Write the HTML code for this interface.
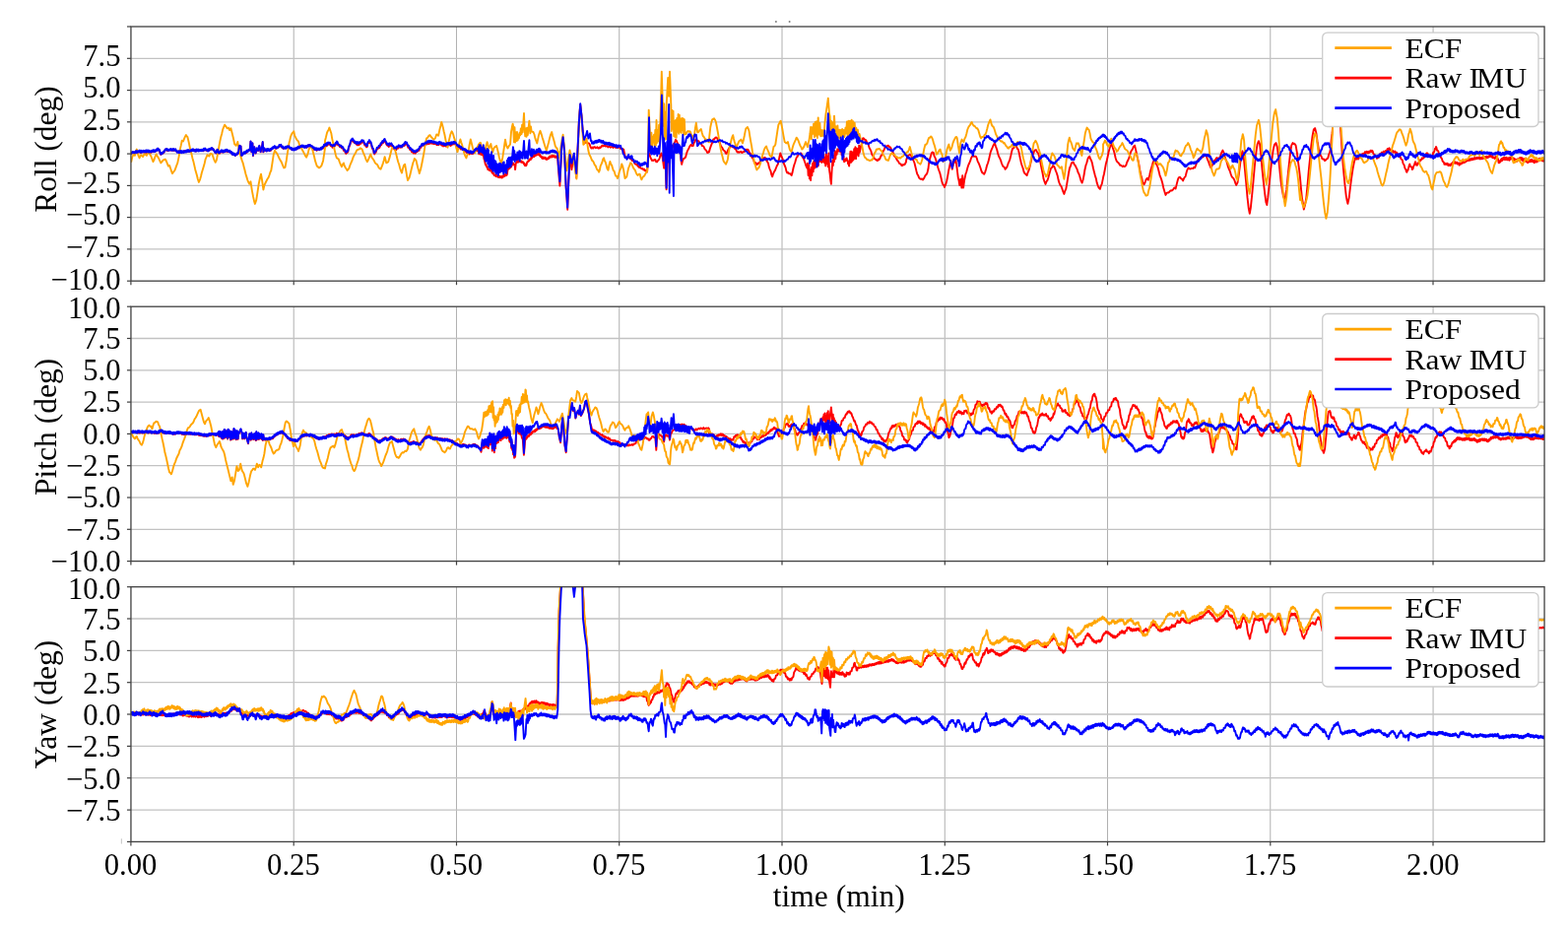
<!DOCTYPE html>
<html><head><meta charset="utf-8"><title>Roll Pitch Yaw</title>
<style>
html,body{margin:0;padding:0;background:#fff;}
body{width:1592px;height:946px;overflow:hidden;}
svg{display:block;font-family:"Liberation Serif",serif;}
.t{font-size:31.5px;fill:#000;}
.g{stroke:#c2c2c2;stroke-width:1.3;fill:none;}
.gv{stroke:#b0b0b0;stroke-width:1.0;}
.sp{stroke:#404040;stroke-width:1.3;fill:none;}
.tk{stroke:#404040;stroke-width:1.2;fill:none;}
.c{fill:none;stroke-width:1.9;stroke-linejoin:round;stroke-linecap:butt;}
</style></head><body>
<svg width="1592" height="946" viewBox="0 0 1592 946">
<rect width="1592" height="946" fill="#fff"/>

<g id="ax0">
<line class="g gv" x1="298.21" y1="27.0" x2="298.21" y2="285.2"/>
<line class="g gv" x1="463.47" y1="27.0" x2="463.47" y2="285.2"/>
<line class="g gv" x1="628.74" y1="27.0" x2="628.74" y2="285.2"/>
<line class="g gv" x1="794.00" y1="27.0" x2="794.00" y2="285.2"/>
<line class="g gv" x1="959.26" y1="27.0" x2="959.26" y2="285.2"/>
<line class="g gv" x1="1124.52" y1="27.0" x2="1124.52" y2="285.2"/>
<line class="g gv" x1="1289.79" y1="27.0" x2="1289.79" y2="285.2"/>
<line class="g gv" x1="1455.05" y1="27.0" x2="1455.05" y2="285.2"/>
<line class="g" x1="132.95" y1="59.3" x2="1568.05" y2="59.3"/>
<line class="g" x1="132.95" y1="91.6" x2="1568.05" y2="91.6"/>
<line class="g" x1="132.95" y1="123.8" x2="1568.05" y2="123.8"/>
<line class="g" x1="132.95" y1="156.1" x2="1568.05" y2="156.1"/>
<line class="g" x1="132.95" y1="188.4" x2="1568.05" y2="188.4"/>
<line class="g" x1="132.95" y1="220.6" x2="1568.05" y2="220.6"/>
<line class="g" x1="132.95" y1="252.9" x2="1568.05" y2="252.9"/>
<clipPath id="cp0"><rect x="132.95" y="27.0" width="1435.1" height="258.2"/></clipPath>
<g clip-path="url(#cp0)">
<path class="c" stroke="#ff0000" d="M133.1,156.9l1.3-2.5 .9,.3 1,.9 1.2-1.8 1,1.3 .9-.1 1-.9 .9-.3 1,1.2 .9,0 1-1.1 .9-.1 .8,.9 .9-1.2 .8,.9 .8,.5 .9-2 .8,.2 .9,1.1 .8-.8 .8,1 .9,.4 .8-1.6 .9-.1 .8,1.2 .8-1.2 .9,.7 .9-.6 1-2 .9,0 .9,.7 1,3.1 .9,1.9 1-1.1 .9-.2 1-.5 .9-2 1-1.5 .9-.4 .9,1.9 1,0 .9-1.2 1,0 .8,.8 .8-1 .9,.8 .8,.5 .9-1.2 .8,.1 .8,1.5 .9-.4 .8,1.4 .9,.2 .8-1.4 .8,.6 .9,.7 .8-.7 .8,.6 .9,.2 .8-1.5 .9,.7 .8,.5 .8-1.2 .9,0 .8,.9 .9-1.2 .8,1 .8-.1 .9-1.8 .8,.6 .8,.5 .9-1.1 .8,1.2 .9,.5 .8-1 .8-.1 .9,.6 .8-1 .9,1 .8,0 .8-.9 .9,.3 1,.7 1.1-1.7 1,.4 1,1 .9,.2 .8-.9 .9,.5 .8-.8 .9-.9 .8,.7 .8-1.1 1,.6 .9,1.9 1,1.8 .9,.7 1.3-3.7 .9,1.5 1,2.2 .9-.1 .9-2.4 .9,0 .8,1.6 .9-.3 .8-.8 .8,.6 .9-1.1 .8-.4 .8,1.5 .9-.4 .8-.4 .9,1.2 .8-.2 .8,.4 .9,2 .8,.1 .9-.7 .8,1.5 .8-.2 .9-1.2 .8,.2 .8-.9 1.3-7.5 1.3,.6 .6,9.5 .9-1.8 1-.8 .8,.2 .9-1.1 .8,.3 .8,0 .9-1.8 .8-.1 1-.8 .9-1.7 .6-6.9 .9,10.7 1-8.8 .6,12.6 1.3-8.8 1.3,6.2 1.2-5 1.3,2.5 1.2-5 1.3,6.3 1.2-4.4 .9-5.7 .7,10.1 1-3.8 1.2,2.5 .9-.4 .8,.5 .8-1.3 1,.4 .9,.8 1-.2 .9-1.7 .9-1.2 .8,.4 .8-1 .9-.4 .8,1.8 .8-.2 1-1.2 .9,0 1-.4 .9-1.5 1,.6 .9,1.9 .9,.8 1-.2 .8-.7 .9,.7 .8-.6 .9-.9 1-.4 .9,1.7 1,.2 .8,.2 .9,1.3 .8-.2 .8-1.1 .9,1.1 .8-.7 .8-.9 .9,1 .8-1.3 .9-.8 .8,1.2 .8-1 .9-.9 .8,.9 .9-.7 .8-.5 .8,1.2 .9,0 .8-.9 .9,1.3 .8-1.1 .9-1.4 1,.2 .9,1.1 1,.1 .9,.2 1,1.7 .9,1.3 .9,0 .9-.4 .8,1.3 .9-.9 .8-.7 .8,1 .9-1 .8-1 .8,.7 .9-.9 .5-1.1 .5,1.5 .5-2.3 .5,1.1 .5-1.5 0,.7 .5-1.1 .5,1.2 .5-1.5 .5,1 .5-.9 .6-1.2 .7,.8 .6-.8 .6-.2 .7,2.2 .6,.5 .6-.4 .6,1.8 .7-.8 .6-.9 .6,.9 .7-1.3 .6-1.5 .6,.5 .6-2.1 .7,.4 .6,2.4 .6,.3 .7-.4 .6,2 .6-.3 .7-.2 .6,1.6 .6-.1 .6,0 .7,2.6 .6-.1 .6,.4 .7,2.3 .6,.4 .6-1.8 .6,.9 .7-1 .6-3.4 .6-1.6 .7-1.6 .6-2.2 .5-1.9 .6,.1 .5-1.3 .6-.5 .5,2.3 .5-.8 .6,1.5 .6,.6 .6-.7 .6,1.4 .5,.7 .6-1 .5,1.8 .5-1.4 .5,.5 .6,.7 .6-1.9 .6,.6 .7,0 .6-2.7 .6,.1 .7,1.3 .6-.7 .6,1.3 .7,2.3 .6,.2 .6-.2 .6,1.9 .7-.4 .6-3.1 .6-1.3 .5,.3 .5-1.4 .5,.5 .6,1.5 .5,.1 .6,2.1 .6,2.4 .6,1.4 .7,.6 .6,3.2 .6,1.2 .6-2 .7,.1 .6-1.8 .6-1.6 .7,.1 .6-1 .6-1.3 .6,.9 .7-1.5 .6-1.5 .6,.2 .7-1.9 .5-.7 .5,.7 .5-1.2 .6-1.7 .6-.2 .6,2.4 .5-.2 .6,2.2 .6,.9 .6-.8 .7,1.8 .6,.7 .6-2.1 .6,.1 .7,.9 .6-1.5 .6,1.2 .7,1.8 .6-.4 .6,1.2 .6,1.3 .7-.9 .6,.8 .6,.6 .7-1.9 .6,.1 .6,.3 .6-2.3 .7,.7 .6,.7 .6-.9 .7,.8 .6-.1 .6-1.7 .6,.6 .5,0 .6-1.7 .5,1 .5-2.2 .5-.3 .6,1.3 .6-.3 .6,1.5 .7,2 .6-.6 .6,1.2 .7,1.7 .6-.8 .6,1.6 .7,1.5 .6-.7 .6,1.1 .6,.9 .7-1.1 .6,.8 .6,.4 .7-2.2 .6,.5 .6,0 .6-1.7 .7,.5 .6-.1 .6-2.6 .7-.5 .6,.2 .6-2.7 .6,0 .7,.5 .6-.9 .6,1 .7-.3 .6-1.7 .6,.2 .6,.7 .7-1.5 .6,.1 .5,1 .5-1.5 .5,1.2 .5-1.8 .5,.5 .5,.8 .5-1.2 .5,1.5 .5-1.3 .5,.8 .5,.8 .5-1.8 .5,2 .5-1.5 .5,1.2 .6,.4 .5-1 .5,1.9 .5-1.6 .5,.9 .5,.7 .5-1.8 .5,1.3 .5-1.3 .5,.5 .5,.8 .5-.6 .5,1.6 .5-1.2 .5,.6 .5,1.3 .5-1.3 .5,1.1 .5-1.1 .5,.6 .5,.7 .5-1.3 .5,1.3 .5-2 .5,.1 .5,.8 .5-1.5 .5,1.5 .5-.8 .5,.6 .5,.8 .6-1.7 .5,1.1 .5-1.5 .5,.1 .6,.5 .6-1.8 .6,.6 .7,1.4 .6-.6 .6,1.1 .7,1.7 .6-.7 .6,.9 .6,1.3 .7-1 .6,1 .6,1.1 .7-.9 .6,1 .6,.6 .7-.5 .6,1.2 .5,.7 .5-1.5 .5,1.8 .5-1.3 .5,1.5 .5,1 .5-1.3 .5,2.1 .5-1.2 .5,.7 .5,1.2 .5-1.5 .5,1 .5-1.4 .5,.7 .7,1 .6-1.6 .6,1.2 .6-.6 .7-2.5 .6,0 .6,0 .7-1 .6,.3 .5,1.2 .5-1.9 .5,1.5 .5-1.3 .5,.5 -.7-1.8 .4,6.1 .5-7.9 .5,5.7 .5-5.7 .1,7.7 .6,.9 .6-1.5 .5,1.8 .6-1.4 .6,1.5 .6,3.6 .6,1.6 .7,3.7 .5,1.4 .5-.2 .6,2.2 .5-.6 .5,2.8 .6-.2 .5-.2 .5,1.5 .5-1.3 .6,1.5 .5-.8 .5,1.2 .6,1.8 .5-1 .5,1.9 .5-.6 .6,2.3 .5,0 .5-.6 .6,1.4 .5-1.2 .5,1.6 .5-1.1 .6,1.2 .5,.5 .5-1.3 .5,1.5 .6-1.4 .5,1.6 .5-.9 .6-.5 .5,1.6 .5-1.9 .5,1.3 .6-2 .5,.8 .5,.2 .6-1.8 .5,1.2 .5-1.7 .5,1.4 .6-1.2 .6-4.7 .5-1.4 .5,.7 .5-1.8 .5,1.2 .5-1.3 .6-1.1 .5,1 .5-2.6 .6,.8 .5-2.1 .5,.2 .7,1.5 .6-.2 .6,5.1 .7-6.4 .6-1.2 .5-.9 .5,1.2 .6-1.7 .5,1.4 .5-1.8 .6,1.1 .5,.3 .5-.9 .5,1.6 .6-1.2 .5,1.3 .5-.4 .6-.1 .5,2.2 .5-1 .5,2.4 .6-1.2 .5,1.5 .6-.6 .7-3.1 .6-.8 .5,.3 .5-1.4 .5,.6 .5-1.9 .5,.5 .5,.2 .6-2.4 .5,1 .5-2.2 .5,.3 .5,.5 .5-1.8 .5,1.6 .5-2.2 .5,.6 .5,.4 .6-1.5 .5,1.1 .5-1.4 .6,.9 .5-.8 .5-.5 .5,2.2 .6-1.1 .5,2.3 .5-.8 .6,1.1 .5,1.4 .5-1.5 .5,1.8 .6-1.6 .5,1.3 .5-.1 .6-.9 .5,1.8 .5-1.2 .5,1.6 .6-1.3 .5,.6 .5,.1 .6-1.9 .5,1 .5-2 .5,1.2 .6-.9 .5-.6 .5,1.3 .5-1.8 .6,1.4 .5-1.2 .5,.9 .5,.6 .5-1.1 .6,1.5 .5-1.2 .5,.2 .4,1.1 .5-.5 .5,3.8 .4,6.2 .8,9.9 .8,9.3 1-20.3 .9-20.2 1.3-8.2 1.2,10.7 1,20.1 .9,19.7 .8,11.1 .7,11.3 .7-17.9 .7-18.3 .9-19.1 .9,7.2 1,7.5 .8-5.1 .9-5.9 .8-5 .7,8.2 .8,7.7 .8,8.3 .7-15.9 .8-16.4 1.2-25.2 1.3-17 1.2,10.7 1.3,16.4 1.3,12.5 .8-.6 .8-.1 .9-.5 .8,.3 .8,.8 .9,.1 .8,1.2 .9,2.8 .8,1.1 .8-1 .9,.9 .8-1.2 .9-.2 .8,1.2 .8-.4 .9-.7 .8,1.4 .9,0 .8-1.2 .8,.5 .9-1.2 .8-1.1 .8,.9 .9-.4 .8-1 .9,1.5 .8-.5 .8,0 .9,1.4 .8-.8 .9,0 .8,1.1 .8-.5 1-.7 .9,1.4 1-1.4 .9,.7 .9,.7 1-1.3 .9,1.4 1-.8 .8-.4 .9,1.9 .8-.3 .8,1.4 .9-.8 .8,.7 1,4.9 .9,3.3 1-.5 1.1,1 1-1.1 .9,.3 .9,1.7 .9-.3 .9,2 .8,0 1.1,.9 1,2.4 1.1,.5 .8,0 .9,1.8 .8-.2 .8,1.7 .9-.4 .8,.9 .9,.7 .8-.4 .8,1.4 .9-.7 .8,1.7 .8-.2 1.3,1.3 1.3-20.2 .9,2 1,3.1 .9,2.2 .9,1.5 .9-.7 .8,.6 .9-1.1 .8,.3 .8,2.2 .9,0 .8-1.5 .8-.6 .9-1.7 .9-3.6 1-1.4 1.2,5 1.3,10.1 1.2-13 1.3,34.6 .9-21.3 1-22.9 .9-.2 1,1.9 .9-.7 1,1.5 .9-1.8 1-3 .9-1.3 .9-2.7 1,1.3 .9,2.4 1,1.6 .9,1 .8,5.3 .7,7.5 .8,6 1-3.8 1.1-2.5 1,0 .9-1.2 .9-3.5 1-2.8 .9-1.5 1-2.3 .9-1.6 1-.9 .9,1.3 .9,0 .9-2.9 .8-1.1 .9-2.3 .8-.3 .8,1.3 .9,.2 .8,.3 .9,2.1 .8,.1 .8,.5 .9,2 .8,.1 .8,.7 .9,2.2 .8,.8 1,1.1 .9,2.1 1-.2 .9-1.7 0,1.1 .9-3.6 1-2.7 .9-2.2 1-3.5 .8-1.1 .9-.1 .8-1.3 .9-.2 1,.8 .9,2.4 1,1.4 .8,.9 .8,2.8 .9,1.3 .8,1 .9,2.1 .8,.7 .8,.4 .9,2.3 .8,.4 1-2.5 .9-1.9 .9-1.2 1-2.5 .9,0 1,1.3 .9-.9 1,.8 .9,1.9 .9,.4 1,2.2 .9,1.2 .9-.7 .8,.7 .8-.6 .9-.4 .8,1.3 .9-.3 .8-1.1 .8,.4 .9-1.2 .8-1.1 .9,.6 .8-.8 .8,.7 .9,2.1 .8,1 .8,.9 .9,2.9 .8,1.2 .9,1.2 .8,2.5 .8,1.4 .9-.3 .8,1.8 .9-.3 .8-1.3 .8,.4 .9-1.6 .8-1.6 .8-.2 .9-2 .8-.3 .9,.6 .8-.9 .8,1.3 .9,1.9 .8,1.2 .9,1.6 .8,3.8 .8,2.2 .9,1.9 .8,3.7 .9,1.9 .9-3 .9-2 1-1.4 .9-2.4 1-2.4 .9-1.4 .8-3.3 .9-4.7 .8-3.3 1,3.1 .9,1.9 .9,2.2 .8,3.6 .8,1.8 .9,2.1 .8,3.5 .8,1.9 .9-.5 .8,1.2 .9,0 .9,.5 .9,1.4 1-3.2 .9-4.4 .9-3.3 .8-2.2 .9-3.3 .8-2.2 .8-.6 .9-2.2 .8-.5 .8,.1 .9-.9 .8,1.1 .9,3 .8,.9 .9,2.3 1,2.8 .9,2.9 1,2.1 .6-4.9 .6,12.4 .7-10.4 .6,13.8 .6-8.7 .6,10.3 .7-13 .6,8.1 .6-12.4 .7,8.6 .6-11.1 .6,7.6 .6-6.4 .7,5.3 .6-8 .6,5 .7-5.1 .6,6.9 .6-10.3 .6,5.5 .7-6.3 .6,6.7 .6-6.7 .7,7.6 .6-7.6 .6,6.7 .7-7.3 .6,8.5 .6-5.3 .6,8.4 .7-12.1 .6,9.9 .6-7.5 .7,10.7 .6-13.9 .6,16.8 .6,4.1 .7,6.6 .6,3.9 .6-12.3 .7-11.3 .6,4.8 .6-9.9 .6,6 .7-11.2 .6,8.4 .6-7 .7,2.5 .6-5.7 .6,2.5 .6-1.9 .7,1.8 .6-1.5 .6,1.6 .7-2.9 .6,6.6 .6-5.4 .6,4.8 .7,2.5 .6,4.9 .5-.3 .5-1.7 .5,.7 .5-1.9 .5-.6 .5,2.6 .5,0 .5,3.3 .5,.3 .5,2 .7-6.4 .6-8.4 .6,11.1 .7-11.1 .6,9.8 .6-8.7 .6,7.4 .7-11.2 .6,9.7 .6-11.6 .7,11.9 .6-10.6 .6,6.4 .6-5.7 .7,7.2 .6-10.8 .6,7.2 1.1-5.5 1-3.6 1.1-5.4 .8-.2 .9,1.6 .8-.1 .8,.8 .9,2.2 .8,.7 .8,1.9 .9,3.1 .8,1.3 .9,1.8 .8,3.2 .8,1.3 .9,.8 .8,2.1 .9,.9 .8,.1 .8,1.1 .9,.1 .8-1.5 .8,.4 .9-1.5 .8-2.3 .9-.5 .8-2.2 .8-2.3 .9-1.3 .8-2.7 .9-.6 .8,.2 .8-.8 .9-.2 .8,1.7 .8-.3 .9,1.3 .8,2.6 .9,1.2 .8,1.1 .8,2.7 .9,1.2 .8,.5 .9,2.1 .8,1.2 .8,.7 .9,1.9 .8,.5 .8,.2 .9,1.7 .8,0 .9-1 .8,.4 .8-.7 1.3-2.5 0-1.2 .9-2.9 1-2.2 .9-.2 1-1 .9,.6 1,1.9 .9,2.6 .9,1.2 1,2.5 .9,3.7 1,4.2 .9,3.4 1,1.5 .9,2.3 1,.9 .9,.3 .9-.3 1,1 .9-1.1 1-2.1 .9-1.6 1-.9 .8-2 .8-3 .7-5.9 .8-4.2 .9-2.8 1-3.5 .9-.9 1,.3 .9,3.6 1,2 .9,2.7 .9,3.6 1,3.6 .9,2.7 1,2.6 .9,3.7 1,4.4 .9,3.2 1,.9 .9,2.2 1.3-3.1 .9-3.2 .9-4.4 1-5.9 .9-4.2 1.3-6.2 .7,4.6 .8,4.2 .8-3.8 .8-2.5 1-1.2 .9-2.6 1.3,8.8 1.2,10.1 .8,3 .7,4.5 1-6.3 1.1,8.8 .8-12.5 .9,12.5 1-7.5 1.3-6.3 .9-2.6 1-3.7 .9-2.9 1-2.1 .9-2.1 .9-3 1-1.7 .9-.8 1,.8 .9-.1 1,.1 .9,1.7 .9,3.2 1,1.9 .9,2.2 1,2.8 .9,3 1,2 .9,.2 .9,1.1 1-2.2 .9-2.8 1-4 .9-2.3 1-3.4 .9-4.2 .9-3.8 1-2.5 .9-1.9 1-2.5 1.2-1.9 1.3,3.8 .9,2.4 1,3.9 .9,3.1 1,1.9 .9,1.9 1,3.2 .9,2.2 .9,1.5 1,.5 .9,2.1 1-1.1 .9-1.5 1-3 .9-2 .9-2.4 1-3.9 .9-4.2 1-3.3 .9,.1 1-1.4 .9-.5 .9-.1 1,2.4 .9,.7 1,4.1 .9,4.7 1,4.5 .9,3.1 1,2.8 .9,3.5 .9,1.7 1,.8 1.2,1.3 1-3.1 .9-2 1-3.5 .9-4 1-4.2 .9-3.4 .9-2 1-3 .9-.7 1,.1 .9,2.1 1,1 .9,2.7 .9,3.6 1,5.7 .9,4.4 1,4.7 .9,5.3 1,2.9 .9,2.2 1-2.6 .9-1.2 .9-2.5 1-3.8 .9-3.3 1-3 .9-.4 1-2.1 .9,.7 .9,1.8 1,2.9 .9,2.1 1,3.3 .9,4.3 1,3 .9,2 .9,1.1 1,2.7 .9,2.8 1,2.2 .9-3.1 1-1.9 .9-5 1-6.3 .9-5.4 .9-4.7 1-2 .9-3 1-.8 .9,.1 1,2.3 .9,.9 .9,1.8 1,2 .9,3.1 1,1.9 .9,2.7 1,3.6 1.2,2.5 1-3.1 .9-4.4 .9-5.6 1-4.5 .9-2.5 1-3.8 .9-2.1 1-1 .9,2.7 1,1.7 .9,3.1 .9,4.4 1,4.1 .9,3.5 1,3.2 .9,4.3 1,2.9 .9,2.1 1.3,1.3 .9-3.3 .9-1.7 1.3-6.3 0-.3 .9-3.6 1-5.2 .9-4.9 1-3.9 .9-4 1-4.8 .9-3.4 .9-2.9 1.3-1.2 .9,3.4 1,2.8 .9,3.2 1,4.4 .9,2.7 1,1.7 .9,.4 1,1.5 .8,1.4 .8-.3 .9,.8 .8,.8 .8-.9 .9,.7 .9-.2 1-1.1 .9-3 1-2 .9-1.8 .9-3.2 1-3.2 .9-1.9 1-1.1 .9-2.6 1.3-1.3 1.2,5 1.3,6.3 .9,3.9 1,4.9 .9,5.2 1,4.9 .9,3.1 1,4.4 1.2,1.9 1-1.7 .9-2.7 1.3-1.9 1.2,1.9 1.3-5 .9-4.2 1-3.3 .9-3 .9-3.3 1-.5 .9,.5 1,2.5 .9,1.2 1,2.8 .9,3.5 .9,3.8 1,2.5 .9,2.6 1,3.7 .9,4.2 1,3.4 1.2,3.7 1-1.8 .9-.7 1,.2 .9-.8 .9-1.3 1,0 .9-.2 1-1 1.2-1.9 1.3,1.2 1.2-5 1-3.9 .9-2.4 1.3-.6 .9,1.4 1,.5 1.2,1.9 1.3-3.2 1.2-1.2 1.3-5.1 .9-2.4 1-1.3 .9,1 1,.2 .9-.6 1,0 .8,.2 .8-1.3 .9,.5 .9-2.2 1-2.9 .9-2 1-1.8 .9-.4 .9-.8 1-.7 .9,.1 1-.3 .9-1.6 1-.9 .9,.2 .9,3 1,2.7 .9,1.9 1,3.1 1.2,2.6 1-1.6 .9-2.2 1-2.6 .9-1.2 1-.8 .9-1.7 .9,.1 1,1.1 .9-.9 1-1.6 1.2-3.7 1.3-2.6 1.2,2.6 1.3,5 .9,2.3 1,2.7 .9,3.6 1,2.7 .9,1.8 1,3.2 .9,2.5 .9,1.3 1,.8 .9,1.7 1,3.1 .9,2 1.3-2.6 1.2-7.5 1.3-10.1 1.3-10 1.2-4.4 1.3,6.9 1.2,12.6 1.3,13.8 1.2,13.8 1.3,11.4 1,5 1.1-6.3 1.3-12.6 1.3-13.8 1.2-13.8 1.3-12.6 .8-6 .8-5.3 1.3-3.2 1.2,3.2 1.3,12.5 1.2,13.9 1.3,12.5 1.3,11.4 1.2,8.8 .9,2.5 1-7.6 1.3-12.5 1.2-12.6 1.3-11.3 .7-5.1 .8-6.3 .8-3.7 .8-2.5 1.3-1.3 1.2,3.8 1.3,10 1.2,12.6 1.3,12.6 1.3,8.8 1.2,6.3 .8,1.8 .9,.7 .7-4.8 .8-4 1.2-12.6 1.3-12.6 1.2-11.3 1.3-8.8 1.3-2.5 .9,.9 .9-.3 1.3,1.9 1.3,7.6 1.2,10 1,7.1 .9,8 0,.1 .9,10.4 1,9.8 .9,5.1 1,6.8 1.2-4.4 1.3-7.5 1.2-12.6 1.3-15.1 1.3-12.6 1.2-12.6 1.3-10 1.2-6.3 1.3-1.3 1.3,5.1 1.2,8.8 1.3,7.5 .9,3.6 1,2.7 .8,.9 .8,2.4 .9,.5 .8-.2 .8,1.6 .9-.2 .8-1.3 .9-.1 .8-1.1 .8-3.3 .9-2.1 .8-3.4 .8-8.8 .9-7.5 .7-7.2 .8-7.9 .9-6.6 .9-6 1-1.8 .9-3.2 .8,3 .7,4.5 1.3,12.6 1.3,18.8 1.2,18.9 1.3,15.1 1.2,12.6 1.3,11.3 .8,4.3 .8,3.3 1.3-6.3 1.2-10.1 1.3-10.1 1.3-8.8 1.2-6.3 1.3-5 .6-.1 .6,1.4 .7,0 .6-1 .6,.9 .6-1.2 .7-1.9 .6,.7 .6-1.3 .7-1.3 .6,1.1 .6-1.1 .7-.8 .6,1.1 .6-1.5 .6-1.2 .7,1.4 .6-1.5 .6-.3 .7,1.7 .6-.1 .6-1.6 .6,1.1 .7-1.4 .6-.7 .6,1.4 .7-1.3 .6,.4 .6,2.4 .6,.9 .7,.3 .6,2.2 .6,.1 .7-.1 .6,1.9 .6-.6 .6-1.3 .7,.8 .6-2 .6-1.5 .7,.3 .6-1.3 .6-.8 .6,1.3 .7-1.1 .6-1.1 .6,1.3 .7-.9 .6-1 .6,.7 .7-.9 .6-1.8 .6,1.2 .6-1.3 .7-.6 .6,2.2 .6-.4 .7,.2 .6,1.6 .6-.5 .6-.3 .7,1.7 .6-.8 .6-.6 .7,1.7 .6-.4 .6,.1 .6,2 .7-.3 .6,.6 .6,2.2 .7-.2 .6,.2 .6,2.2 .6,.1 .7,.7 .6,3 .6,1.3 .7,1.1 .6,2.7 .6,1.2 .5,.4 .5,2.3 .5,.5 .6-2.4 .5,.3 .6-2.3 .6-2.2 .6-1.6 .6,2.3 .7,.2 .6,.4 .6,2.5 .7-.4 .6-2.6 .6-1.1 .7-1.7 .6-2.1 .6,1.1 .6,2.7 .7-.2 .6-1.1 .6-1.5 .7,.3 .6-1.3 .6-1.8 .6,.4 .7-1.1 .6-1.3 .6,1 .7-1 .6-1.2 .6,.5 .6-1.2 .7-2.2 .6,.6 .6-1.5 .7,.6 .6,2.1 .6-.2 .6-.1 .7,1.8 .6-.4 .6-.8 .7,.8 .6-1.3 .6-3 .6-.1 .7-1.9 .5-2 .5,.3 .5-2.1 .5,1 .6,2.9 .5-.1 .7,.6 .6,2.4 .6,.7 .6,.4 .7,2.7 .6,.7 .6,.9 .7,2.5 .6,.4 .6,.6 .6,2.2 .7-.3 .6-.9 .6,1.3 .7-1 .6-.2 .6,2.3 .6-.9 .7-.5 .6,1.5 .6-.3 .7-1.8 .6,1.1 .6-1.9 .6-1 .7,1.4 .6-1 .6-.5 .7,1.7 .6-.6 .6-.7 .6,1.9 .7-.5 .6-.7 .6,2.4 .7-1.1 .6-1.1 .6,1 .7-1.2 .6-1.1 .6,1.3 .6-.8 .5-1 .5,1.3 .5-1.8 .6,.9 .5-.6 .5-1.1 .5,1.1 .5-1.7 .5,1.2 .5-.8 .5-.6 .5,1.3 .5-1.6 .5,1.2 .5-.9 .5-.8 .5,1.5 .5-1.5 .5,1.3 .5-1.2 .5-.7 .5,1.4 .5-1.5 .5,1.3 .5-1.1 .5-.3 .5,1.1 .5-1.3 .5,.9 .5-.4 .5-.7 .5,1.7 .5-1.3 .5,1.4 .5-.5 .6-1.1 .5,1.5 .5-1.7 .5,1.5 .5-.8 .5-.7 .5,.9 .5-1.3 .5,1.2 .5-.7 .5-1 .5,1.6 .5-1.5 .5,1.3 .5-1 .5-.9 .5,1 .5-1.5 .5,1.2 .5-.5 .5-.4 .5,1.6 .5-.9 .5,1.6 .5-.6 .7-.3 .6,1.6 .6-.7 .6-1.3 .7,1.6 .6-1.5 .3,1.2 .6,.9 .7,4.1 .6,0 .6-2.1 .6,1.2 .7-2.8 .5-.5 .5,1.9 .5-2.6 .5,1.7 .5-1.2 .5-1.3 .5,2.4 .5-2 .5,2.1 .5-.5 .5-1.8 .5,2.6 .5-1.9 .5,1.8 .5-1.4 .5-.8 .5,2.6 .5-3 .5,2 .5-1.4 .5-1.3 .5,2.4 .5-1.7 .6,2.4 .5-.5 .5-.8 .5,2.8 .5-2.2 .5,2.4 .5-1.6 .5-.3 .5,2 .5-2.5 .5,1.5 .5-1.3 .5-.7 .5,1.4 .5-2.3 .5,2.1 .5-1.2 .5-.9 .5,2.5 .5-2 .5,3 .5-1.3 .5-.6 .5,2 .5-2.6 .5,2.9 .5-1.1 .5-.3 .5,2.1 .5-1.6 .5,2.2 .5-1.1 .6-1.4 .5,1.7 .5-2.1 .5,1.9 .5-.7 .5-1.6 .5,2.1 .5-1.7 .5,2 .5-.2 .5-1.4 .5,2.6 .5-2.4 .5,1.6 .5-1.7 .5-.4 .5,2.1 .5-2.5 .5,1.7 .5-1.5 .5-1 .5,2.2 .5-2.7 .5,1.8 .5-.9 .6-.9 .6,2.3 .6-2.1 .5,2.7 .6-1.8 .6,1.6 .6-1.2"/>
<path class="c" stroke="#ffa500" d="M133.1,164.8l1.3-5.7 1.3-2.5 1.2,1.3 1-3.7 .9-2.6 1.3,5 .7,2 .8,1.8 .8-1.9 .8-1.3 1,1.1 .9,.8 .9-1.8 1-1.3 .9,1 1,.9 .9-2.2 1-1.6 .9,1.7 .9,1.4 1,1.9 .9,2.5 1,2.6 .8-1.6 .7-2.2 .9-2.3 .8-1.5 .7,1.6 .8,.9 .9,1.6 1,2.2 1.2,2.5 1-1 .9-1.5 .9-.8 .8,.2 .8-.7 1,1.5 .9,2.3 1.3,3.2 1.2-.7 1.3,3.8 .8,2.4 .8,2 .8-1.2 .7-.7 1-1.4 .9-2.4 1-2.7 .9-2.3 1.3-6.3 1.2-7.5 1-4.2 .9-4.6 1.3,.6 1.2-3.1 .9-1.9 .8-1.3 .7,1.2 .8,.7 1.2,5 1.3,6.3 1.3,5 1.2,5.1 1,3.5 .9,4 .9,4 1,3.6 .8,2.7 .8,3.6 1.1,3.1 1.3-3.1 .8-2.8 .8-3.5 1-3.3 .9-3 1-3.4 .9-4.2 1-2.2 .9-2.2 .9,1 1,.3 1.2-2.5 1,.1 .9,.5 1.3,3.8 .9,2.4 1,2 1.2-2.5 1.3-7 1.3-7.5 .9-4.7 .9-4.1 1-3.6 .9-4 1-2.5 .9-2.2 1.3,1.6 1.2,1.9 .8,0 .7-.6 1,2.5 1.3-1.9 1.3,5 1.2,5.1 1.3,6.2 .7,.4 .8,.9 .8-1.6 .8-2.2 .9,5.1 1,5 1.3,5 1.2,3.8 1,2.7 .9,3.6 1,3.9 .9,3.6 .9,2.9 1,3.4 .9,2.1 1,1.7 1.2-2.5 1.3,8.8 1.2,6.3 1.1,5 .8,2.5 1.3-3.8 1.2-7.5 1.3-8.8 1.3-6.3 1-3.8 1.1,6.3 1.3,9.5 1-4.4 1.2-2.6 1-2 .9-1.7 1-1.5 .9-2.3 .9-2.8 1-2.2 1.2-7.6 1.3-8.8 1.3-3.8 .9,1.6 .9,.9 1,1.8 .9,2 1,2.2 .9,1.6 1,1.5 .9,2.3 .8,2 .8,1.7 1.3-.6 1.3-6.9 .7-5.3 .8-4.8 1.2-7.5 .8-3 .7-3.3 .8-2.2 .9-1.6 .8-.8 .8-1.1 .9,4.4 .9,1.7 1,2.1 .9,1.1 1,.8 1.2,4.4 1,.9 .9,1.6 .9,2.2 1,1.6 .9,1.8 1,2 1.2,1.8 1.3-3.1 1.2-5 1-1.6 .9-2.2 1.3,2.5 1.3,5 .9,3.4 .9,4.2 1,3.1 .9,2.6 .9,.5 .8,1.2 .8,.1 1-1.1 .9-.7 1-2.7 .9-3 1-6.5 .9-6.1 0-7.5 .9-3.4 1-4.2 .8-2 .9-1.4 .8-2.2 .9,2.7 1,2.9 .9,5.4 1,4.7 .9,4.2 1,4.6 .9,3.6 .9,2.7 1,.5 .9,.7 1,2.9 .9,2.2 1.3,2.5 .9-2.2 1-1.6 .9,3 1,2 .9,1.1 .9,1.5 1-1.1 .9-1.5 1-2.9 .9-2.1 1-2.2 .9-2.8 .9-2.2 1-1.6 .9-1.6 1-2.2 .9-.8 1-.4 .9-.3 .9-1 1,.5 .9,.8 1,3 .9,2 1,2.4 .9,2.6 1.3,2.6 .9-1.5 1-2.3 .8-2.2 .8-1.6 .7,2.1 .8,1.7 .9,.9 1,1.6 1.2,2.5 1,1 .9,.3 1,1.8 .9,1.9 1,.9 .9,.4 .8-2.1 .7-1.7 .8-2.3 .8-2.7 .9-3.8 .8,2.9 .9,3.4 .9-.4 1-.8 1.2-3.8 1-4 .9-3.6 1.3-3.7 .9,.9 .9,.3 1,3 .9,3.3 1,4.2 .9,3.4 1,2.8 .9,3.4 .9,3 1,2.1 .9-4 1-3.6 1.2-1.2 1.3,7.5 .8,4.9 .8,3.9 .8-1.4 .7-1.1 1-3.4 .9-4.1 1-4.1 .9-3.5 .8-1.9 .7-2.5 .8,.9 .9,1 .9,3.9 .9,3.6 .8,2.7 .7,3 1.3-4.4 .8-3.5 .8-4 1-5.2 .9-4.9 1.3-8.8 1.2-5 1-.5 .9-1.4 .8-1 .9-.3 .7,1.5 .8,1 .9,.7 1,1.2 .9-.3 .9-.9 1.3-3.8 1,.4 .9,.8 1.3-6.3 .9-3.4 .9-4.1 .8,2.4 .7,2.6 .9,4.3 .8,3.3 1.2,6.3 1,3.3 .9,3.6 1.3-6.9 .7-2.9 .8-3.4 1.3-3.2 .8,1.2 .8,2 .9,3.4 1,2.9 1.2,7.5 1.3,3.8 1.2-6.3 .8-3.5 .8-2.8 .8,2.7 .8,2.3 .8,3 .8,3.3 .8,2.9 .7,2.2 1.3,2.5 .9-2.9 1-2.2 1.2-7.5 1.3-6.3 1.3,5 1.2,5.1 1,2.1 .9,1.6 .9-2.7 1-2.3 .9-1.5 1-2.3 .9-1.1 1-.7 .9,3.1 .9,2.5 .4-1.1 .9,.7 .8,2.2 .9,.9 .9-5.2 1-3.6 .9,3.5 1,2.8 .9-2.4 1-2 .9,4.5 1,3.7 .9-3.4 1-1.7 .9-.2 1-1 .9,3.3 1,4.3 .9,4.4 1,3.2 1.3,2.5 1.2-6.3 1.3-8.9 1.3-8.9 1.2,6.4 1.3,2.5 1.3-2.5 1.2-1.3 1-12.7 .8-4.7 .8-3.5 .6,2.5 .7,15.9 .6-15 .6,15.3 .7-10.1 .6,8.6 .6-9.1 .7,8.6 .6-5.9 .6,3.9 .7-5.7 .6,2.6 .6-7 .7,5.7 .6-9.4 .6,7.6 1.3-19.3 .5,13.1 .7,10.1 .6-7.7 .7,8.2 .6-9 .7,7.5 .6-5.4 1-9.2 .4,6.2 .6,6.5 .6-6.8 .6,4.6 1,.8 .9,.1 1,2.5 .9,3.9 1,2.8 .9,2.2 1.3-6.3 .9-3.6 1-2.7 1.3,3.8 .9,3.2 1,3.1 .9,3 1,3.3 1.2,3.8 1.3-5 .9-3.2 1-4.4 1.1-3.8 1.1-2.6 .8,3.7 .8,2.7 1,3.5 .9,4.1 1,1.9 .9,.6 1.3,5.1 .3,5 .8-4.7 .8-3 .9-4.8 .9-6.4 1-5 1.2,11.4 .9,8.7 .8,7.2 .8,9.2 1-5.4 .9-7.2 1.3-8.1 .8,3.5 .8,4.6 1.1,1.4 1.1,1.1 .9,4.1 1,6 1.2,8.4 1.3-23.9 1.2-34.8 1.3-15.1 1.2,10.1 1.3,20.1 .6,8.8 1-1.2 .9-2.6 1.3-2.5 .9,6.1 1,6.5 .8,3.2 .8,1.8 .7,1.2 .8,2.2 .8,1.7 .9,.5 .8,1.6 .9,2.3 .8,.6 .8,2.1 .9,2.2 .8,.2 .9,2 .8-2 .8-4.3 .9-1.9 .8-1.8 .8-3.2 .9-1.2 .8,3 .9,1.5 .8,3 .9,3.4 1,1.6 .9-5 1-3.8 .8,2.6 .8,.8 .9,2.9 .8,2.7 .9,.7 .8,2.9 .8,2 .9,.1 .8,2.3 .9-1.9 .8-4.1 .8-2.2 1-2.5 .9-3.8 1,2.7 .9,3.6 1.3,8.2 .9-.6 1-1.3 .9-4.9 .9-3.9 1-2.1 .9-2.9 1,.5 .9,2 1,2.5 .9,1.3 .9,1 1,2.7 .9,1.9 1,.7 .9-1.2 1-.1 .9,3.5 .9,2.2 1-2.2 .9-1 1-.7 .9-1.8 1-1.8 .9-.7 .9-16.4 .7-46.1 1.2,23.2 .7,13 .8-13 .7,15.6 .7-11.8 .6,6 .6-8 .7,11.3 .6-16 .6,15.8 .6-25.7 .7,22.9 .6-12.8 .6,11 .7-16.3 .6,18.1 1.1-35.8 1-36.5 1,32.2 .7,22.9 .6-22.6 .6,36.2 .6-27.7 .7,28 .6-33.2 .8-15.2 .8-14.3 .9,18.8 .9-25.1 1.3,33.6 .5,26.9 .5-21.3 .6,18.9 .6-18.1 .7,25.5 .6-15 .6,16.2 .6-17.4 .7,17.8 .6-19.7 .6,13.8 .7-17.8 .6,19.8 .6-19 .6,16.9 .7-12.9 .6,14.1 .6-14.9 .7,12.4 .6-12.2 .6,16.4 .6-15.5 .7,15.3 1-.4 1.1-2.2 1-.8 .9,.8 .8-.6 .8,1 .9,2.7 .8,.7 .8,2.9 .8-1.8 .8-3.2 .8-6 .8-4.7 1.3,9.4 .9,.1 .9-1.3 1-1.3 .9-.6 1,3.9 .9,3 1,1 .9,1.5 .9,1.5 1-.2 .8,.3 .9,1.9 .8,.3 0-4 1.3-11.3 .9-4.2 .9-3.4 1-.4 .9-.8 1,1.5 .9,2.3 1,5.3 .9,4.7 .9,5.3 1,6 .9,5.4 1,4.7 .9,3.3 1,4.3 .8,1.6 .8,.8 .9,1.3 .9-2 1-3 .9-6.6 1-6 .9-3.6 .9-3.9 .8-2.7 .8-1.7 .8,3.7 .8,3.2 .8,2.3 .8,2.7 .8-.8 .7-1.7 1-2.3 .9-1.5 .8-.3 .9-.9 .7,1.6 .8,2.1 .9-3.3 .9-4.2 .8-4.2 .8-3.3 .8-.4 .8-.9 .7,1.7 .8,2.1 .8,5.3 .8,4.7 1,5.4 .9,6 1,5.7 .9,5.6 .9,1.8 .8,3 .8,2.1 1-1.4 .9-.5 1-2.3 .9-2.7 .9-4.1 1-3.5 .9-2.8 1-3.5 1-2 1.1-1.1 .8,2.5 .8,1.9 1,2.3 .9,2.7 1,.9 .9,.4 1-5.1 .9-5 1-.8 .9-1.7 1.3-8.8 .9-5.9 .9-5.4 .8-1.1 .7-1.8 .8-.9 .8,4 .7,3.6 1.3,7.5 1.2,6.3 .8,.4 .7,.8 .9-.1 .8-1.1 .9,3.4 1,4.1 .9,1.6 .9,1 1.3-5.1 .9-2.8 1-2.2 .9-2 1-2.4 .9,1.1 1,2 .9,2.6 1,2.5 .9,1.4 .9,2.3 1-1 .9-1.5 1-2.9 .9-2.1 1,2.9 .9,2.1 .8-4.2 .8-3.3 .8-5.6 .7-7.1 .7,12.3 .6-11.9 .8,6.6 .9-10.2 .8,13.5 .8-15.5 .7,14.1 .8-14.7 .7,16.9 .8-20.6 .8,17.2 .9-11.7 .8,13.4 .8-6.4 .9,6.1 .8-5.8 .9,5.8 .8-12.8 1-8.8 1.1-7.5 1.3-9.1 1.2,15.4 .6,2.8 .7,15.6 .6-10.8 .6,13.6 .9-12.2 .8,10.8 .8-17.4 .9,15.2 .8-4.4 .9,13.1 .8-14.1 .8,12.4 .9-8.1 .7,8.8 .8-8.6 .7,6.2 .8-7.1 .7,6.8 .9-5.9 .8,7.1 .9-9.2 .7,5.8 .8-12.1 .7,15.3 .8-16.1 .7,15 .9-15 .8,14 .9-15 .7,15.4 .8-13.8 .7,12 .8-10.7 .7,10.3 .9-5.1 .8,8.2 .8-6.2 .9,8.8 .8-4.6 1.1,4.8 1,4.5 1,4.8 .9,5.3 .9,2.9 1,2.1 .8,.1 .9,1.4 .8,.4 .8,0 .9,.8 .8-.1 .9-.7 .8,.2 .8-.8 1-3.7 .9-2.6 1-1.2 .9-2.6 .8-.3 .9,.3 .8-.6 .9,.1 .8,1.6 .8,.2 .9,1.3 .8,2.5 .9,1.2 .8,.9 .8,2.4 .9,1.1 .9,.2 1,.5 .9-2 .9-3.1 1-1.7 .9-.8 1,1.1 .9,.2 .9,.3 .8,1.6 .8,.6 .9,.1 .8,1.4 .9-.3 .8-.4 .8,.7 .9-.9 .8-1.1 .8,.1 .9-.9 .8-1.3 .9,0 .8-1.2 .9-1.2 1,0 .9-2.2 1-2.9 .9,3.3 1,4.3 .9,2.3 .9,1.4 .9-.1 .8,1.3 .9,.1 .8,.8 .8,2.3 .9,.7 .9,.4 1,.8 .9-1.9 1-3.1 .9-5.2 .9-4.9 1.3-5 .9,.1 1-1.4 .9-3.3 1-2.3 .9,.1 1-1.4 .9,.9 .9,2.3 1,3.8 .9,2.5 1,3.9 .9,4.9 1-.6 .9-1.9 .9-1.7 1-.9 .9,3.3 1,1.8 1.2,7.5 1-2.8 .9-1 1-3.9 .9-4.9 1-2.9 .9-2.1 1.3,6.3 .9-1.6 .9-2.2 1-3.9 .9-2.4 1-1.7 .9-2 .8-.1 .7,1.3 1,7.6 1.3,7.5 1.2-10.1 1.3-3.7 .9,1.7 1,.8 .9-3.3 1-1.7 .9-3.4 1-4.2 .9-2.2 1-1.6 .8-.8 .8-2 .9-.9 .9,2.3 1,1.4 .9,.1 .9,1.2 1,1.2 .9,.1 1,1.8 .9,3.2 1,3.4 .9,1.6 .9-1.3 1,.1 .8-.4 .9-2 .8-.2 .9-2.5 1-3.7 .9-3.8 1-2.5 1.2-2.6 1.3,5.1 .8,1.7 .9,.2 .8,1.9 1,3.2 .9,3 .9,1.5 1,2.3 .8,1.6 .9-.2 .8,1.1 .8,.9 .9-.4 .8,.8 .9,1.4 .8-.4 .8,1.5 .9,1.7 .8,.4 .8,1.7 .9,.3 .8-1.4 .9-.2 .8-.4 .8-1.6 .9-.5 .8,1.6 .9-.3 .8,1.2 .8-1.1 .9-2.7 .8-1.2 1,1.3 .9-.1 .9,2.3 1,2.8 .9,5.3 1,4.7 .9,3.3 1,4.3 .9,2.7 .9,1.1 1-1.3 .9,0 1-2.4 .9-3.9 1-6 .9-5.3 1.3-7.6 .9-.9 .9-1.6 1,1.7 .9,2.1 1,4 .9,2.3 1,3.7 .9,5.1 1.3,6.3 .9,4.2 1,3.3 .9,1.5 .9,2.3 1-1.4 .9-2.4 1-4.7 .9-4.1 1.3-7.5 1.2-3.8 1,1.7 .9,.8 1,2.6 .9,3.7 .9,2.7 1,1.1 .9,.8 1,1.7 .9,.1 1-1.4 1.2,6.3 1.3,6.3 1.2-8.8 1.3-12.6 1.3-13.8 .8-4.2 .8-2.7 .7,3 .8,1.4 .9,2.4 1,3.9 .9,1.3 1,1.2 .9-4.2 1-3.4 .9,.6 .9-.6 1,2.6 .9,3.7 .8,3.6 .9,2.7 .7-5.6 .8-4.4 .9-5.6 1-7 .9-3.1 .9-2.6 1,1.5 .9,.4 1,3.7 .9,5.1 1,2.3 .9,1.5 1,.5 .9,2 .9,2.9 1,2.1 .9,2.6 1,3.7 .9,2.5 1,1.3 .9-2.2 .9-1.6 1.3-5 0-6.5 .9-1.5 1-2.3 .9,1.3 1,2.5 .9,1.5 1,1 .8-3.1 .8-1.6 .9-3.5 .9,2.3 1,3.4 .9,2.4 .9,1.3 1,1.2 .9,2.6 1-.9 .9-1.6 1-2 .9-1.2 1-1.2 .9-1.9 .9,1.9 1,2.5 .9,1.8 1,.7 .9,.5 1,1.4 .9,2.3 .9,1.5 1,1.4 .9,2.3 1,1.4 .9-.1 .8-4.4 .9-3.1 .7,1.1 .8,.1 .9,4.2 .9,4.6 1,6.8 .9,5.8 1,4.7 .9,5.4 1,4.6 .9,2.9 1,1.3 .9,1.9 .9-.1 1-.6 .9-4.5 1-3 .9-6 1-6.6 .9-5.7 .9-4.4 1-1.7 .9-2.7 1-.3 .9,1 1,2.2 .9,.9 .9-1 1,.4 .9,1.5 1,1 .9,1.9 1,3.1 1.2,4.4 1.3-5.6 1.2-7.6 1-1 .9-2.8 1-1.3 .9,.1 1-.3 .9-1 .9-3.7 1-2.6 .9,.9 1-.2 .9,1.2 1,1.9 .9,1.5 .9,.4 1-2.2 .9-.9 1-1.7 .9-3.4 1.1-2.3 1-.6 1.1-2.1 .9,1.5 1,2.3 .9,3.2 .9,1.8 1,2.7 .9,3.6 1-2.1 .9-2.9 1-2.7 .9-1.7 .9,1.2 1,.6 .9,.5 1,2.1 .9-2.1 1-3 .8-5.5 .8-4.5 .9-3.3 .9-4.5 .8,2.2 .8,3 1.2,11.4 1.3,13.8 .9,6.3 1,5 .9,1.8 1,2.6 .9-2 1-3.6 .9-1.3 1,0 .9-.2 .9-1 1-4.2 .9-3.4 1-.6 .9-1.9 1-.1 .9,1.3 .9,1.8 1,.8 .9,1.3 1,2.4 .9,2 1,1.8 .9-2.5 .9-1.3 1,2.7 .9,1.1 1,3.9 .9,4.9 1.3,2.5 1.2-10 1.3-15.1 1.3-15.1 .7-2.7 .8-3.6 .7,2.7 .6,3.6 .9,12.6 1.3,16.3 1.2,12.6 1.3,8.8 .9,3.8 1-6.3 1.2-12.6 1.3-13.8 1.3-13.9 1.2-12.6 1.3-10 .9-2.7 1-3 1.2,5.7 1.3,12.6 1.2,15.1 1.3,12.5 1.3,11.4 .8,3.4 .8,4.7 .7-4 .8-5.4 1.3-12.6 1.2-13.8 1.3-13.9 1.2-12.5 1.3-8.8 .8-3.2 .8-1.9 .8,5 .7,3.8 1.3,15.1 1.2,17.6 1.3,17.7 1.3,15 1.2,12.6 .8,5.3 .9,6 .7-3.8 .8-5 1.2-12.5 1.3-12.6 .9-5.4 1-4.7 .9-1.4 1-1.7 .9,.5 .9,1.4 1,3.6 .9,2.7 1,5.7 .9,6.8 1,10.6 .9,9.6 0-7.5 .9,4.4 1,5.7 .9,2.8 1,2.2 .9-3 1-2 .9-3.4 .9-4.1 1.3-10.1 1.3-12.6 1.2-12.6 1.3-12.5 1.2-10.1 1.3-5 1.3,2.5 1.2,8.8 1.3,11.3 1.2,11.3 1.3,11.3 1.2,12.6 1.3,12.6 1.3,10.1 1.2,6.2 1.3-6.2 1.2-12.6 1.3-17.6 1.2-22.7 1.1-21.4 .8-15 1.3-16.4 .9-6.5 1-6.1 1.2-3.8 .8,5 .7,3.9 1.3,13.8 1,12.6 1.3,16.3 1.2,15.1 1.3,10.1 1.2,7.5 1.3,6.3 1.3,1.9 1.2-4.4 1.3-8.8 1.2-7.6 1-4.2 .9-3.3 1-1.3 .9-2.5 1.3-1.2 .9,1.5 .9,2.2 1,2.4 .9,1.4 1,.5 .9,2 1,2.1 .9,.4 1-1.1 .9-.1 .9-.9 1-1.6 .9-1.5 1,.2 .9,.4 1-1 .9,.9 .9,2.2 1,2.9 .9,2.2 1,2.4 .9,3.9 1,3.4 .9,2.8 .9,2.5 1,3.8 1.2,1.9 1-1.6 .9-2.8 1-4.6 .9-4.2 1-3.8 .9-5 1-4.4 .9-3.1 .9-3.4 1-4.2 .9-3.8 1-2.5 .9-2.9 1-3.4 .9-3.2 .9-1.8 1-.8 .9-1.7 1,0 .9,1.2 1,3.1 .9,2 .9,2.7 1,3.6 1.2,3.7 1.3-3.7 1.3-7.6 .8-2 .8-3.6 .8,2 .7,2.4 1.3,7.5 .9,2.1 1,1.7 1.2,5 1.3,6.3 .9,2.3 1,4 .9,3.2 .9,1.8 1,1.4 .9,2.4 1,1.3 .9,.6 1-.9 .9,.3 .9,2.6 1,1.1 .9,3.4 1,4.2 1.2,5 1,1.9 1.3-6.9 .8-3.5 .7-4.1 1.3-2.5 .9-.5 1-.1 .9-.2 .9-.4 1,.9 .9,2.8 1,3.7 .9,2.6 1,1.5 .9,2.9 1.3,1.3 .9-1.8 .9-2.6 1-4.3 .9-3.3 1-3.8 .9-5 1-4.3 .9-3.2 .9-1 1-1.5 .9,.1 1,1.1 .9,2.1 1,.4 1.2,1.3 1-1.5 .9-1 1,1.4 .9-.2 .9-1.1 1-.1 .9-.3 1-1 .9-1.8 1-.7 .9-.3 .9-1 1,.2 .9,1.1 1-.1 .9-1.2 1-1.8 .9-.7 .9,2.4 1,1.4 .9-3.1 1-1.9 .9,3.3 1,3 .9,.8 1,1.7 .9,1.4 .9,1.1 1,1.9 .9,3.1 1,2.9 .9,2.2 1.3,1.8 1.2-4.4 1-4 .9-2.3 1-1.9 .9-3.1 .5-4.3 .6-1.7 .5-4.9 .6-2.9 .6-.3 .6-2.3 .7-.6 .6,2.3 .6-.5 .7,2.6 .6,2.2 .6-.2 .6,1.8 .7,1.6 .6-.9 .6,.6 .7,1.3 .6-.7 .6,.6 .7,1 .6-.9 .6,1.2 .6,2.3 .7,0 .6,2.7 .6,3.1 .7,1.9 .6-1.2 .6,.8 .6-.8 .7-1.2 .6,.8 .6-.9 .7-1 .6,1.3 .6-1.5 .6,.3 .7,2.8 .6,.6 .6,.3 .7,2.3 .6-.4 .6-2.3 .6-1.1 .7-.3 .6-2.8 .6-.7 .7,1.8 .6-.8 .6,1.5 .6-.2 .7-2.9 .6-.6 .5,0 .5-1.6 .5,1.2 .5-1.8 .5,.9 .5,1.1 .5-.8 .5,2.1 .5-.9 .5,1 .5,1.1 .5-1.3 .5,1.6 .6-1.5 .5,1.4 .5,.7 .5-.8 .5,1.5 .5-1.1 .5,.9 .5,.2 .5-2 .5,1.4 .5-2 .5-.1 .5,1.1 .6-1.3 .5,1.5 .6-1.2 .6,1.2"/>
<path class="c" stroke="#0000ff" d="M133.1,156.6l.7-2.1 .6-.4 .6,.8 .7-.8 .6,1.2 .6,.1 .6-1.9 .7-.4 .6,2 .6-.4 .7-1.6 .6,1.4 .6-1 .6-.9 .7,2.2 .6-.1 .6-1.9 .7,1.7 .6-1 .5-.8 .5,1.5 .5-1.1 .5,1.5 .5-.5 .5-1.7 .5,1.8 .5-1.7 .5,1.9 .5-1.6 .5-.3 .5,2 .5-1.7 .5,1.7 .5-.4 .5-.8 .5,1 .6-1.6 .5,1.2 .5-1.1 .5-.6 .5,1.8 .5-1.7 .5,1.8 .5-.6 .6-1.4 .6,1 .7-2.2 .6-.4 .6,2.2 .6-1.1 .7,.8 .6,2.9 .6,1.3 .7-1.6 .6,1.2 .6-.9 .6-1.5 .7,.8 .6-1.8 .6-1.2 .7,.9 .6-1.6 .6,0 .7,2 .6-.1 .6-1.1 .6,1 .7-1.1 .5-.7 .5,1.6 .5-1.2 .5,1.6 .5-.7 .5-1.2 .5,1.5 .5-1.2 .5,1.5 .5-1.2 .5-.3 .5,2 .5-.6 .5,2.1 .5-.7 .5-.5 .5,1.4 .5-1.8 .5,1.8 .5-1.5 .5-.5 .5,2 .5-1.8 .5,2 .5-1.1 .5-.8 .6,1.6 .5-1.8 .5,1.6 .5-1.2 .5-.6 .5,1.6 .5-2.1 .5,1.8 .5-1.4 .5-.7 .5,1.8 .5-1.5 .5,1.5 .5-.4 .5-1.1 .5,1.1 .5-1.8 .5,1.6 .5-1.1 .5-1 .5,2 .5-1 .5,1.3 .5-.7 .5-.9 .5,1.8 .5-2.2 .5,1.8 .5-1.1 .5-.6 .5,2 .5-1.8 .6,1.5 .5-.5 .5-.7 .5,1.1 .5-1.4 .5,1.5 .5-1.1 .5-.6 .5,1.3 .5-2.1 .6,1.6 .5-1.9 .5,1.1 .6,1 .7-1.1 .6,1.3 .5,.8 .5-2.2 .5,1.6 .5-2.1 .5,.7 .5,.5 .5-1.7 .5,.9 .5-1.3 .5,.3 .7,1.9 .6-.8 .6,1.4 .7,1.6 .6-1 .6,1.9 .6-1.1 .7-2.6 .6,.2 .6,3.5 .7,0 .6-1.5 .6,.8 .6-1.8 .5-.5 .5,1.8 .5-1.7 .6,2.2 .5-.5 .5-1.4 .5,1.5 .5-2.1 .5,1.6 .5-.9 .5-1.1 .5,1.8 .5-1.4 .5,1.7 .5-.3 .5-.7 .5,1.6 .5-1.6 .5,2.1 .5-.8 .5-.2 .5,2.6 .5-1.7 .5,2.2 .5-.4 .5-1.1 .5,1.9 .5-1.3 .5,1.9 .5-.8 .5-.8 .5,.5 .5-1.8 .5,.8 .5-.6 .7-4.5 .6-3 .6,1.6 .7-1 .6,9.5 .6-1.4 .7,.9 .6-2.1 .5-1 .5,1.5 .5-1.6 .5,1.6 .5-1.1 .5-1.4 .5,1.1 .5-1.9 .5,1.7 .5-1.4 .6-.9 .7,.8 .6-2.4 .6-6.9 .5,4.6 .4,6.1 .5-3.1 .5-5.7 .6,12.6 .7-4.8 .6-4 .6,4.5 .7,1.7 .6-2.8 .6-2.2 .6,2.2 .7,.3 .6-3.6 .6-1.4 .7,3.5 .6,2.8 .6-3.5 .6-.9 .5-2.1 .4-3.6 .7,10.1 .5-2.4 .5-1.4 .6,2.1 .6,.4 .5-1.1 .5,1.8 .5-2.5 .5,1.8 .5-1.2 .7-.5 .6,2.1 .6-.4 .7-1.8 .6,.9 .6-1 .5-1.2 .5,1.2 .5-1.9 .5,1 .5-.9 .5-1 .5,2.1 .5-1.3 .5,1.7 .5-.3 .7-1.1 .6,.7 .6-.8 .7-2 .6,1.1 .6-1 .6-.4 .7,2.6 .6,.3 .6-1.2 .7,2.3 .6-.5 .5-.8 .5,1 .5-1.7 .5,1.7 .5-.8 .6-1.5 .7,1.3 .6-1.1 .6-.1 .7,2.3 .6-.3 .5-.3 .5,1.6 .5-1.4 .5,2.2 .5-.8 .5-.6 .5,1.4 .5-1.9 .5,1.9 .5-1.5 .5-.6 .5,1.5 .5-2.1 .5,1.4 .5-1.4 .5-1 .5,1.6 .5-1.7 .5,1.2 .5-.7 .5-1 .5,.9 .6-1.6 .5,1.7 .5-.7 .5-.8 .5,2 .5-1.5 .5,1.8 .5-.8 .5-1.1 .5,1.8 .5-2 .5,1.1 .5-.5 .6-1.3 .6,1.5 .7-1.4 .6-.3 .6,1.7 .7-.2 .6-.4 .6,1.9 .7,.4 .6-1 .6,2.6 .6-.3 .5-1.3 .5,1.9 .5-1.9 .5,1.7 .6-.4 .5-1 .5,1.2 .5-1.1 .5,1.3 .5-1.1 .5-.6 .5,1.5 .5-2.3 .5,1.5 .5-1.3 .5-1.1 .5,.6 .5-2.5 .5,1.4 .5-1.6 0,.7 .5-1.3 .5,1.7 .5-2.4 .5,1.9 .5-1.2 .6-1.5 .7,1.2 .6-.9 .6,.1 .7,2.2 .6,.2 .6-.2 .6,1.4 .7-.6 .6-1 .6,1.3 .7-1.6 .6-1.4 .6,.5 .6-2.2 .7,.5 .6,2.6 .6,0 .7,.1 .6,1.8 .6-.6 .7-.2 .6,2.1 .6-.6 .6,0 .7,2.6 .6-.1 .6,.4 .7,2.3 .6,.4 .6-1.4 .6,.6 .7-1.1 .6-3.1 .6-1.9 .7-1 .6-2.8 .5-1.9 .6,.3 .5-1.5 .6-.4 .5,2.4 .5-.9 .6,1.4 .6,1.5 .6-1.3 .6,1.1 .5,1.2 .6-1.8 .5,1.8 .5-1.8 .5,1.2 .6,.4 .6-1.7 .6,.7 .7-.3 .6-2.1 .6-.2 .7,1.3 .6-.9 .6,1.5 .7,2.1 .6,.4 .6-.3 .6,1.9 .7-.3 .6-3.4 .6-1 .5,.1 .5-1.4 .5,.7 .6,1.7 .5-.3 .6,2.3 .6,2.4 .6,1.4 .7,.6 .6,4.1 .6,.3 .6-1.9 .7,.2 .6-2 .6-2 .7,.6 .6-1.1 .6-1.3 .6,.6 .7-1.2 .6-2 .6,.5 .7-1.7 .5-1 .5,1.4 .5-1.6 .6-1.3 .6-.6 .6,2.5 .5-.2 .6,2.1 .6,1.3 .6-1.1 .7,1.7 .6,.3 .6-2.2 .6,.6 .7,.6 .6-1.2 .6,1.2 .7,1.5 .6-.1 .6,1.2 .6,1.5 .7-1.2 .6,.9 .6,.5 .7-2.4 .6,.7 .6-.2 .6-1.6 .7,.5 .6,1.3 .6-1.3 .7,.6 .6,.8 .6-2.3 .6,.3 .5,.5 .6-2.2 .5,.8 .5-2.1 .5-.2 .6,1.5 .6-.9 .6,1.9 .7,1.5 .6-.3 .6,1.4 .7,2.1 .6-1.2 .6,1.6 .7,1.1 .6-1.2 .6,2 .6,.7 .7-1.2 .6,1.1 .6,.4 .7-2 .6,.3 .6,.6 .6-2 .7,.2 .6-.8 .6-2.2 .7-.2 .6,.1 .6-2.2 .6-.4 .7,1.7 .6-2.1 .6,1 .7-.2 .6-1.8 .6,.2 .6,.8 .7-2.2 .6,.7 .5,.4 .5-1.8 .5,1.9 .5-1.4 .5,.3 .5,1 .5-1.6 .5,1.6 .5-1.2 .5,.8 .5,.9 .5-1.5 .5,1.4 .5-1 .5,.9 .6,.8 .5-1.2 .5,1.7 .5-1.3 .5,.6 .5,1.2 .5-2.3 .5,1.3 .5-1.7 .5,.9 .5,1 .5-1.2 .5,1.9 .5-1.3 .5,.8 .5,.7 .5-1.4 .5,2.2 .5-1.7 .5,.8 .5,.7 .5-1.5 .5,1.2 .5-1.9 .5,.3 .5,1.3 .5-1.5 .5,1.5 .5-1.7 .5,1 .5,.5 .6-2.1 .5,1.9 .5-2 .5,.5 .6,.8 .6-1.7 .6,.2 .7,1.6 .6-1.1 .6,1.4 .7,1.8 .6-1 .6,1.1 .6,1.3 .7-1.4 .6,1.4 .6,1 .7-1 .6,1.2 .6,1.7 .7-1.5 .6,1.1 .5,.6 .5-1.1 .5,1.6 .5-1.1 .5,1.2 .5,1 .5-1 .5,2.1 .5-1.7 .5,.9 .5,.9 .5-1.5 .5,1.4 .5-1.7 .5,.9 .7,1.6 .6-1.9 .6,.9 .6,.1 .7-2.4 .6-.8 .6,1.1 .7-2.3 .6,.5 .5,.6 .5-1.1 .5,1.2 .5-.9 .5,.2 .6,1 .7-1.7 .6,.1 -.9,.2 -.9-1.2 -.8-.2 .4,6.1 .5-7.9 .5,5.7 .5-5.7 .5,6.8 .5-4.5 .5,4.9 .5-4.9 .5,5.5 .5-7.8 .5,9.2 .4-6.3 .5,11.4 .5-9.5 .5,11.6 .5-10 .6,9.2 .5-11.9 .5,15.1 .6-13.8 .5,17 .5-12.5 .5,13.3 .6-12 .5,13 .5-17 .6,17.9 .5-13.4 .5,15.3 .5-16 .6,13.3 .5-8.3 .5,11.7 .6-10.8 .5,12.7 .5-10.2 .5,9.1 .6-7.6 .5,10.2 .5-11.8 .5,8.9 .6-9.4 .5,8.9 .5-8.2 .6,7.3 .5-4.4 .5,4.5 .5-8.6 .6,11.3 .5-12 .5,8.6 .6-4.4 .5,6.6 .5-8.1 .5,8.5 .6-13.1 .5,7.5 .5-9.3 .6,9 .5-10.1 .5,8.2 .5-6 .5,7.4 .5-9.8 .5,7.4 .7-8.6 .7-9.1 .3,1.7 .5,11.3 .6-8.9 .5,10.7 .5-7.2 .6,5 .5-4.6 .5,5.2 .4-7.9 .5,6.7 .5-4.2 .5,4.4 .4-8.1 .5,10.1 .5-9.7 .5,6 .5-3.4 .5,4 .5-5.8 .5,6.3 .4-6.1 .9-11.8 .5,9.7 .5,8.1 .5-6.3 .5,5.7 .5-6.6 .5,6.7 .5-6.2 .4,7 .5-9.2 1-9.5 .4,9.3 .5,5.9 .5-3.4 .6,4.6 .5-7.4 .5,7 .5-5.7 .5,3.4 .5-4.3 .5,4.1 .5-2.2 .5,2.2 .5-2.5 .5,2.1 .4-3.8 .5,3.3 .5-2.4 .5,1.4 .4-2.9 .5,3.1 .5-3.4 .5,3.9 .5-2.3 .5,2.5 .6-.7 .5,1.4 .5-1.2 .5,1.3 .6-1.4 .5,.8 .5-.4 .6-.7 .5,1.4 .5-1.1 .5,1.5 .6-1.5 .5,.7 .5,.6 .6-1.2 .5,1 .6-1.8 .5,1.2 .6-1.6 .5,.3 .6,.7 .5-1.6 .6,1.8 .6-1.5 .5,1.5 .6-1.2 .5,1.8 .6-1.2 .6,.6 .4,1 .5,.3 .5,4.7 .4,6.6 .8,8.8 .8,8.5 1-18.3 .9-17.8 1.3-8.9 1.2,11.4 1,20.1 .9,19.7 .8,10 .7,10.2 .7-16.8 .7-17.2 .9-19.7 .9,4.2 1,4.6 .8-3.1 .9-3.8 .8-3.2 .7,7 .8,6.4 .8,7 .7-13.8 .8-14.1 1.2-25.2 1.3-17.6 1.2,11.3 1.3,16.4 1.3,8.8 .9-2.2 .9-1.6 1.3-5 1.3,7.5 .8-2.3 .8-2.7 .9,7.5 .6-.5 .6,3.2 .7-.2 .5-1 .5,1.3 .5-2.4 .5,1.6 .5-1.4 .5-.7 .5,1.9 .5-2.2 .5,2 .5-1.6 .5-.8 .5,1.8 .5-2 .5,1.6 .5-1.2 .5,.2 .5,2.1 .5-1.9 .5,2.1 .5-.6 .5-1.3 .5,2.6 .5-1.5 .5,2.1 .5-1.3 .5-.4 .5,1.7 .5-1.5 .6,1.9 .5-.4 .5-1.1 .5,1.8 .5-2.1 .5,2.4 .5-.4 .5-1.5 .5,2 .5-1.3 .5,1.7 .5-.3 .5-1.2 .5,2.2 .5-1.5 .5,1.4 .5-.2 .5-.9 .5,1.7 .5-1.7 .5,2.5 .5-1 .5-1 .5,1.5 .5-1.7 .5,1.1 .5-.5 .7-.3 .6,2.7 .6,.1 .6,.9 .7,4.2 .6,1.2 .6,.2 .7,3 .6-.7 .6,0 .7,2.4 .6-1.2 .6-2.6 .6-1.1 .7,2.8 .6,.9 .5-1.4 .5,1.4 .5-2.5 .6,.2 .5,3.3 .5,.3 .7,.1 .6,2.7 .6-.3 .7-1.1 .6,1.3 .6-.8 .6,0 .7,2.3 .6-.4 .5-.6 .5,2.6 .5-1.5 .5,2 .5-1.3 .5-.6 .5,1.6 .5-1.9 .5,1.4 .5-1.1 .5-1.1 .5,1.7 .5-2.3 .5,1.7 .5-.6 .7,0 .6,3.4 .6,.3 .7-21.3 .6-29 .6,34 .3-3.9 .5,6 .5-6.8 .5,8.2 .5-8 .5,6.7 .5-4.8 .5,5.8 .5-4.2 .4,4.5 .5-7.9 .5,7.4 .5-5.7 .5,4.9 .5-4.6 .5,7.5 .5-6 .5,3.3 .5-7.1 .5,7.6 .5-5.3 1.1-15.2 1-39 .8,39 .3,3.6 .5,24.2 .5-23.2 .5,17.5 .5-12.6 .5,11.3 1.1,34.5 .6-46.9 .5,20.9 .5-32.1 1-26.8 .5,89.9 .7-56.3 .5,21 .4-24 .5,22.8 .5-12.2 .5,16.3 1.1,35.6 .6-53.6 .5,8.6 .5-6.7 .5,7.6 .5-8.7 .5,8.9 .5-9 .6,8.7 .5-8.1 .5,5.1 .5-4.5 .5,8.2 .5-6.5 1.1,14.1 .9-15 .7-11.4 .9,11.4 .6,0 .7-2.9 .6-.7 .6-4 .7-1.7 .6,1.1 .6-1.9 .5-1.5 .5,2 .5-2.4 .5,1.5 .5-.9 .7,2.1 .6,4.8 .6,1.9 .6-2.8 .7-1 .6-3.7 .6-1.6 .7,1.4 .6-1.1 .6,4.4 .7,7 .9-1 .9-1.6 .9-.7 .8,.9 .9-.8 .8-.9 .8,.7 .9-1.1 .8-1 .8,1 .9-.6 .8-1 .9,1.2 .8-.8 0-.8 .9,.2 1,1.9 .9-1 1,.8 .9,.9 1-1.1 .9,1.1 .9-.3 1-1.2 .9,.6 1-1.4 .9,.1 1,1.1 .9-.9 1,1.8 .9-.1 .9,0 1,1.6 .9-.9 1,1.2 .9,.8 1-.7 .9,1.9 .9-.1 1-.1 .9,1.6 1-1 .9,1.3 1,.8 .9-.9 .9,1.3 1-.5 .8-1.5 .9,1 .8-1.4 .8,.1 .9,1.9 .8,.5 .9,.6 .8,1.9 .8,0 .9,.5 .8,1.7 .9,.3 .8,.2 .8,1.9 .9-.2 .8-.3 .8,1.5 .9-.5 .8-1.1 .9,1.4 .8-1 .8,0 .9,1.4 .8-.1 .9,.3 .8,2.6 .8,.9 .9-1.1 .8,1.1 .8-.7 .9-1.1 .8,.9 .9-.4 .8-.7 .8,1 .9-.9 .8-.1 .9,1.4 .8-.7 .8-1.2 .9,.5 .8-1.2 .8,.6 .9,2.3 .8,.9 .9-.6 .8,1.8 .8-.6 .9-.7 .8,.6 .9-1.1 .8,0 .8,1.5 .9-.3 .8-1.2 .8,.9 .9-.9 .8-1.1 .9,0 .8-1.5 .8-1.3 .9,.4 .8-.9 1-2.6 .9-1.2 .9,1.8 1,.1 .8-.8 .9,.7 .8-1.2 .8-.3 .9,1.4 .8-.5 .9-.2 .8,1.8 .8,.3 .9,.3 .8,1.9 .9,.3 .8-2.4 .8,0 .9-2.7 .5,5.4 .5-5.7 .6,6.1 .5-6.3 .6,11.2 .5-18.5 .5,16.3 .5-12.3 .6,7.2 .5-8.2 .5,10.8 .5-19.4 .5,16.4 .5-13.7 .6,18.9 .5-21.5 .6,16.5 .5-12.4 .5,23.4 .6-22.5 .5,20.4 .6-19.6 .5,14.4 .5-16.4 .6,14.3 .5-10.1 .5,12.2 .6-16 .5,12.5 .5-15.4 .5,17 .6-18.5 .5,11.7 .5-21 .5,19.5 .5-14.1 .6,17.4 .9-21.1 .9-19 1.2,22.6 .5,13.6 .5-18 .5,30.8 .5-29.9 .5,22.6 .6-25.1 .5,28.5 .5-29.2 .6,21.8 .5-20.7 .6,17.8 .5-13.9 .5,11.5 .6-9.3 .5,8.4 .6-7.3 .5,9.3 .5-6.2 .6,8.2 .5-6.9 .6,9.8 .5-14.1 .5,12.2 .6-9.4 .5,19.4 .5-23.6 .6,21.2 .5-14.2 .5,9.4 .5-11.9 .5,7.2 .5-9.1 .5,7.9 .6-9.1 .5,8.4 .6-9.4 .5,7.8 .5-8 .5,5.7 .5-7.4 .5,4.4 .6-5.9 .5,6.5 .5-7.7 .5,5 .5-7.8 .5,9.5 .5-10.6 .5,8.3 .5-4.4 .6,5.8 .5-5.4 .6,9.6 .5-7.2 .5,8.5 .5-6.3 .5,6.4 .6-5.2 .5,3.4 .5-.7 .9,.8 .9-.5 1,1.6 .9,0 1-.6 .9,1.8 1-1 .9,1.1 .8,.5 .9-1.4 .8-.4 .9,.2 .8-1.5 .8-.6 1,.5 .9-1.6 1,1.1 .9-1.2 .8-.4 .9,2 .8,.3 .9-.4 .8,2.1 .8,.1 .9,.3 .8,2 .9,.3 .8-.3 .8,1.7 .9,.4 .8,.3 .9,1.7 .8-.1 .8-.2 .9,1.4 .8,.1 .8-.6 .9,1.1 .8-1.1 .9-1.9 .8,.3 .8-1 .9-1.2 .8,.9 .9-.3 .8-.3 .8,1.7 .9,.5 .8,.3 .8,2.4 .9,.5 .8,.9 .9,2 .8,.2 0,.6 .5,0 .5,1.9 .5-1 .5,1.8 .5-.2 .5-.7 .5,1.7 .5-1 .5,1.7 .5-.4 .5-.7 .5,.7 .5-1.4 .5,.8 .5-.7 .6-1.3 .5,1.1 .5-1.9 .5,1.1 .5-.8 .5-.9 .5,1.5 .5-1.5 .5,.9 .5-.7 .5-.7 .5,1 .5-1.1 .5,1.3 .5-1.1 .5-.1 .5,1.5 .5-1.3 .5,1.4 .5-.2 .5-.6 .5,1.7 .5-.9 .5,2.1 .5-.5 .5,0 .5,1.7 .5-1.1 .5,1.6 .5,.4 .5-.5 .5,1.9 .6-1.1 .5,2.1 .5-.6 .5-.3 .5,1.4 .5-1.2 .5,1.5 .5-.7 .5-.3 .5,1.5 .5-1.3 .5,2 .5-.7 .5-1 .5,1.1 .5-1.7 .5,.6 .5-1.5 .5-1.2 .5,.5 .5-1.8 .5,1.1 .5-1.1 .5-1 .5,2.4 .5-2.1 .5,2.7 .5-1.4 .5-1.3 .5,1.8 .5-2.4 .5,2.4 .6-1.7 .5-1.2 .5,2.1 .5-2.9 .5,1.6 .5-.9 .6-.6 .6,3.3 .7,.5 .5,.1 .5,4.7 .6-.5 .5,3.2 .5-2.2 .6-4.6 .5-2 .7,1.2 .6-2.9 .6,.4 .6,.8 .7-2.8 .6,.8 .5,3.9 .6,1 .5,4.5 .5-2.1 .5-6.4 .5-2.2 .7-2.2 .6-6 .6-3.1 .7,3 .6,.2 .6,1.8 .6-.9 .7-3.7 .6-1.7 .6,2.5 .7-1 .6,3.6 .6,1.7 .7-1 .6,3.1 .6,.6 .6-2.1 .7,.2 .6,3.8 .6,1.2 .7-4.4 .6-1.9 .6,.8 .6-4.1 .7-.4 .6,.8 .6-3 .7-.4 .6,1 .6-1.9 .6,.3 .7,3.6 .6-.9 .6,3 .7-1.2 .6-5.3 .6-1.1 .6-.3 .7-2.8 .6,0 .6,.2 .7-1.8 .6,.3 .6,.9 .6-1.2 .7,1.6 .6,1.1 .6-.8 .7,1.6 .6,.5 .6-.9 .7,1 .6,1.2 .6-.6 .6,1.3 .7,.5 .6-2.1 .6,.3 .7,0 .6-2.4 .6,.5 .6,.2 .7-1.8 .6,.4 .6,.3 .7-1.9 .6-.3 .6,.7 .6-1.9 .7-.1 .6,0 .6-1.8 .7,.6 .6,1.3 .6-1.6 .6,.9 .7,1.7 .6-.9 .6,2.4 .7,1.3 .6,.3 .6,2.1 .6,1.4 .7-.2 .6,1.3 .6,1.8 .7-1.3 .6,1.4 .5,.4 .5-1.3 .5,1 .5-2.1 .5,.8 .5,.4 .5-1.7 .5,1.5 .5-2 .5,.5 .5,.9 .5-1.1 .5,1.8 .5-1.4 .5,1.1 .5,1 .5-2 .5,1.9 .6-1.8 .5,.2 .6,1.6 .6-.7 .6,1 .7,1.3 .6-.3 .6,.9 .7,2.3 .6-.7 .6,1.6 .6,2.1 .7-.3 .6,2.6 .6,2.6 .7,0 .6,2.4 .6,1.1 .6-.7 .7,2.1 .6,.2 .6-1.6 .7,.8 .6,.1 .6-2.8 .6-.5 .6,.8 .5-1.9 .5,.8 .5-2.2 .5,.7 .5,.4 .5-1.5 .5,1 .5-1.5 .5,.9 .6,1.2 .6-1.2 .7,1.3 .6,1.8 .6-.7 .7,1.4 .6,1.6 .6-.4 .6,1.3 .7,1.2 .6-1.4 .6,1.5 .7,.6 .6-1.1 .6,1.1 .6,0 .7-1.8 .6-.1 .6-.4 .7-1.7 .6,.2 .6-.2 .6-1.8 .7,.1 .6-.2 .6-2.5 .7-1 .6,1.4 .6-1.1 .6,1.6 .7,.7 .6-1.8 .6,.4 .7,1.3 .6-.6 .6,.6 .7,.5 .6-1.8 .6,.7 .6,1.5 .7-.8 .6,1.8 .5,.9 .5-1.7 .5,1.9 .5-.9 .5,1 .6-.1 .7-2.5 .6-.5 .6-.3 .7-2.9 .6-.6 .6-.2 .6-2.8 .7-.8 .6,.5 .6-1.9 .7,.2 .5,.1 .5-1.5 .5,1.7 .5-1.5 .5,1.2 .5,.4 .5-1.3 .5,1.7 .5-1.2 .5,1 .5,.6 .5-1.4 .5,1.6 .5-1.8 .5,.4 .6,2.2 .7-.2 .6,1.8 .6-.7 .7-3 .6-.8 .5,.4 .5-1.9 .5,.5 .5-1.8 .5-.3 .5,.1 .5-2.3 .5,.8 .5-2.6 .5,.2 .5,.3 .5-2.2 .5,1 .5-2 .5,.4 .7-.2 .6-1.7 .6,0 .6,.5 .7-2 .6-.4 0,.4 .5,1.4 .5-1.5 .5,2.2 .5-1.3 .5,1.1 .5,1.5 .5-.9 .5,2.2 .5-.6 .5,1.6 .6,.9 .5-1.1 .5,2.1 .5-1.1 .6,1.8 .5-.1 .6-2.1 .6,.6 .7-1 .5-1.9 .5,1 .5-2.4 .5,.9 .5-1.4 .5-1.1 .5,.5 .5-1.9 .5,.9 .5-1.5 .5-.9 .5,1.3 .5-1.6 .5,1.2 .5-1.3 .5-.9 .5,1.9 .5-1.7 .5,1.9 .5-.6 .7,.3 .6,2.1 .6,.1 .6,.7 .7,2.4 .6,.7 .6-.4 .7,1.6 .6,.1 .6,.4 .6,1.9 .7,.2 .6-.4 .6,1.7 .7-.7 .6-2 .6,.1 .6-1.2 .7-1.4 .6,1.8 .6-1.1 .7-.2 .6,1.2 .6-.6 .5-.9 .5,1.4 .5-1.9 .5,1 .5-.3 .5-.6 .5,1.5 .5-1.5 .5,1.9 .6-.3 .5-.5 .5,1.3 .5-1.3 .5,1.8 .6-1.3 .5,.6 .6,2 .7-.2 .6,2.6 .6,2.3 .6,.6 .7,2.1 .6,2.6 .6-.1 .7,2.6 .6,2 .6-.5 .6,2.2 .7,1.2 .6-1.3 .6,1.4 .7,.5 .6-2.3 .6,.5 .6-.6 .7-2.3 .6,.4 .5-.2 .5-2 .5,1.3 .5-2.3 .5,.7 .5,.2 .5-2.1 .5,1.1 .5-2.2 .5,.5 .7,1 .6-1 .6,.6 .7,1.6 .6-1.4 .6,1.1 .6,1.7 .7-.3 .6,1.7 .6,1.5 .7-.5 .6,.9 .5,1 .5-1.1 .5,1.3 .5-1 .5,.4 .5,1 .5-1.8 .5,1.6 .5-1.1 .5,1 .5,.5 .5-1.1 .5,1.7 .5-1.3 .5,.8 .5,.8 .5-1 .5,1.8 .5-1.1 .5,1.4 .5,1 .6-.7 .5,1.8 .5-.6 .5,1 .5,1.4 .5-1.5 .5,2.2 .5-1.1 .5,.9 .6-.3 .6-2.1 .7-.1 .6,.5 .6-1.7 .7,.5 .5,.4 .5-1.7 .5,1.8 .5-1.8 .5,.7 .5,.5 .5-.9 .5,1.2 .5-1.6 .5,1.4 .5-.1 .5-1.5 .5,1.3 .5-1.9 .5,.4 .5,.2 .5-1.4 .5,.9 .5-2.2 .5-.1 .5,.3 .5-1.9 .5,.9 .5-2.1 .5-.3 .5,.2 .5-1.7 .5,1.6 .5-1.8 .5,.4 .5,1 .6-1.1 .5,1.4 .5-1.4 .5,.1 .5,1.1 .5-1.1 .5,1.9 .5-1.6 .5,1.6 .5,1 .5-.8 .5,2.7 .5-.7 .5,1.6 .6,2.1 .6-.4 .7,2.1 .6-.7 .6-1.8 .7,0 .6,.5 .6-2.4 .7,0 .6,1 .6-2.3 .6,.6 .7-.1 .6-2.3 .6,.6 .7,.1 .6-2.4 .6-.3 .6,.9 .7-2 .6,.5 .6,.5 .7-.8 .6,.9 .5,1.2 .5-.9 .5,1.4 .5-1 .5,.6 .6,1.8 .7-.7 .6,.8 .6-2.7 .5,6.4 .5-5.3 .5,5.8 .5-6.7 .5,6.1 .5-8.2 .5,8.7 .4-5.6 .5,4 .5-7.1 .5,9.2 .4-7.8 .6,2 .6-.6 .6,1.8 .6,1.4 .6-.4 .7,1.5 .6-1.4 .6-3 .6-.6 .7-.3 .6-2.4 .6,.2 .7-.4 .6-2.2 .6,0 .6,.1 .7-2.4 .6-.2 .6,1.3 .7-.7 .6,1.3 .6,1.8 .6-.3 .7,1.7 .6,2.4 .6-.3 .7,1.6 .5,1.3 .5-1.1 .5,2.4 .5-1.3 .5,1.2 .5,1.3 .5-1 .5,1.5 .5-1.4 .5,.9 .6,.3 .6-2.2 .7,.6 .6-.6 .6-2.5 .7-.6 .6-.5 .6-2.7 .7-.6 .6,.3 .6-1.8 .6,.2 .7,1.4 .6-.5 .6,1.7 .7,1.9 .6,.7 .6,2.4 .6,2.1 .7-.4 .6,2.1 .6,1.2 .7-.9 .6,1.5 .6,.4 .6-2.2 .7,0 .6-.3 .6-1.7 .7-.6 .6,.1 .6-2.7 .6-1.1 .7-.2 .6-3.2 .6-.4 .7-.7 .6-2.7 .6-.4 .6-.1 .7-2.3 .6-.1 .6,.5 .7-1.1 .6,.1 .6,2.2 .7-.4 .6,.3 .6,3 .6,.4 .7-.1 .6,2.3 .6,.4 .7,.1 .6,2.5 .6,.5 .6,.3 .7,2.4 .6-.2 .6,.1 .7,2.1 .6-.9 .5-1.3 .5,1.2 .5-1.9 .5,1.4 .5-1.3 0-1.1 .6-2.4 .7-.1 .6-2.6 .6-2.4 .6,.2 .7-2.8 .6-1.2 .6,1.3 .7-1.4 .6-.7 .6,2.3 .6-.3 .7,.1 .6,2.7 .6-.3 .7,1.5 .6,2.7 .6,.8 .6,1 .7,2.6 .6,.2 .6-.9 .7,1.9 .6-1 .6-1.2 .7,.5 .6-1.2 .6-1.1 .6,1.2 .7-.7 .6-1.6 .6,.2 .7-2.4 .6-2 .6-.2 .6-2.8 .7-1.6 .6,.4 .6-1.3 .5-1 .5,1.2 .5-1.6 .5,1.7 .5-1 .7-.5 .6,1.2 .6-1.3 .7,.9 .6,3.5 .6,.7 .6,1.9 .7,3.5 .6,2.1 .6,1.1 .7,3.5 .6,1.7 .6,.7 .6,2.4 .7-.2 .6-2.4 .6-.5 .7,.3 .6-2.2 .6,.6 .7,.1 .6-2.4 .6-.2 .6-.4 .7-2.8 .6-.6 .6-1.2 .7-2.9 .6-.9 .6-1.2 .6-3.1 .7-.7 .6-.2 .6-1.9 .7,.2 .6,.8 .6-1 .6,1.4 .7,2.1 .6-.1 .6,2.5 .7,2.7 .6,2.3 .6,.2 .6,2.2 .7,.1 .6,0 .6,1.6 .7-.3 .5-1.1 .5,1.2 .5-1.5 .5,.8 .5-.7 .5-1 .5,1.5 .5-1.1 .5,1.3 .5-.1 .5-1.1 .5,1.6 .5-1.3 .5,1.2 .5-1 .5-.7 .5,2 .5-1.8 .5,1.8 .5,0 .5-.4 .5,1.5 .5-1.5 .5,1.5 .5-.5 .5-.7 .5,2 .5-1.5 .6,1.4 .5-.6 .5-.9 .5,1 .5-1.8 .5,1.3 .5-1.5 .5-.9 .5,1.4 .5-.9 .5,1.5 .5-.4 .5-1.1 .5,1.4 .5-1.9 .5,1.4 .5-1.1 .5-1.2 .5,1.6 .5-2.1 .5,1.3 .5-.9 .5-.7 .5,2.2 .5-1.6 .5,1.6 .5-.8 .7-1.1 .6,.6 .6-1.4 .7-1.4 .6,.9 .6-1.4 .6,0 .7,2.4 .6-.5 .6-.1 .7,1.9 .6-.6 .5-.1 .5,2.6 .5-1.1 .5,2.6 .5-.8 .5-.9 .5,.7 .5-2.8 .5,2.1 .5-2.3 .5-.1 .5,1.9 .5-1.8 .5,2.6 .5-1.9 .5-1.1 .5,2.1 .5-2.6 .5,1.6 .5-1.9 .5-.9 .6,2.7 .5-1.4 .5,2.7 .5,0 .5,0 .5,3.1 .5-1.9 .5,2.6 .5-.6 .6-2.2 .6,1.6 .7-1.3 .6-3.2 .6,.4 .6-2.9 .7,.6 .6,2.9 .6-1 .7-.2 .6,2.8 .6-.7 .7-.7 .6,2.4 .6-1 .6-2.4 .7,1.4 .6-1.6 .6-1.6 .7,1.4 .6-1.6 .6-.5 .6,3 .7-.7 .5-.8 .5,2.2 .5-2.2 .5,2.4 .5-.3 .5-.8 .5,1.8 .5-2 .5,2.1 .5-.5 .5-1.3 .5,2.3 .5-2.3 .5,2.1 .5-1.4 .5-.2 .5,1.7 .5-2 .5,2.3 .5-.5 .5-1.1 .5,2 .5-2 .5,3.1 .5-.8 .6-1.8 .5,1.5 .5-2.6 .5,1.5 .5-1.7 .5-1 .5,2.5 .5-2 .5,2 .5-.9 .5-1.7 .5,2.5 .5-2.7 .5,1.9 .5-1.3 .5-1.6 .5,1.7 .5-1.9 .5,1.4 .5-1.4 .5-1.5 .5,1.9 .5-2.3 .5,2 .5-1.4 .5-1.1 .5,1.4 .5-2.8 .5,1.8 .5-.6 .5-.9 .5,2.6 .6-2 .5,2.5 .5-.9 .5-.6 .5,1.8 .5-1.6 .5,1.6 .5-.6 .5-1.1 .5,1.6 .5-2.2 .5,1.7 .5-.6 .5-1 .5,1.7 .5-1.2 .5,1.6 .5-.5 .5-.5 .5,1.4 .5-1.7 .5,1.3 .5-1.1 .5-.9 .5,1.8 .5-1.3 .5,1.6 .5-.6 .5-.9 .5,2 .5-.9 .6,1.6 .5-1.1 .5-.5 .5,1.3 .5-1 .5,1.4 .5-.6 .5-.8 .5,1.5 .5-2.1 .5,1.2 .5-.4 .5-.9 .5,2 .5-1.2 .5,1.5 .5-.8 .5-.2 .5,1.4 .5-2 .5,1.6 .5-1.1 .5-1.2 .5,1.8 .5-1.3 .5,1.6 .5-.6 .5-.8 .5,1.1 .5-1.7 .5,1.7 .5-.6 .6-.6 .5,1.7 .5-1.5 .5,1.2 .5-.5 .5-1 .5,1.5 .5-1.2 .5,1.2 .5-.8 .5-.4 .5,1.2 .5-1.4 .5,1.7 .5-.6 .5-.8 .5,1.4 .5-1.4 .5,1.8 .5-.6 .5-1 .5,1.7 .5-1 .5,1.3 .5-.4 .6-.9 .5,1.2 .5-1.6 .6,1.5 .5-2 .6,1.3 .5-.7 .3,0 .5-1.1 .5,2.3 .5-2.1 .5,2.3 .5-.8 .5-1.1 .5,2.9 .5-2 .5,1.5 .5-.7 .5-1.6 .5,2 .5-1.8 .5,2.3 .5-1.5 .6-1.6 .5,2.2 .5-2.7 .5,2.1 .5-.6 .5-1.4 .5,2 .5-2.1 .5,2.8 .5-.7 .5-1.9 .5,3.4 .5-1.9 .5,2 .5-1 .5-1.8 .5,2.1 .5-3.2 .5,2.2 .5-1.1 .5-1.7 .5,1.6 .5-1.9 .5,2.4 .5-1.1 .5-1.3 .5,2 .5-2.8 .5,2.7 .5-1.2 .5-1.5 .5,2.8 .6-2.4 .5,2.9 .5-1.2 .5-.6 .5,2.2 .5-1.6 .5,2 .5-.7 .5-1 .5,2.5 .5-2.4 .5,2.2 .5-.7 .5-2.3 .5,2.1 .5-2.5 .5,2.3 .5-1.5 .5-1.9 .5,2.4 .5-1.8 .5,1.9 .5-1.2 .5-.4 .5,2.3 .5-2.6 .5,2.9 .5-1.6 .5-.6 .5,2.2 .5-1.5 .6,2.3 .5-1.7 .5-1.3 .5,2 .5-2.3 .5,2.2 .5-.6 .5-1.4 .5,2.5 .5-2.3 .5,1.8 .5-.6 .5-2 .6,2.4 .5-1.6 .6,2.3 .6-1.1"/>
</g>
<rect class="sp" x="132.95" y="27.0" width="1435.10" height="258.2"/>
<line class="tk" x1="132.9" y1="285.2" x2="132.9" y2="289.2"/>
<line class="tk" x1="298.2" y1="285.2" x2="298.2" y2="289.2"/>
<line class="tk" x1="463.5" y1="285.2" x2="463.5" y2="289.2"/>
<line class="tk" x1="628.7" y1="285.2" x2="628.7" y2="289.2"/>
<line class="tk" x1="794.0" y1="285.2" x2="794.0" y2="289.2"/>
<line class="tk" x1="959.3" y1="285.2" x2="959.3" y2="289.2"/>
<line class="tk" x1="1124.5" y1="285.2" x2="1124.5" y2="289.2"/>
<line class="tk" x1="1289.8" y1="285.2" x2="1289.8" y2="289.2"/>
<line class="tk" x1="1455.0" y1="285.2" x2="1455.0" y2="289.2"/>
<line class="tk" x1="128.95" y1="27.0" x2="132.95" y2="27.0"/>
<line class="tk" x1="128.95" y1="59.3" x2="132.95" y2="59.3"/>
<text class="t" style="font-size:30.7px" text-anchor="end" transform="translate(122.6,67.0) scale(1,1.0)">7.5</text>
<line class="tk" x1="128.95" y1="91.6" x2="132.95" y2="91.6"/>
<text class="t" style="font-size:30.7px" text-anchor="end" transform="translate(122.6,99.3) scale(1,1.0)">5.0</text>
<line class="tk" x1="128.95" y1="123.8" x2="132.95" y2="123.8"/>
<text class="t" style="font-size:30.7px" text-anchor="end" transform="translate(122.6,131.5) scale(1,1.0)">2.5</text>
<line class="tk" x1="128.95" y1="156.1" x2="132.95" y2="156.1"/>
<text class="t" style="font-size:30.7px" text-anchor="end" transform="translate(122.6,163.8) scale(1,1.0)">0.0</text>
<line class="tk" x1="128.95" y1="188.4" x2="132.95" y2="188.4"/>
<text class="t" style="font-size:30.7px" text-anchor="end" transform="translate(122.6,196.1) scale(1,1.0)">−2.5</text>
<line class="tk" x1="128.95" y1="220.6" x2="132.95" y2="220.6"/>
<text class="t" style="font-size:30.7px" text-anchor="end" transform="translate(122.6,228.3) scale(1,1.0)">−5.0</text>
<line class="tk" x1="128.95" y1="252.9" x2="132.95" y2="252.9"/>
<text class="t" style="font-size:30.7px" text-anchor="end" transform="translate(122.6,260.6) scale(1,1.0)">−7.5</text>
<line class="tk" x1="128.95" y1="285.2" x2="132.95" y2="285.2"/>
<text class="t" style="font-size:30.7px" text-anchor="end" transform="translate(122.6,294.1) scale(1,1.0)">−10.0</text>
<text class="t" text-anchor="middle" transform="translate(56.6,151.5) rotate(-90) scale(1,1.0)">Roll (deg)</text>
<rect x="1342.7" y="33.1" width="219.3" height="95.4" rx="5" ry="5" fill="#fff" stroke="#cccccc" stroke-width="1.3"/>
<line x1="1355.3" y1="48.7" x2="1412.9" y2="48.7" stroke="#ffa500" stroke-width="2.7"/>
<text class="t" text-anchor="start" transform="translate(1426.5,58.9) scale(1,0.95)">ECF</text>
<line x1="1355.3" y1="79.2" x2="1412.9" y2="79.2" stroke="#ff0000" stroke-width="2.7"/>
<text class="t" dx="0 0 0 0 -0.5 -3 0.4" text-anchor="start" transform="translate(1426.5,89.4) scale(1,0.95)">Raw IMU</text>
<line x1="1355.3" y1="109.6" x2="1412.9" y2="109.6" stroke="#0000ff" stroke-width="2.7"/>
<text class="t" text-anchor="start" transform="translate(1426.5,119.8) scale(1,0.95)">Proposed</text>
</g>
<g id="ax1">
<line class="g gv" x1="298.21" y1="311.2" x2="298.21" y2="569.6"/>
<line class="g gv" x1="463.47" y1="311.2" x2="463.47" y2="569.6"/>
<line class="g gv" x1="628.74" y1="311.2" x2="628.74" y2="569.6"/>
<line class="g gv" x1="794.00" y1="311.2" x2="794.00" y2="569.6"/>
<line class="g gv" x1="959.26" y1="311.2" x2="959.26" y2="569.6"/>
<line class="g gv" x1="1124.52" y1="311.2" x2="1124.52" y2="569.6"/>
<line class="g gv" x1="1289.79" y1="311.2" x2="1289.79" y2="569.6"/>
<line class="g gv" x1="1455.05" y1="311.2" x2="1455.05" y2="569.6"/>
<line class="g" x1="132.95" y1="343.5" x2="1568.05" y2="343.5"/>
<line class="g" x1="132.95" y1="375.8" x2="1568.05" y2="375.8"/>
<line class="g" x1="132.95" y1="408.1" x2="1568.05" y2="408.1"/>
<line class="g" x1="132.95" y1="440.4" x2="1568.05" y2="440.4"/>
<line class="g" x1="132.95" y1="472.7" x2="1568.05" y2="472.7"/>
<line class="g" x1="132.95" y1="505.0" x2="1568.05" y2="505.0"/>
<line class="g" x1="132.95" y1="537.3" x2="1568.05" y2="537.3"/>
<clipPath id="cp1"><rect x="132.95" y="311.2" width="1435.1" height="258.4"/></clipPath>
<g clip-path="url(#cp1)">
<path class="c" stroke="#ff0000" d="M133.1,439.1l1.1-.6 1,.6 1.1-.4 .9-.4 .9,.7 .9-.6 .9,1.1 .9-.7 .9,.8 .9-.5 .9-.4 .9,.8 .9-.9 .9,.9 .9-1.1 .9,.7 .9-.4 .9-.4 .9,1.2 .9-1.2 .9,.8 .9-.8 .9,1.2 .9-.4 .8,0 .8,.8 .9-1 .8,.9 .9-.9 .8,.8 1-.4 1.1-1.4 1-.1 1.1,1.1 1-.5 1.1,1.3 .9,.2 1-1 .9,.7 1-.5 .9,0 .9,.9 1-1.1 .9,.8 1,.8 .9-.8 1,1.1 .9-.5 .8-.7 .9,.4 .8-.9 .9-.3 .8,.9 .8-.6 1,.1 .9,1.6 1-.7 .9,.9 .9,.3 1-1.3 .9,.7 1-.4 .8-.6 .9,.9 .8-.6 .8,.8 .9-.8 .8,.3 .8,.6 .9-.6 .8,1.1 .9-1 .8,.8 .8-.2 .9-.1 .8,1.1 .9-.8 .8,.9 .8-.4 .9,.5 .8,.4 .8-.8 .9,1 .8-1 .9,1 .8-.6 .8-.9 .9,1 .8-.8 .9,.5 .8-1.1 .8,.1 .9,.3 .8-.7 .9,1 .8-.7 .8,1 .9-.3 1.2-2.8 .5,4.3 .5-4.8 .5,5.1 .5-4.6 .4,4.8 .5-4.4 .5,5.9 .5-6.3 .5,6.8 .5-7.2 .4,6.5 .5-8.3 .5,8 .5-7.8 .5,7.3 .5-4.7 .5,3.1 .5-4.6 .5,7.7 .5-9.4 .5,7 .5-6.1 .5,7.1 .5-5.4 .5,7.8 .5-8 .4,7.5 .5-7.4 .5,4.3 .4-3.7 .5,6.3 .5-10 .5,9.2 .4-8.4 .5,8.5 .5-6.7 .4,8 .5-8.5 .5,7.2 .5-6.8 .4,7.8 .5-4.8 .8-1.9 .8-1 .8-2.3 1.2,4.1 .5,5.5 .5-5.3 .5,3.5 .5-3.4 .5,5.2 .5-4.3 .5,3.4 .5-5.3 .6,4.5 .8,2.7 .9,3.9 1.3-9.6 .5,5.1 .5-4.4 .5,5.2 .5-6.9 .5,5.5 .5-2.9 .5,3.5 .5-4.5 .5,4.7 .5-5.4 .5,4.4 .5-4.7 .5,6.7 .5-8.5 .5,7.8 .5-5.3 .5,3.4 .5-4.6 .5,6.1 .5-5.1 .5,4.6 .5-3.9 .5,3.1 .5-3.8 .5,5 .6-4.3 .5,5.4 .5-5.1 .5,4.5 .5-.4 .9,.7 1-1.1 .9,.7 .9-.3 1-.5 .9,.9 1-1.1 .9,.1 1-.2 .9-1.8 .9-.2 1-1 .9-1 1,0 .9-1.3 1-.2 .8,.4 .8-1 .9,0 .8,.7 .9-.7 .8,1.2 .8,1.1 .9,.5 .8,1.6 .8,1.4 .9,0 .8,1.1 .9,1.1 .8-.6 .8,.8 .9,.1 .8-.9 .9,.8 .8,.6 .8-.5 .9,.5 .8-.2 .8-1.3 .9-.4 .8-.4 .9-1.5 .8-.6 .8,.1 .9-1.2 .8-.2 1,.4 .9-.8 .9,.7 1-.3 .9-.7 1,1.1 .9-.5 1,.1 .8,.8 .8-.5 .9,1 .8,.6 .9-.3 .8,1 .9,.5 1-.6 .9,1.1 1-.4 .8-.7 .8,.3 .9-1.1 .8,.6 .9-1.4 .8,.2 .8-.2 .9-1.1 .8,0 .9,0 .8-1.1 .8,.5 .9,.2 .8-1.2 .8,.3 .9,.4 .8-.6 .9,.9 .8-.4 .8-1.2 .9,.3 .8,.7 .9-.7 .8,.6 .8,.2 .9-1.1 .8,.3 1,1.4 .9,.5 .9,0 1,1.3 .8,.6 .9-.2 .8,.8 .9-.5 1-1.4 .9-1.3 1,.1 .8,.6 .9-.8 .8,.8 .8,0 .9-.8 .8,.2 .8,.3 .9-1.7 .8,.1 .9,.3 .8-1.1 .8,.2 .9,.7 .8-.2 .9,.7 .8,.9 .8-.7 .9,.5 .8,0 .8-1.4 .9,.1 .9,1.2 1,.7 .9,.7 1,1.2 .8,1 .8-.2 .9,1.1 .8,.8 .8-.2 .9,1.3 .8,.2 .9-.9 .8,0 .8,.2 .9-1.8 .8-.3 .9,.2 .8-1.2 .8-.2 1,1.6 .9,.3 1-1.1 .9-.2 .8,0 .9-1 .8-.2 .9,1.1 .8-.2 .8,.9 .9,1 .8-.5 .9,.8 .8,.6 .8-.9 .9,.9 .8,0 .8-1.4 .9,.2 .8,.5 .9-.8 .8,.3 .8,1.2 .9-.4 .8,1.1 .9,1 .8,0 .8,.8 .9,.3 .8-1.1 .9,.2 .8,0 .8-1 .9,.4 .8,.9 .8-.3 .9,.6 1,.4 1.1-.3 1,.6 1-.8 .9-1.7 .9-1.5 .8-.2 .8-1.5 .9-.9 .8,.1 .8-1.1 .9-.5 .8,.8 .9-.9 .8,.2 .8,1.6 .9,.1 .8-.3 .9,1.2 .8-.3 .8-.4 .9,1.2 .8-.8 .8-.3 .9,1.1 .8-.2 .9-.3 .8,.9 .8-.6 .9,.1 .8,.8 .9-.2 .8-.6 .8,.8 .9-.2 .8-.4 .8,1.4 .9-.4 .8-.2 .9,.8 .8,0 .8,0 .9,1.2 .8,.1 .9,.1 .8,1.6 .8,.2 .9-.2 .8,1.4 .8,0 .9-.2 .8,1.4 .9,.1 .9-1.4 1-.5 .9,.6 .9,0 .9,.2 .8,1.4 .9-.3 .9-.8 .9-.5 1,1 .9-.3 .9-.6 .8,.3 .8-1 1,.1 .9,.5 .9,1 .8-.2 .8,.5 1,1.5 .9,1 .7,1.1 .6,2.6 .6-4.6 .6-5.8 .5,6.1 .5-4.1 .5,4.4 .4-6.2 .5,4.4 .5-5.2 .5,5.9 .4-5.6 .5,3.3 .5-3.5 .4,6.2 .5-8.7 .5,9.6 .5-9 .4,5.5 .5-10 .5,9.5 .5-5.9 .5,5.7 .5-8.3 .5,15 .5-11.5 .6,6.6 .5-10.4 .5,17 .5-12 .6,7.8 .4-10.4 .5,5.7 .5-5.4 .4,4.5 .5-7.8 .5,7.4 .5-8.6 .4,6.5 .5-7.2 .5,5.9 .4-4.9 .5,6.3 .5-6.3 .5,2.5 .4-3.7 .5,5.9 .5-7.2 .4,5.9 .5-8.7 .5,8.7 .5-6.9 .4,6.3 .5-6.2 .5,7.5 .4-9.6 .5,6.1 .5-3.7 .5,6.4 .5-6.1 .5,10 .5-8.3 .5,9.4 .5-3.2 .5,9 .4-6.7 .5,8.5 .5-1.6 .5,6.1 .5-7.1 .5,10.6 .5-8.5 .5,7.5 .6-15.4 .6-13.3 .7-2.2 .5,5.1 .5-3.7 .5,5.7 .5-4.9 .5,5.5 .5-6.3 .5,6.5 .5-6.3 .5,8.4 .6,2.1 .6,.6 .6,7.1 .6,9.2 .7-7.7 .6-8.6 .5-1 .6,1.2 .5-2.4 .5,1.1 .5-2.1 .6,0 .5,.6 .6-2.1 .5,.8 .6-1.5 .5,.9 .6-2.1 .6,.9 .5-1.8 .6-.1 .5,.4 .6-1.5 .6,1.4 .5-2 .6,1 .5-1.8 .6,1.1 .6-1.5 .5,.4 .6,0 .5-1.4 .6,1 .6-1.4 .5,1 .6-1.6 .5,.7 .6-1.4 .5,.6 .6,.2 .6-1.2 .5,1.6 .6-1.3 .5,1.7 .6-1.3 .6,1.3 .5-1 .6,.6 .5,.9 .6-1.3 .5,1.8 .5-1.4 .6,1.3 .5-1.2 .6,1.2 .5,.5 .5-1.8 .6,1.6 .5-1.8 .5,.8 .6-1.8 .5,.6 .6,.8 .5-.3 .6,1.8 .5-.5 .6,1.3 1,7.6 1.3,5.6 1.2-16.3 .9-8.6 1,11.1 1.3,17 1.2,6.9 1.3-18.9 1.2-17.6 .9-2.2 .8-2.7 .8-2.1 1.1-6.3 1.1,7.5 1.2-2.5 1.3,10.1 1.3-5 1.2-2.6 1,3.8 1-8.8 1,10.1 1.3-2.5 .7-1.5 .8-2.3 .8-4.2 .7-3.4 1-1.2 1.3,6.3 .7,4.1 .8,3.4 1.2,8.8 1,2.6 .9,3.8 .9,1 .9-.7 .9,1.6 .9-.6 .8,.6 .9,1.3 .8-.5 .9,2 .8-.8 .8,1.5 .9,.3 .8-.6 .8,1.9 .9-.6 .8,1.6 .9-.9 .8,1.1 .8,.7 .9-.8 .8,1.7 .9-.7 .8,1.6 .8,0 .9-.1 .8,1.1 .8-.9 .9,1.2 .8-.9 .9,.9 .8,.7 .8-.8 .9,1.8 .8-.9 .9,1.8 .8-.1 .8,0 .9,1.2 .8-1 .8,1.7 .9-.9 .8,.3 .9,.7 .8-1.3 .8,1.2 .9-1.2 .8,.7 .9-.1 .9-.7 .9,.8 1-1.4 .9,0 .9-.3 .8-2.6 .8-.9 1,.1 .9-1.5 1,1.3 .9-1.1 .9-.8 .8,.8 .8-1.6 .9,1.2 .8-1.3 .8,.4 1,1.3 .9-.5 1,1.8 .9-.1 .9-1.8 .8,.1 .8-2 1.1-.1 1,1.2 1.1,.1 1,12.6 .9-13.8 1.2-2.6 .9,.4 .9,1.3 .9-.2 .8,1.5 .9-.4 1.3,5.6 1.2-6.9 1-.4 .9,1.5 1-.7 .9,.9 .9,3.7 1-6.3 .8-.8 .9-2.3 .8-.6 1-.3 .9-1.2 1,.2 .9-1.2 .8-1.4 .9,.3 .8-1.5 .8-.6 .9,.8 .8-1.2 .9,1.2 .8-1.1 .8,.3 .9,1.9 .8-.7 .9,2 .9,.4 .9-1.1 1,1.5 .9-.8 1,0 .9,1.8 1-.4 .9,1.1 .9,.1 1-1.6 .9,1.2 1-1 .9-.6 1,.7 .9-1.1 1,.4 .9,.6 .9-1.3 1,1.3 .9-.6 1-.3 .9,.9 1-1.1 .9,1.1 0,4.4 .5,1.3 .5-1.6 .5,1.8 .5-1.1 .5,.9 .5,.8 .5-1.3 .5,1.9 .5-1.3 .5,.5 .7,1.4 .6-.3 .6,1.4 .6-.1 .7-2.3 .6-.1 .6,.9 .7-1.7 .6,.2 .6,.7 .6-1.6 .7,1.5 .6,.5 .6-1.6 .7,1.1 .6,1 .6-.7 .7,1 .6,1.6 .6-1.6 .6,1.2 .7,1.1 .6-.8 .6,1 .7,1.1 .6-1.4 .6,.9 .6,.9 .7-1 .6,.7 .6-.1 .7-3.1 .6-.5 .6,.6 .6-1.7 .7-.2 .5,1.1 .5-1.5 .5,1.4 .5-1.3 .5,.9 .6,1.8 .6-1.3 .7,1.4 .6,2 .6-.3 .7,2.1 .6,.9 .6-.9 .6,1.2 .7,1.1 .6-1.2 .6,1.4 .5,.3 .5-1.7 .5,1.6 .5-1.1 .6,.3 .5,.4 .5-1.4 .5,.9 .5-1.6 .5-.2 .6,.2 .6-2.8 .7,.1 .6-.2 .6-2 .6,.3 .7,.8 .6-1 .6,1.4 .7,1.4 .6-1.5 .6,.8 .6,.7 .7-2.1 .6,.1 .6,0 .7-1.8 .6,.6 .5,.2 .5-1.6 .5,1.1 .5-1.7 .5,.7 .5,.2 .5-1.7 .5,1.1 .5-1.4 .5-.1 .6,.2 .7-1.6 .6-.5 .6,.5 .7-2.2 .6,.5 .6,.4 .7-1.8 .6,.1 .6,.1 .6-1.9 .7,.6 .6,1.3 .6-.7 .7,1.9 .6,2 .6,.6 .6,2.4 .7,1.2 .6-1.1 .6,.5 .7,.2 .6-1.6 .6-.5 .6-1.1 .7-3.2 .6-1.9 .6,.1 .7-2.9 .6-1 .6,.4 .6-1.1 .7,.4 .6,2.4 .6,.4 .7-.9 .6,1.3 .6-1.7 .6-1 .7,1.3 .6-1.5 .6,1 .7,3.4 .6,.6 .6,1.4 .7,3 .5,1 .5-.6 .5,1.5 .5-.4 .5-1.8 .6-.3 .6-.5 .7-3.1 .6-.2 .6-.9 .6-2.3 .7-.6 .6,.3 .6-2.1 .7-.1 .6,1 .6-1 .6,.7 .7,1.2 .6-1.1 .6,1.1 .7,1 .6-.7 .6,1 .6,1.6 .7-.7 .6,1.6 .6,2.9 .7,.5 .6,2.9 .5,2.5 .6,.3 .5,2.2 .5-.9 .5-3 .5-1.1 .7-1.1 .6-3.9 .6-1.3 .6-3 .7-4.4 .6-2.7 1.3-.2 .5,3.5 .5-5.4 .5,3.6 .5-6.1 .5,5.1 .5-6.4 .6,9.1 .5-6.3 .5,6 .6-8.9 .5,10.1 .6-12.1 .5,10.3 .5-6 .5,7.5 .5-7.7 1.1-8 .6,6.5 .7,8.9 .6-8 .5,9.5 .5-6.1 .5,7.6 .5-5.1 .6,2.1 .6,.2 .6,3.1 .6,.8 .6,.7 .6,2 .7-.2 .6-2.6 .6-1.2 .7-1 .6-3.4 .6-.6 .6,.1 .7-2.1 .6-.5 .6-.1 .7-2.5 .6-1.2 .6,.3 .7-2 .6-.8 .6,.8 .6-1.4 .7,.6 .6,1.7 .6-.5 .7,1.3 .6,2.4 .6,.7 .6,1.9 .7,2.1 .6-.3 .6,2 .7,2.3 .6,.2 .6,2.6 .6,2.6 .7,.8 .6,2.8 .6,1.2 .7-1 .6,1.7 .6-1 .6-3.1 .7-.3 .6-1.2 .6-2.9 .7-.9 .6-.4 .6-1.8 .6-.3 .7,.3 .6-1.9 .6,.3 .7,.5 .6-1.9 .6,.8 .7,1.1 .6-1 .6,1.1 .6,.9 .7-.4 .6,1.4 .6,1.3 .7,.1 .6,1.2 .6,2.1 .6-.4 .7,2 .6,2 .6-.2 .7,2 .6,1.5 .6-.3 .6,1.3 .7,2 .6-1.1 .6,1 .7,1.9 .6-1 .6,1 .6,.4 .7-1.9 .6,.2 .6-1.6 .7-3.4 .6-2.7 .6-.3 .6-2 .7-1.9 .6,.3 .6-2.2 .7-1 .6,1.7 .6-1.3 .7-.7 .6,1.1 .6-1.1 .6-.8 .7,1 .6-1.4 .6,.3 .7,2 .6,.2 .6,.8 .6,3.2 .7,1 .6,1.4 .6,3.2 .7,.5 .6,.6 .6,2.8 .6,.3 .7-.4 .6,1.7 0-1.3 .6,2.5 .7,0 .6-1.5 .6-1 .6-.7 .7-3.2 .6-1.1 .6-1.1 .7-3.1 .6-.8 .6,.1 .6-3.2 .7-.7 .6-.1 .6-2.7 .7,.3 .5-.1 .5-1.6 .5,1.3 .5-2.6 .5,1.1 .6,.6 .6-1.7 .7,1.1 .6,1.6 .6-1.3 .7,.9 .6,1.5 .6-1.6 .6,1.4 .7,1.7 .6-1.6 .6,1.8 .7,.9 .6-.6 .6,1.6 .6,.7 .7-1.3 .6,1.2 .6,1.6 .7-1.4 .6,1.1 .6,1.6 .6-1.2 .7,1.5 .6-1.1 .6-4 .7-.6 .6-1.4 .6-3.3 .6-.3 .7-.2 .6-2.7 .6,.3 .7,.7 .6-2.4 .6,.5 .6,.9 .7-.9 .6,1.2 .6,1.1 .7-1.1 .6,1.9 .6,1.8 .7-.4 .6,1.8 .6,5.3 .6,2.2 .7,2.1 .6,4.2 .6-.7 .7-1.8 .6-3.7 .6-1.3 .6-2.5 .7-3.8 .6-4.4 .6-1.9 .7-.3 .6-3.1 .6-.4 .6,.8 .7-2.9 .6,.2 .6,.3 .7-1.8 .6,.9 .6,1.5 .6-1.6 .7,.7 .6,2.1 .6-1.5 .7,.7 .6,.5 .6-3.2 .6,.2 .7,.4 .6-1.1 .6,1.3 .7,1.8 .6-1.6 .6,1.1 .7,1.6 .6-1.2 .6,2.1 .6-.3 .7-1.8 .6,.8 .6-.3 .7-3.9 .6-.8 .6-1 .6-3.4 .7-.6 .6,.2 .6-3.2 .7,.4 .6,.2 .6-.2 .6,.1 .7,3.1 .6,.6 .6-.9 .7,2 .6-1.1 .6-1.1 .6,.8 .7-.9 .6-1.2 .6,1.2 .7-1.3 .6,.8 .6,3 .6,2 .7-.7 .6,2.4 .6,1.8 .7-.9 .6,2.3 .6-.5 .7-2 .6,.6 .6-.3 .6-2.4 .7,.2 .6,.1 .6-2.1 .7-.5 .6,.8 .6-2.7 .6,0 .7,1 .6-1.2 .6,.8 .7,1.6 .6-.7 .6,1.6 .6,2.6 .7-.2 .6,2.7 .6,1.7 .7-1.1 .6,1.9 .6,1.8 .6-.6 .7,1.3 .6,2.8 .6-.7 .7,1.7 .6,3.6 .6,.1 .6,2.6 .7,.2 .6-2.4 .6-.4 .7-1.1 .6-3.2 .6-.7 .6-.9 .7-3.5 .6-.6 .6-.8 .7-3 .6,0 .6,1.1 .7-1.9 .6,1.4 .6,1 .6-1.4 .7,1.1 .6,.6 .6-2.1 .7,.8 .6,1.2 .6-1.1 .6,1.8 .7,2.5 .6-.3 .6,2.8 .7,2.7 .6,.3 .6,3.3 .6,2.9 .7,0 .6,2.2 .6,2.2 .7-.7 .6,1.6 .6-.4 .6-1.5 .7-3.7 .6-1.3 .6-2.2 .7-4.1 .6-3.1 .6,.5 .6-2.4 .7-1 .6,1.1 .6-1.4 .7-.9 .6,2.2 .6,0 .7-.7 .6,.8 .6-1.4 .6-.3 .7,2.4 .6,.4 .6-.6 .7,3.1 .6,0 .6-.6 .6,2.3 .7-1 .6-2.2 .6,.6 .7-1.6 .6-3.2 .6,1 .6-2.8 .7-2.7 .6-2.3 .6-.6 .7-1.9 .6-.8 .6,2.1 .6-.1 .7,.2 .6,2.3 .6,0 .7,.6 .6,2.9 .6,.3 .6-1.4 .7,1.2 .6-1.1 .6-.5 .7,3.2 .6-.1 .6-.2 .7,2.4 .6-1 .6,0 .6,2.1 .7-.8 .6-2.4 .6,.6 .7-2 .6-2.7 .6-.4 .6-3.2 .7-2.1 .6,.1 .6-3 .7-.5 .6,1.9 .6-.2 .6,.6 .7,3.9 .6,.6 .6,1 .7,3.6 .6,1.7 .6,0 .6,3.3 .7,.4 .6-.2 .6,2.8 .7-.1 .6-1.4 .6,1.7 .6-1.5 .7-3.1 .6-.4 .6-2.8 .7-2.7 .6-.8 .6-4 .7-3.2 .6-.3 .6-4.1 .6-1.8 .5,.6 .5-1.9 .5,0 .5,2.9 .6,.2 .6,2.7 .6,3.6 .6,5.1 .7,2.4 .6,.3 .6,3.2 .7,.3 .6,.8 .6,3.4 .6,.8 .7,.5 .6,2.1 0-.7 .6-.7 .7-3.5 .6-.2 .6-.4 .6-3.2 .7-.1 .6-.4 .6-2.4 .7,.2 .6-.3 .6-2.8 .6-.6 .7-.3 .6-4 .6-.8 .7,.1 .6-2.7 .6-.5 .6,1 .7-1.6 .6,.2 .6,2.2 .7,.1 .6,1.2 .6,4.4 .7,1.9 .6,2.1 .6,5.4 .6,2.6 .7,1.7 .6,3.9 .6,1.9 .7,.5 .6,3.1 .6,.2 .6-2 .7,.5 .6-2.3 .6-3.4 .7,0 .6-2.9 .6-4 .6-.3 .7-3.2 .6-2.8 .6,.3 .7-2.5 .6-1.7 .6-.2 .6,1 .7-.6 .6,1.5 .6,1.4 .7-1.7 .6,1.5 .6,1.9 .6-.4 .7,2.3 .6,2.5 .6-.7 .7,2 .6,2.8 .6-.4 .7,2.6 .6,3.8 .6,1.5 .6,3.5 .7,3.2 .6-.1 .6,3.2 .7,1.7 .6-1 .6,1.8 .6,.5 .7-2 .6,.3 .6,2.3 .7-1.6 .6,1.8 .6-.5 .6-2 .7-5.1 .6-3.7 .6-1.8 .7-4.7 .6-2.4 .6-1.6 .6-4.8 .7-1.1 .6-1.7 .6-2.1 .7,.8 .6,3.3 .6,1 .6,1.6 .7,4.2 .6,1.7 .6,1.2 .7,3.9 .6,1.2 .6,.3 .7,1.6 .6,.2 .6-2.9 .6-.5 .7,1 .6-2.2 .6,0 .7,.5 .6-2.3 .6,.5 .6,.6 .7-2.5 .6,.7 .6,.5 .7-1.1 .6,1.2 .6,.4 .6-2 .7,1 .6,1.9 .6,.3 .7,2.8 .6,3.9 .6,1.9 .6,4.3 .7,1.6 .6-1.2 .6,2.1 .7-.1 .6-1.2 .6-4.1 .6-2.2 .7-3.2 .6-5.6 .6-1.9 .7,.7 .6-2.6 .6,1 .7,2.9 .6-.1 .6,.4 .6,2.6 .7,.2 .6-1.5 .6,1.2 .7-1.6 .6-1.4 .6,1 .6-1.5 .7,.1 .6,2.1 .6-.3 .7,.4 .6,3.1 .6,.3 .6,.3 .7,2.9 .6,.5 .6-1.6 .7,1.7 .6-1.3 .6-1.4 .6,1.8 .7-1.7 .6-.1 .6,2.3 .7,.3 .6-.9 .6,2 .6,.2 .7,2.1 .6,4.2 .6,4.5 .7,4.3 .6,1.6 .6,3.4 .6-1.6 .7-3.4 .6-4.3 .6-2 .7-2.2 .6-2.8 .6-1.5 .7,1.1 .6-.9 .6-2.8 .6-.3 .7-3.2 .6-1.7 .6,.7 .7-1.5 .6-1 .6,2.8 .6-.5 .7-.5 .6,2 .6-.3 .7,.2 .6,2.3 .6,0 .6,.9 .7,2.4 .6,.5 .6,1 .7,3.4 .6,.6 .6,.8 .6,2.8 .7,.2 .6,.8 .6,3 .7,1.2 .5-1.3 .6,2 .5,0 .5-6.3 .5-3.9 .5-5.6 .6-9.8 .7-7.8 .6-.3 .6-2.2 .7,.6 .6,2.6 .6,.6 .6,.6 .7,3.2 .6,1.2 .6-1.4 .7,1 .6-.8 .6,.1 .6,3 .7,.6 .6-1.2 .6,.6 .7-1.9 .6-2.6 .6,0 .6-2.4 .5-1.3 .5,1.1 .6-1.7 .5,.3 .5,2.8 .6,0 .6,1.1 .6,4.5 .7,2 .6,.9 .6,3.4 .7,.7 .6,.2 .6,3.1 .6,.5 .7-1.1 .6,2.2 .6-.5 .7-2.4 .6-.1 .6-3.1 .7-2.7 .6,.8 .6-1.9 .6-1.5 .7,1.9 .6-1.7 .6-.2 .7,1.6 .6-.1 .6,.8 .6,2.9 .7,1.3 .6-.7 .6,2.2 .7-.2 .6-2.3 .6,.2 .6-1.7 .7-1.3 .6,1 .6-.9 .7-.5 .6,2.8 .6,.2 .6,.1 .7,2.4 .6-.6 .6-1.9 .7,.9 .6-2.2 .6-2.6 .6-.1 .7-3.6 .6-2.9 .6-.5 .7-2.9 .6-1.7 .6,.5 .7-1.3 .6-.5 .6,1.8 .6,0 .7,1.9 .6,3.1 .6,5.6 .7,3.2 .6,1 .6,3.4 .6,.6 .7-.1 .6,3.4 .6,.5 .7,2.2 .6,4.7 .6,1.9 .6,.2 .7,3 .6,.6 0-1.3 .6-3.7 .7-1.4 .6-4.1 .6-5.9 .6-5.7 .7-4.4 .6-4.4 .6-5.6 .7-3.9 .6-1.4 .6-3.6 .6-2.9 .7-.8 .6-2.5 .6-2.4 .7,.3 .6-1.7 .6-1.1 .6,1.4 .7-.3 .6,.3 .6,3.7 .7-.2 .6,1.3 .6,4.4 .7,1.8 .6,3.6 .6,6.4 .6,2.6 .7,4.2 .6,5.8 .6,6.2 .7,3.9 .6,3.7 .6,5.1 .6,3 .7,.1 .6,2.6 .6-1.8 .7-2.6 .6-7 .6-5.6 .6-6.5 .7-8.6 .6-5.9 .6-4.2 .7,.3 .6-.9 .6,1.2 .6,4 .7,1.7 .6-.8 .6,1.7 .7-1.5 .6,1.2 .6,3.1 .6,.1 .7,1.2 .6,3.4 .6,.4 .7,.6 .6,2.9 .6,.3 .7-.5 .6,2.7 .6,.3 .6-1.2 .7,1.5 .6-1.5 .6-.2 .7,2.4 .6-1 .6,0 .6,1.8 .7-.5 .6-1.6 .6,1.9 .7-1.6 .6,.6 .6,3.5 .6,1 .7-.2 .6,2.4 .6,.3 .7-2.2 .6-.3 .6-2.6 .6,.5 .7,3.1 .6,.2 .6-2.7 .7-1.1 .6-.2 .6-2.5 .6,.2 .7,2.7 .6,.7 .6,2.9 .7,1.8 .6,.3 .6,1.7 .7,.6 .6-1.4 .6,.8 .6,1.9 .7-.2 .6,2.1 .6,1.7 .7-1.7 .6,1.8 .6,1.4 .6-1.9 .7,1.2 .6,1.3 .6-1.4 .7,.7 .6,.4 .6-3 .6,.7 .7-.9 .6-2.8 .6-.1 .7-.4 .6-3.2 .6-.1 .6-.4 .7-2.2 .6,.1 .6,.6 .7-2.4 .6,.5 .6,.7 .6-2.6 .7,.6 .6,.5 .6-2 .7,.3 .6,1.2 .6-1.6 .7,1.6 .6,2.1 .6,.1 .6,2.9 .7,2.6 .6,.1 .6,3.6 .7,1.8 .6,.4 .6,2.8 .6-1.8 .7-3.2 .6-5.2 .6-3.6 .7-1.9 .6-3.2 .6,.7 .6,3.8 .7,.6 .6-2.1 .6,.8 .7-2.5 .6-1.2 .6,.6 .6-1.9 .7,1.3 .6,3.4 .6,.3 .7,1.3 .6,3.6 .6,1.4 .6-2.1 .7,1.4 .6-.6 .6-2.7 .7,.3 .6-2.6 .6-1.1 .6,1.1 .7-1.3 .6,0 .6,1.8 .7-.5 .6,0 .6,2.5 .7,0 .6,.4 .6,3 .6,.4 .7,0 .6,3.4 .6,.4 .7,.5 .6,2.8 .6,.4 .6,0 .7,2.5 .6,.7 .6-.7 .7,1.7 .6-1.7 .6-1.3 .6,.2 .7-1.4 .6-.3 .6,2.2 .7,0 .6-.2 .6,1.9 .6-1.1 .7-1.5 .6,.9 .6-1.9 .7-3.1 .6,.5 .6-2.4 .6-3.1 .7-.4 .6-2.8 .6-1.8 .7,.6 .6-1.3 .6-2.6 .7,.5 .6-1.7 .6-.8 .6,1.4 .7-1.2 .6,0 .6,3 .7,.1 .6-.1 .6,2.4 .6,.3 .7,.6 .6,2.8 .6,.3 .7,1 .6,3.7 .6,.4 .6-.3 .7,2.6 .6-.5 .6-2.3 .7,.6 .6-2.7 .6-1.4 .6,.6 .7-1.7 .5-.7 .5,1.3 .5-2.1 .5,1.3 .5-1.7 .5-1.3 .5,1.6 .5-2.3 .5,1.7 .5-.9 .5-.6 .5,2 .5-1.7 .5,1.6 .5-.7 .5-.3 .5,1.6 .5-1.5 .5,1.5 .5-.7 .5-1.1 .5,1.9 .5-2.1 .6,1.7 .5-1 .5-1.3 .5,2 .5-2.1 .5,1.7 .5-.3 .5-.7 .5,2.1 .5-1.5 .5,1.7 .5-1 .5-.8 .5,1.8 .5-1.6 .5,1.3 .5-.7 .5-1.1 .5,2.2 .5-1.7 .5,2.1 .5-.2 .5-.8 .5,2.3 .5-2.2 .5,2 .5-1.3 .5-1.1 .5,1.8 .5-2.4 .5,2 .5-.9 .6-1.2 .5,1 .5-1.1 .5,1.6 .5-1 .5-.4 .5,1.6 .5-1.8 .5,1.8 .5-1.2 .5-.2 .5,2.2 .5-1.4 .5,1.8 .5-.5 .6-1.8 .7,1.1 .6-1.8 .6-1.5 .6,1.7 .7-1.4 .5-.9 .5,1.5 .5-1.6 .5,1.2 .5-.9 .5-.4 .5,1.3 .5-2.3 .5,1.9 .5-1.1 .3,.6 .5-.6 .5,2 .5-1 .5,2 .5-.5 .5-.5 .5,1.6 .5-1.6 .5,.9 .5-1 .5-.5 .5,1.5 .5-1.4 .5,1.3 .5-.3 .6-.9 .5,1.3 .5-1.6 .5,1.2 .5-.6 .5-1.2 .5,1.5 .5-1.6 .5,1.8 .5-1.1 .5-.2 .5,1.3 .5-1.3 .5,1.5 .5-.7 .5-.6 .5,1.4 .5-2.3 .5,1.3 .5-1.1 .5-.5 .5,1.2 .5-1.5 .5,2.1 .5-.6 .5-.6 .5,1.6 .5-1.7 .5,1.4 .5-.7 .5-.5 .5,1.2 .6-1.5 .5,1.4 .5-1.3 .5-1 .5,1.7 .5-1.9 .5,1.6 .5-1 .5-.9 .5,1.4 .5-1.3 .5,1.6 .5-.8 .5-.3 .5,1.5 .5-1.6 .5,2.2 .5-.5 .5-.1 .5,1.8 .5-1.2 .5,1.5 .5-.8 .5-.8 .5,1.6 .5-1.5 .5,1.2 .5-1.1 .5-.9 .5,1.2 .5-1.2 .6,1.2 .5-.9 .5-.8 .5,1.8 .5-1.5 .5,1.7 .5-1.2 .5-.7 .5,1.7 .5-1.4 .5,1.8 .5-.8 .5-.5 .6,1.7 .5-1.5 .6,1.4 .6-.5"/>
<path class="c" stroke="#ffa500" d="M133.1,440.4l1,.7 .9,1.8 1,1.5 .9,1 1-1.7 .9-.8 .9,2.5 1,1.3 .9,1.3 1,2.4 1.2,1.3 1-1.8 .9-3.2 1-4.3 .9-3.3 1-1.8 .9-3.2 .9-1.6 1-.9 .9,1.1 1,.1 1.2,2.5 1-3.7 .9-2.5 1-.1 .9-1.2 .9,.2 1,.4 .9,2.9 1,1.5 1.2,6.3 1.3,6.3 .9,3.9 1,4.9 .9,5.1 1,3.7 .9,4 1,4.8 .9,4.2 .9,3.4 .9,.6 .8,1.3 .7-1.5 .8-2.9 .9-3.5 1-2.8 .9-2 1-3.1 1.2-2.5 1.3-2.5 .9-3.4 1-1.6 .9-2.1 .9-3 1-2.8 .9-2.2 1-2.8 .9-3.5 1-2.9 .9-2.1 .9-.1 1-1.2 .9-1.6 1-.9 .9-.7 1-1.8 .9-2.5 1-1.3 .9-1.5 .9-2.2 1-2.2 .9-1.6 1.3-.7 1.2,4.5 1.3,5 .9,3.2 1,1.8 .9-2.4 1-1.4 .9-.7 1-1.8 1.2,3.8 1.3,5 1.2,6.3 1.3,6.3 1.3,6.3 1.2,2.5 1-2.4 .9-1.4 .8-.7 .8-1.8 .8,2.1 .7,3 1,2.1 .9,1.6 1,1.8 .9,3.3 1,4.9 .9,3.9 .9,3.4 1,4.1 1.2,5 1.3,5.1 1.3-3.8 1,7.5 1.2-3.7 1.3-7.6 1.2-7.5 1.3,5 1.3-1.2 1.2-6.3 1.3,6.3 .7,1.7 .8,.8 .9,2.3 1,4 1.2,5 1.3,3.1 1.2-4.4 1.3-6.3 1.3-5 .9-.8 .9-1.7 1,.2 .9,1.1 1-2.6 .9-3.7 1.3,3.7 1.2-2.5 1,.5 .9,2 1.3-6.2 .9-3 1-4.6 1.2-8.8 1.3-5 .9,.3 1,.9 .9,3.2 1,1.9 .9,2 .9,3 1.3,2.5 .9-.7 1-1.8 .9-.9 1-.4 .9-.1 1-1.1 .9-3.3 .9-1.8 1-3.6 .9-3.9 1.3-7.6 1.2-6.2 1-1.6 .9,.3 1,1.3 .9,.6 1.3,6.9 1.2,8.8 1,3.4 .9,4.2 1.3-3.8 .9,3.1 1,1.9 .9,1.3 1,2.5 .9-2.7 .9-3.6 1.3-8.8 .9-4.1 1-2.2 .9,1.8 1,.7 .9,.2 1,1.1 .9,1 .9,.2 1,.2 .9,1.1 1,1.3 .9,0 1,1.5 .9,2.2 1,4.4 .9,3.2 .9,2.6 1,3.7 .9,3.5 1,2.8 .9,2 1,3 .9,1.6 .9,.3 1.3-.7 0,1.3 .9-4.6 1-2.9 .9-3.2 1-4.4 .9-3.7 1-2.6 .9-.4 .9-.8 1-.4 .9,1.6 1-2.8 .9-3.5 1-4 .9-2.3 1-1.7 .9-2 .9-1.4 1-.5 .9,2.8 1,1.6 .9,2.9 1,4.6 .9,4.7 .9,4.1 1,3.4 .9,4.2 1,3.4 .9,2.9 1,2.1 .9,3.5 1.3,1.9 .9-1.2 .9-2.6 1-3.6 .9-2.6 1-3.2 .9-4.4 1-5 .9-3.8 1-3.6 .9-5.2 .9-4.8 1-4 .9-2.7 1-3.6 .9-2.1 1-1 1.2,1.8 1.3,5.1 .9,4.3 1,3.2 1.2,7.6 1.3,7.5 .9,4 1,4.8 .9,3.7 .9,2.6 1,1.4 .9,2.4 1.3-2.5 .9-2.2 1-2.9 .9-2.8 1-2.2 .9-2.4 1-3.9 .9-2.9 .9-2.1 1-.3 .9-1 1.3,5.1 .9,3.3 1,4.2 .9,2.2 1,1.6 .9-.4 .9,1 1-1.4 .9-1.7 1-1.7 .9-.9 1,.3 .9-.9 .9-.8 1,.2 .8-.8 .8-1.7 .8-4.9 .7-3.9 1-2.8 .9-3.5 1-2.3 .9-1.5 1-1.3 .8,3.1 .7,2 1,2.7 .9,3.6 1.3,6.3 .9,2.3 1,1.4 .9-1.7 .9-.8 1-2.4 .9-3.9 1-4.5 .9-3 1-2.3 .9-2.8 1.3-2.5 1.2,3.8 1.3,6.3 .9,.7 1,1.8 .9,1.2 .9,.1 1-.3 .9,1.5 1,2.1 .9,.4 1,1.7 .9,2.1 1,2.5 .9,1.3 .9,.3 1,.9 .9-.7 1-1.8 .9-2 1-.5 .9,1.1 .9,.2 1-2.5 .9-1.3 1-.7 .9-1.8 1-1 .9-.3 .9-.9 1-1.6 .9,0 1,1.3 1.2,3.7 1.3-2.5 .9-2 1-3 .9-3.8 1-2.5 .9-1.7 1-2.1 .9,0 .9,1.3 1,1.3 .9-.1 1,0 .9,.7 1,.3 .9-1 .9,1.4 1,2.4 .9,3.9 1,2.4 1.2-2.5 1-3.6 .9-2.7 1.3-8.8 .9-9 .6,4.5 .7-5.1 .6,3.8 .6-4 .6,3.9 .7-5.7 .6,4.5 .7-8.5 .6,5.8 .7-6.3 .6,6.7 .7-9.9 .6,9.8 .5-11 .5,16.6 .5-10.6 .5,13.1 .5-4.4 .5,10.8 .6-10.3 .5,7.1 .6-5.1 .6,3.6 .5-7.5 .5,5.4 .5-7.8 .5,3.5 .6-7.3 .6,6.1 .5-4.8 .6,5 .6-7.4 .5,5.5 .6-8 .6,3.2 .5-7.7 .6,4.5 .6-5.5 .6,5.9 .6-5.5 .6,3.4 .6-3.4 .6,4.5 .5-6.5 .6,7.8 .6-4.6 .5,7 .5-2 .5,8.3 .5-.2 .6,12.6 .6-5.7 .5,13.5 1.4-5.2 1.1-18.1 1.1-.3 .6,5.2 .5-7.7 .6,5.2 .6-8.2 .5,6.9 .6-8.8 .6,.7 .5-7.2 .6,6.6 .6-9.6 .5,9 .6-7.8 .6,7.3 .9-13 .4,.8 .5,11.5 .6-6.3 .5,7 .5-1 1.1,6 1.1,4.4 1.3,7.5 1.3,3.8 .9-4.9 .9-3.9 1-2.9 .9-4 1,2.5 .9,4.4 1-3.4 .9-4.1 1.3-3.8 .9,2.1 .9,2.9 1,3.2 .9,1.9 1,.7 .9,1.8 1,2.3 .9,1.4 1,1.2 .9,2.6 .9,2.4 1,1.4 .9-1 1-.3 .9-1.6 1-2.1 1.2-2.6 1,1 .9,1.6 .9-2 1-3.1 1.2-3.1 1.3,6.9 1.3,8.8 .9,1.9 .9,3.1 1-8.2 .9-9.4 1-8.7 .9-7.6 1.3-2.5 .9,2.2 1,.3 .9,.3 1,.9 .9-4.7 .9-6 1,.9 .9,1 1.3,7.6 1.2,2.5 1-1.7 .9-3.3 1-2.5 .9-1.3 1.3-.6 .7,4.1 .8,2.8 .8,3.9 .8,4.9 1,3.6 .9,2.7 .9-3.2 1-1.9 .9-1.3 1-1.8 1.2,.6 1,2.3 .9,4 1,3.7 .9,2.6 1,3.4 .9,4.2 1.3,3.7 .9-.7 .9-1.8 1,.6 .9,1.9 1,.9 .9-.2 1-4.1 .9-2.9 .9-.7 1-2.4 1.2,.6 1,1.8 .9,3.3 1-1.1 .9-1.5 1-2.4 .9-1.3 .9,2 1,.5 .9,.8 1,1.7 .9,2.4 1,1.4 .9-2 1-.5 .9-.1 .9-1.8 1.3,3.1 .9,2.7 1,3.6 .9,.7 1-.1 .9-.4 1,1.1 .9,1.8 .9,.7 1.3,5 .9,2 1,3 1.2,1.3 1.3-6.3 1.3-8.8 1.2-11.3 1.3-10.1 .8-.3 .8-1.6 .9,8.2 1.3,6.3 1.2-10.1 1.3-4.4 .8,2.6 .8,4.3 .8,4.6 .7,3 1,3.3 .9,4.2 .9,2.8 1,2.3 .9,.2 1,1 .9,2.3 1,1.5 .6,.8 .6,4.5 .6,2.3 .7,.3 .6,4.7 .6,1.2 .7,1.1 .6,4.4 .6,.8 .5-.3 .4,1 .5-5 .5-8.2 .6-4.8 .7-2.8 .6-1.6 .6-3.4 .7,1.5 .6,4.8 .6,2.5 .6-1.1 .7,3.6 .6-1.1 .6-3.4 .7-.5 .6-.4 .6-2.9 .6-.5 .7,2.3 .6,.2 .6,3.6 .7,5.2 .6-2 .6-4 .6-1.5 .7-.1 .6-4.3 .6-.7 .7,2.4 .6-2.5 .6,1.4 .6,2.9 .7,.7 .6,2.7 .6,2.4 .7-1.3 .6,1.4 .6-.8 .6-4.2 .7-2.5 .6,.5 .6-3.1 .7-2.2 .6,1.2 .6-1.5 .7-2.1 .6,1.1 .6-1.5 .6,.8 .7,3 .6,2.2 .6,.3 .7-2.1 .6,.9 .6-1.3 .6-3.2 .7,.5 .6-2.4 .6-2.7 .7,1.5 .6-1.3 .5-2.1 .5,2.6 .5-1.9 .5,1.9 .5-1.7 .6,.4 .7,3.2 .6,.1 .6,.1 .6,4.5 .7,.5 .6,1.2 .6,3.7 .7,1.4 .6,.7 .6,3 .6-.6 .7-2.8 .6-.3 .6,.5 .7-2.9 .6,1.1 .6,1.9 .6-1.8 .7,1.2 .6,2.7 .6-1.6 .7,2.6 .6-1.9 .6-3.1 .7-2.8 .6,.6 .6-2.8 .6-.3 .7,2.8 .6,0 .6,0 .7,3.3 .6,.5 .6,.8 .6,4 .7,.2 .6-.7 .6,2 .7-2.7 .6-4.9 .6-3.6 .6,.8 .7-2.2 .6-2.1 .6,1.8 .7-1 .6-2.3 .6,1.3 .6-1.5 .7-2.1 .6,1.4 .6-1.8 .7-1.7 .6,1.6 .6-1.2 .6,1.6 .7,3.5 .6,3.3 .6-1 .7,2.7 .6,2.8 .6-.7 .7,2.9 .6-.5 .6-3.6 .6-.9 .7-.3 .6-4.4 .6-.3 .7-.5 .6-3.7 .6,.4 .6,1.5 .7-.4 .6,1.4 .6,2.5 .7-1 .6,2.3 .6,0 .6-3.4 .7-.4 .6,.2 .6-4.8 .7-.4 .6,2 .6-.8 .6,2.5 .7,.3 .6-1.9 .6,.4 .7-.9 .6-4.5 .6-.9 .6-1.3 .7-3.7 .6-2.8 .6,.2 .7,1.2 .6-.9 .6,1 .7,1.4 .6-2 .6,0 .6,.7 .7-2.5 .6,1.1 .6,2.4 .7-.2 .6,1.6 .6,5 .6,1.3 .7,.9 .6,3.8 .6,1.6 .7-.1 .6,3.9 .6,0 .6-4.8 .7-2.8 .6-3.8 .6-6.2 .7-3.5 .6,.6 .6-3.4 .6,.8 .7,2.9 .6,3.6 .6,.2 .7-3.7 .6-.1 .5,.4 .6-3.1 .5-.4 .7,5.1 .6,1.8 .5,1.5 .5,5 .5,2.3 .6,4 .7,6.1 .5,3.4 .5,1.3 .5,4.1 .5-.5 .5-3.9 .6-.6 .6-1.8 .7-6 .6-2.3 .6-.4 .6-4.9 .7-1 .6,0 .6-3.8 .7,0 .6-.1 .6-3.6 .6,0 .7-3.7 .6-6.4 .5-3.4 .5-2.3 .6,5.9 .5,2.3 .5,1.5 .5,2.3 .7,5.9 .6,2.9 .6,4.9 .7,7.7 .6,6.6 .6,4.7 .5,2.2 .5,2.8 .5-1.7 .5-5 .5-2.1 .7-.8 .6-6.1 .6,2.1 .6-5.2 .7,4.2 .6-2.5 .6,7.6 .7-4.6 .6,4.4 .6-6 .7,.6 .6-.2 .6-3 .6-.5 .7,.9 .6-3.1 .6,.9 .7,4.5 .6,1.8 .5,1.5 .6,4.5 .5,1.5 .5-4.8 .5-1 .5-4.2 .7-3.2 .6-.6 .6,3.8 .6,.8 .7,4.2 .6,3.8 .6,1.2 .7,3.8 .5,3.1 .6-.2 .6,3.2 .5,1.5 .5-3.5 .5-1.2 .5-4.1 .7-2.7 .6,.7 .6-3.1 .6-1.4 .7,1.2 .6-1 .6-3.8 .7,.5 .6-3 .6-5.3 .7-2.3 .6-.8 .6-4.3 .6-1.2 .7,.3 .6-1.8 .6,.3 .7,4.9 .6,1.4 .6,3.3 .6,5.5 .7,3.2 .6-1.2 .6,3 .7,2.3 .6-.5 .6,3.2 .6,3.6 .7,.8 .6,3.2 .5,3.4 .5-.4 .5,3.3 .5,1.9 .4-1.7 .5,2.3 .5-.8 .5-4.3 .5-1.2 .6-1.3 .7-4.7 .6-1.5 .6,2 .6-.7 .7,1.2 .6,2 .6,.5 .7-3.2 .6,.3 .6-2.1 .7-2.7 .6,1.2 .6-2.3 .6-1.6 .7,1.3 .6-2.2 .6-.6 .7,2.9 .6-1.1 .6-.9 .6,3.2 .7-1 .6-1 .6,2.6 .7-.4 .6-1.3 .6,2.4 .6-1.1 .7,2.1 .6,4.2 .6,1.3 .7-.9 .6,2.1 .6,.4 .6-4 .7-.1 .6-3.6 .6-5.2 .7-4.9 .6-1.4 .6,2 .6-1.4 .7,1.9 .6,1.2 .6-2.8 .7,.3 .6,.3 .6-3.8 .7-.2 .6-1.7 .6-4.6 .6-1.3 .7-1.2 .6-3.2 .6-.6 .7,1.1 .6-2 .6,.2 .5,1.7 .5-2.1 .5,2.4 .5-1.7 .5,.4 .7,1.4 .6-2.5 .6,1.1 .6,1.4 .7-1.6 .6,1.4 0-1.2 .6,4.1 .7,2.2 .6,3.5 .6,5.3 .6-1.8 .7-3.3 .6-4.6 .6-2.9 .7-2.9 .6-4.7 .6-4.1 .6-2.8 .7,1.8 .6,.1 .6,.4 .7,2.1 .6-1.8 .6-3.2 .6-4.3 .7-2 .6-2.1 .6-2.9 .5-2.2 .5,1 .5-2 .5,1.6 .6,4.1 .6,3.9 .6,2.4 .6,.4 .7,3.4 .6,1.8 .6,.7 .7,.7 .6,3 .6-.7 .6-1.8 .7,.9 .6,2.9 .6,4 .7,2.3 .6,1.7 .6,3.3 .6,2.9 .7,2.2 .6-1.1 .6,2.3 .7-3.8 .6-5 .6-6.3 .6-3.8 .7-1.3 .6-3.7 .6-2.9 .7-.9 .6-.2 .6-2.3 .6-2.2 .7-1.5 .6,1.7 .6-.5 .5-2.4 .5-.2 .5-3.1 .7,2.3 .6,4.7 .6,6.4 .7,4.9 .6,4 .6,4.8 .5,1.9 .5-.6 .7-3.4 .6-1.7 .6-3.3 .6-5.5 .7-2.1 .6-.1 .6-2.8 .7-1.4 .6,1.7 .6-1.6 .6-1.9 .7,.6 .6-2.4 .6-3.5 .7,.1 .6-2.9 .6-1.7 .6,.4 .5,.7 .6-2.4 .5-.2 .6,4.4 .6,2.5 .6-1.4 .5,1.6 .5-.8 .7,.5 .6,2.7 .6,2.6 .7-.1 .6,2.3 .6,4 .7,2.9 .6,2.1 .6,1.2 .6,2.6 .7,2.6 .6,.2 .6,2.2 .7-1.1 .6-2.7 .6-5.6 .6-3.2 .7-1.4 .6-4.3 .6-1.8 .7,.1 .6-3.4 .6-.5 .6,3.3 .7,.5 .6,1.7 .6,3.3 .7-.7 .6-2.6 .6-.5 .6,.6 .7-1.7 .6-.1 .6,3.7 .7,1.3 .6,1.6 .6,3.4 .6,2.8 .7,1 .6-.4 .6,2.6 .7,.3 .6,.5 .6,3.1 .7,.2 .6-.1 .6,2.8 .6-.2 .7-.2 .6,2.9 .6-.2 .7-4.9 .6-3.9 .6-1.2 .6-3.7 .7-.1 .6,.1 .6-2.4 .7,1 .6,1.6 .6-1 .6,1.9 .7,1.9 .6-.9 .6,1.6 .7,.5 .6-2.1 .6,1.6 .6,.8 .7-.7 .6,1.1 .6,5 .7,2.6 .6,3.1 .6,4.4 .6,3.9 .7,2.4 .6-2.9 .6-2.1 .7-1.1 .6-4 .6-4.6 .6-2.9 .7-3 .6-4.6 .6-3.2 .7-.2 .6-2.8 .6-2.5 .7,.2 .6-1.5 .6-3.2 .6,.4 .7-2.2 .6-3 .6-.5 .7-2.8 .6,1.1 .6,2.6 .6,3.6 .7,.4 .6,2.3 .6,1.2 .7-1.1 .6,1.2 .6,1.2 .6-1.4 .7,1.4 .6-.1 .6-2.4 .7,.9 .6,2.8 .6,.1 .6,.5 .7,3.3 .6,0 .6-1 .7-.3 .6-1.6 .6-3.4 .6-4.2 .7-2.1 .6-2.4 .6-4 .7-1.8 .6,2.6 .6,1.8 .7,.9 .6,3.4 .6,.8 .6-.8 .7,1.2 .6-.4 .6-3 .7-.5 .6-2.8 .6,.6 .6,3.1 .7,2.8 .6,.8 .6,2.7 .7,1.3 .6-.6 .6,1.8 .6-1.2 .7-3.8 .6-5 .6-3.8 .7-1.7 .6-3.7 .6-.9 .6,.3 .7-1.2 .6,1.5 .6,2.3 .7-1 .6,1.9 .6-1.4 .6-3.1 .7-.5 .6-.2 .6-1.1 .7,1.9 .6,4.4 .6,4.6 .7,4.2 .6,3.4 .6,5.4 .6,1.6 .7-.5 .6,2.7 .6-.9 .7-2.8 .6-1.4 .6-1.7 .6-5.2 .7-1.9 .6-1.6 .6-4.6 .7-.7 .6,3.3 .6,1.1 .6,.3 .7,1.8 .6-.8 .6,.3 .7,2.2 .6,0 .6,.5 .6,3 .7,.3 .6,2.6 .6,4.9 .7,4.9 .6,3.9 .6,3.5 .6,5.3 .7,3.6 .6,2.7 .6-2.7 .7-1.1 .6-5.9 .6-7.9 .7-5.2 .6-3.6 .6-1.1 .6-2.7 .7-.4 .6,1.7 .6,2.2 .7,.3 .6,2.5 .6,1.8 .6-.1 .7,2.1 .6,2.2 .6-1.3 .7,1.6 .6,2.2 .6-.1 .6,1.7 .5,8.3 .5,6.8 .3,10 0-10 .6,4.5 .7,6.8 .6,1.8 .6,.7 .6-3.2 .7-.6 .6-2.4 .6-3.9 .7-3.3 .6-.7 .6-3.5 .6-3.2 .7-.8 .6-3.5 .6-2.5 .7,.3 .6-2.9 .6-1.9 .6,1.3 .7-1.3 .6-.7 .6,2.4 .7,.2 .6,1.2 .6,3.4 .7,1.7 .6,2.4 .6,4.8 .6,1.6 .7,.7 .6,3.1 .6,0 .7-.6 .6,0 .6-1 .6-3.4 .7-1.8 .6,1.3 .6-2.1 .7,1.4 .6,2.4 .6-.8 .6-3 .7-4.6 .6-2.9 .6-1.6 .7-4 .6-2 .6,.3 .6-3 .7-1 .6,1.6 .6-1.9 .7,1.5 .6,.4 .6-2.1 .6,1.1 .7,1 .6-1.8 .6,.2 .7,0 .6-2.6 .6-.6 .7,2.3 .6-.4 .6,3.1 .6,4.5 .7,3.1 .6,.6 .6-2.6 .7-1.1 .6,.6 .6-2 .6,.7 .7,3 .6,1.4 .6,3.3 .7,4.3 .6,2.8 .6,1 .6-3.3 .7-1.8 .6-3.9 .6-6.1 .7-6.4 .6-3.7 .6-4.1 .6-4.7 .5-2.4 .6,.1 .5-2.7 .5,.6 .5,2.2 .6-.3 .6,0 .6,2.5 .7,0 .6,.1 .6,2.4 .7,0 .6,0 .6,3 .7-.5 .6-1.2 .6,1.3 .6-1.3 .7,.6 .6,3.5 .6,.9 .7-2.9 .6,.4 .6-2.5 .6-1.4 .7,.6 .6-1.7 .6-.8 .7,.1 .6,3.4 .6,1 .6,.7 .7,3.8 .6,.6 .6,.6 .7,3.7 .6,.7 .6,.2 .6,2.9 .7,.7 .6-2.6 .6-1.2 .7-1.1 .6-4.2 .6-1 .6-1.9 .7-4.4 .5-2.3 .5-.4 .5-3.6 .5,.2 .6,3.2 .5,.4 .7-.7 .6,2.7 .6-.7 .6-1 .7-.3 .6,3 .6-.1 .7,2.1 .6,2.1 .6-1.5 .6,1.9 .7,3.6 .6,1.5 .6,3.4 .7,4.1 .6,2 .6,.5 .6-1.8 .7,.4 .6-2.3 .6-.9 .7,1.6 .6-2 .5,0 .5,2.5 .5,0 .5,1.7 .6,4.8 .5,2.3 .6-2.1 .5-.3 .6-2.6 .6-4.7 .6-3.5 .7,3.3 .6,1.1 .6,4.9 .6,6.4 .7,7.3 .6,5.3 .5-3.4 .5-1 .5-3.1 .6-2.4 .7,.6 .6-2 .6,1.6 .7,2.2 .6-2.5 .6-5.1 .6-7.5 .7-5.1 .6-2.2 .6-3.4 .7,.5 .6,2.6 .6,3.5 .6,1.6 .7,1.1 .6,3.9 .6,1.3 .7,1 .6,4 .6,1.2 .6,2.9 .7,4.7 .6,5 .6,2.5 .7,1.1 .6,3.5 .6,1.7 .6-2.3 .7-1.4 .6-1 .6-4.1 .7-2.3 .6-.2 .6-2.5 .6-6.4 .7-3.7 .6-17.6 .6-6.7 .7-8.4 .6-.6 .6,1.7 .7,.2 .6-1.9 .6,1.4 .6-2 .7-2.1 .6,0 .6-3 .7,1.4 .6,3.1 .6,.6 .6,2.3 .7,2.7 .6-.7 .6-4.3 .7-1.3 .6-1.3 .6-4.3 .6-.7 .7-1.1 .6-2 .6,.1 .7,3 .6,2.8 .6,.4 .6,3.1 .7,6.1 .6,5.2 .6-1.7 .7,1.6 .6-1.1 .6,1.2 .6,3 .7,.8 .6-.4 .6,2.7 .7,.2 .6,.1 .6,2.1 .7,.3 .6-1.5 .6,.9 .6-1.9 .5-2.2 .5,.2 .5-2.4 .6,.4 .5,3.1 .6-.3 .6,.8 .6,3.3 .7,.9 .6,2.2 .6,4.1 .7,2 .6,.5 .6-2.5 .6-.1 .7-2.4 .6-.1 .6,2.6 .7,0 .6,.6 .6,3.1 .6,.1 .7,1.4 .6,4.7 .6,1.4 .7-.2 .6,2.2 .6-.7 .6-1.2 .7,1.9 .6-2 .6-1.1 .7,.8 .6-2.2 .6-.3 .7,2.3 .6-.8 .6-.2 .6,2.6 .7,.2 .6,2 .6,4.2 .7,3.6 .6,1.1 .6,4.2 .6,3.5 .7,1 .6,3 .6,3.3 .7,1.7 .6,.3 .6,2.2 .6-.1 .7-2.7 .6,.3 0,2.5 .6-4.6 .7-6.7 .6-7.5 .6-6.4 .6-6.8 .7-8.3 .6-6.5 .6-2.7 .7-5.9 .6-4.7 .6-2.4 .6-5.4 .7-2.8 .6-.6 .6-2.9 .7-2.1 .6,.8 .6,2 .6,1.8 .7,3.5 .6,5.3 .6,5.3 .7,2.3 .6,5 .6,5.4 .7,2.1 .6,5 .6,4.1 .6,2.4 .7,4.9 .6,2.6 .6,1.3 .7,3.6 .6,1.6 .6-1.5 .6,1.2 .7-2.9 .6-4.7 .6-8.6 .7-6.5 .6-7.2 .6-7.9 .6-4.7 .7-2.8 .5,.9 .6-2.1 .5,1.5 .5-2 .6,1.3 .5-2.5 .5,1.4 .6-2 .5,1.7 .6-2.4 .5,1.2 .5-1.6 .6,1 .5-1.4 .6-.4 .5,2.5 .5-1.4 .6,2 .5-.9 .6,2.2 .5-.6 .5,2.7 .6-1 .5,2.2 .6-1.2 .5,2.7 .5-1.3 .6,1.3 .5,1.2 .5-1.8 .5,1.8 .5-1.4 .5,1.4 .5,.7 .5-1.3 .5,2.1 .5-1.1 .5,.9 .5,2.2 .5-1.3 .5,2.3 .5-1.2 .5,1.8 .6,3.6 .7,2.6 .6,2.9 .6,4.7 .7-2.7 .6-3.6 .6-5.8 .6-4.3 .7-.7 .6-3 .6,.6 .7,1.9 .6,.1 .6-2.5 .6-.1 .7,3 .6,2 .6,3.3 .7,5.5 .6,4.2 .6,3.3 .7,2 .6,3.1 .6,3.4 .6,0 .7,2.9 .6,2.5 .6,.1 .7,3.7 .6,1.8 .6,.7 .6,2.5 .7,3.7 .6,.8 .6,3 .7,3.3 .6,.7 .6,2.3 .6,2.7 .7,.1 .6,2.3 .6-1.1 .7-3.7 .6-1.5 .6-1.3 .6-4.4 .7-1.9 .6-1 .6-3 .7-1 .6,.5 .6-3.4 .6,.4 .7-1.8 .6-3.3 .6-3.4 .7-2.8 .6,.9 .6-2 .7-.2 .6,3.5 .6,1.5 .6,3.3 .7,4.3 .6,3.5 .6,.6 .7,3.4 .6,2.2 .6,1.6 .6-4.4 .7-1.9 .6-1.1 .6-3.8 .7-1.4 .6,.6 .6-2.9 .6-.2 .7-.2 .6-3 .6-.6 .7-1.4 .6-4.1 .6-2 .6-.1 .7-4.2 .6-.8 .6-.8 .7-2.9 .6,0 .6-2.4 .6-4.6 .7-1.8 .6-2.2 .6-5.5 .7-2.4 .6-6.3 .6-7.5 .6-1.1 .5,1.4 .6-2.2 .5,2.2 .6-1.9 .6,1.7 .5-2.2 .6,1.4 .5-1.9 .6,1.1 .5-1.9 .6,1.3 .6-2.2 .5,1.4 .6-1.7 .5,1.5 .6-2.3 .5,2.1 .6-2.1 .5,1.3 .6-2.1 .6,1.5 .5-2.3 .6,1.5 .5-1.7 .6,.9 .5,1.3 .6-.9 .5,2.8 .6-.8 .5,2.1 .6-1.3 .5,2.2 .5-.7 .6,2.8 .5-1.3 .6,2.6 .5-.8 .6,2.2 .5-1.1 .6,2.1 .5-.9 .6,2 .5-.9 .5,2.6 .6-.8 .5,2.5 .6-1.1 .5,2.6 .6-1.2 .5,2.5 .6-1 .5,3 .5-1.1 .6,1.8 .5,.2 .7,.4 .6,3.3 .6,1.3 .7-3.1 .6-.7 .6-1.7 .6-3.3 .6-2 .5,1.5 .6-2.5 .5,1.2 .6-2 .5,.7 .6-2 .5,.1 .6,1.3 .6-.6 .6,2.4 .5-1.4 .6,2.4 .6-1.4 .5,3.1 .6-1.3 .6,2.6 .6-.8 .5,1.2 .7,1.8 .6-.4 .6,2.4 .6,2 .7-.1 .6,3.1 .6,2.4 .7,.5 .6,3.4 .6,2.8 .7,0 .6,3.5 .6,2.3 .6-.3 .7,3 .6,1.5 .6-.4 .7,1.4 .5,1.5 .5-1.6 .5,1.9 .5-1.9 .5,1.4 .5,.2 .5-2.1 .5,1.2 .5-1.9 .5,.1 .5,1 .5-2.5 .5,1.4 .5-2.1 .5,.9 .5,.7 .5-.9 .5,1.8 .5-1.6 .5,1.3 .5,1.6 .5-1.6 .5,2.3 .5-1.1 .5,.7 .5,.7 .5-1.7 .5,1 .5-1.4 .5,.7 .7-1.3 .6-3.2 .6-.5 .7-1.3 .6-3.3 .6-1.7 .7-.5 .6-2.8 .6-1.1 .6,2.1 .7-.4 .6,1.5 .6,1.9 .7-.7 .6,1.3 .6,1.8 .6-1.3 .7,.7 .6,.5 .6-3.1 .7,.1 .6-.3 .6-3.1 .6-.4 .7,0 .6-2.5 .5,.5 .6,3 .5,0 .6,1.6 .6,2.8 .6-1.1 .7,2 .6,2.1 .6-1.3 .7,1.7 .6-.6 .6-3.6 .6-.8 .7-.6 .6-3.4 .6-.4 .7,2.8 .6,1.6 .6,2 .7,4.3 .6,3.4 .6,2.9 .6,1.4 .7,3.2 .6,1.1 .6-2.6 .7-.6 .6-2.5 .6-4.9 .6-2.7 .7-1.2 .6-4.4 .6-1.9 .7-.6 .6-3.8 .6-.6 .6-1.1 .7-1.4 .6,.7 .6,3.7 .7,.6 .6,2 .6,3.8 .6,1.7 .7,.7 .6,3.7 .6,1.9 .7-.4 .6,2.1 .6-.4 .6-2.1 .7,.3 .6-2 .6-1.1 .7,1.1 .6-1.3 .6-.7 .7,2.3 .6-.9 .6-1.4 .6,.8 .7-.7 .6,.8 .6,3.2 .7,1.7 .6-2.5 .6,.5 .6-1.8 .7-2.5 .6,.6 .6-1.9 .7-.5 .6,1.7 .6-.5 .5-.5 .6,2.3 .5-1.4 .6,1.4"/>
<path class="c" stroke="#0000ff" d="M133.1,438.5l.6-.7 .5,1.6 .5-2 .5,1.8 .6-1.9 .5,.8 .6,.9 .5-1.6 .6,1.9 .6-1.5 .5,1.7 .6-2.2 .6,1.5 .6-1.7 .5,1.9 .6-1.7 .6,1.2 .6,.4 .5-1.4 .6,1.6 .6-1.8 .5,1.7 .6-1.1 .6,1.4 .6-1.9 .5,1.3 .6-1.4 .6,.8 .5,1.1 .6-1.9 .6,1.9 .6-1.6 .5,1.1 .6-1.4 .6,1.5 .5-1.2 .6,2.1 .6-1.8 .6,.6 .5,.7 .6-1.3 .5,1.5 .6-1.9 .6,1.9 .5-1.6 .6,2.1 .5-1.4 .6,.6 .5,.5 .5-2.4 .6,1.8 .5-2.3 .5,1.2 .5-.7 .6-.9 .5,2.1 .5-1.5 .5,2.4 .6-1.7 .5,1.5 .5,.4 .6-1.8 .5,2.3 .5-1.6 .6,1.5 .5-1.8 .6,.4 .5,1.2 .5-1.7 .6,1.9 .5-1.9 .5,2.1 .6-1.7 .5,.7 .6,1.2 .5-1.2 .5,1.7 .6-2.1 .5,1.7 .6-1.6 .5,.9 .5,.9 .5-1.8 .5,1 .5-1.7 .5,.4 .5,1.5 .5-1.8 .5,1.8 .5-1.6 .5,.1 .6,1.1 .5-1 .5,1.3 .6-1.1 .5,1.7 .6-1.7 .5,1.6 .5,.1 .6-1.7 .5,1.9 .6-1.9 .5,1.7 .5-1.9 .6,1.1 .5,.9 .6-1.7 .6,1.8 .5-2 .6,1.6 .5-1.3 .6,1.7 .5-1.6 .6,.6 .6,1.4 .5-1.5 .6,1.2 .5-1.6 .6,1.7 .6-1.1 .5,1.4 .6-1.8 .5,1 .6,.4 .6-1.4 .5,1.5 .6-1.1 .5,1.7 .6-1.2 .6,1.4 .5-1.4 .6,1.3 .5,.7 .6-1.6 .5,1.8 .6-2 .6,1.6 .5-1 .6,1.7 .5-2.1 .6,.9 .6,1.1 .5-2.3 .6,1.3 .5-1.8 .6,1.6 .6-1.4 .5,1.4 .6-1.7 .5,.6 .6,.5 .6-1 .5,1.5 .6-1.4 .5,1.6 .6-1.5 .5,2 .6-2.1 .6,1 1.2-2.8 .5,4.3 .5-4.8 .5,5.1 .5-4.6 .4,4.8 .5-4.4 .5,5.9 .5-6.3 .5,6.8 .5-7.2 .4,6.5 .5-8.3 .5,8 .5-7.8 .5,7.3 .5-4.7 .5,3.1 .5-4.6 .5,7.7 .5-9.4 .5,7 .5-6.1 .5,7.1 .5-5.4 .5,7.8 .5-8 .4,7.5 .5-7.4 .5,4.3 .4-3.7 .5,6.3 .5-10 .5,9.2 .4-8.4 .5,8.5 .5-6.7 .4,8 .5-8.5 .5,7.2 .5-6.8 .4,7.8 .5-4.8 .8-1 .8-2.8 .8-1.4 1.2,4.1 .5,5.5 .5-5.3 .5,3.5 .5-3.4 .5,5.2 .5-4.3 .5,3.4 .5-5.3 .6,4.5 .8,3.8 .9,2.8 1.3-9.6 .5,5.1 .5-4.4 .5,5.2 .5-6.9 .5,5.5 .5-2.9 .5,3.5 .5-4.5 .5,4.7 .5-5.4 .5,4.4 .5-4.7 .5,6.7 .5-8.5 .5,7.8 .5-5.3 .5,3.4 .5-4.6 .5,6.1 .5-5.1 .5,4.6 .5-3.9 .5,3.1 .5-3.8 .5,5 .6-4.3 .5,5.4 .5-5.1 .5,4.5 .5-.4 .5-.6 .5,1.4 .6-1.5 .5,1.3 .6-1.2 .5,1.5 .5-.9 .6-.8 .5,1.3 .6-1.8 .5,1.7 .5-1.6 .6,1.1 .5-.5 .6-1.3 .5,.9 .5-1.8 .6,.8 .5-2.1 .5,1.2 .6-.9 .5-1.4 .6,1.4 .5-2.2 .5,1.5 .6-1.9 .5,1.4 .6-1.3 .5-.9 .5,1.5 .5-2 .5,1.7 .5-.9 .5-1.1 .5,2.3 .5-1.3 .5,2 .5-.7 .5,.3 .5,1.8 .5-1 .5,2.2 .5-.1 .5-.5 .5,2.4 .5-1.2 .5,1.7 .5,.1 .5-.7 .5,1.4 .5-.9 .5,1.5 .5,0 .5-.9 .5,1.3 .5-1.1 .6,1.6 .5-.9 .5-.7 .5,1.9 .5-1.7 .5,1.9 .5-.8 .5-.5 .5,1 .5-2.3 .5,1.2 .5-1.3 .5-.7 .5,.3 .5-2.2 .5,1.4 .5-1.3 .5-1.5 .5,1.5 .5-1.7 .5,1.6 .5-1.2 .6-.9 .5,1.6 .5-1.6 .6,1.1 .5-1.4 .6,1.5 .5-.3 .5-.6 .6,1.6 .5-1.4 .5,1.5 .6-2.3 .5,1.6 .6-.4 .5-.5 .5,1.9 .5-1.5 .5,1.9 .5-.5 .5-1.2 .5,2.3 .5-1.6 .5,2.1 .5-.3 .5-1 .6,2 .5-1 .6,1.6 .5-1.8 .5,1.8 .6-1 .5-.8 .6,1.7 .5-1.8 .6,1.5 .6-2.2 .5,1.5 .6-1.5 .5,1.9 .6-.9 .5-.5 .5,1.3 .5-2.1 .5,.8 .5-.8 .5-.9 .5,1.5 .5-1.7 .5,1.4 .5-.9 .5-1.1 .5,1.6 .5-1.9 .5,1.3 .5-.6 .6-.8 .5,1.7 .5-1.2 .5,1.8 .5-.8 .5-.9 .5,1.8 .5-2.2 .5,1.6 .5-1.6 .5-.6 .5,1.5 .5-1.8 .5,2.2 .5-.7 .5-.7 .5,1.2 .5-1.8 .5,1.4 .5-.7 .6-.4 .7,2.3 .6,0 .6-.3 .7,2.4 .6-.8 .5-.2 .5,2 .5-1.9 .5,2.3 .5-1 .6-1.4 .7,.4 .6-.9 .6-1.1 .6,1.1 .7-1.2 .5-.7 .5,2.2 .5-1.7 .5,1.2 .5-.4 .5-.9 .5,1.1 .5-1.7 .5,1.7 .5-.8 .5-1.3 .5,1.5 .5-1.9 .5,1.6 .5-1.2 .5-.4 .5,.8 .5-1.5 .5,1.5 .5-1 .5-.9 .5,1.8 .5-1.1 .5,1.5 .6-.1 .5-.8 .5,1.6 .5-1.3 .5,1.4 .5-.2 .5-1.1 .5,1.7 .5-1.5 .5,.9 .5-1.3 .6,0 .6,2.1 .7-.2 .6-.1 .6,2.1 .7-.1 .5-.8 .5,2 .5-.9 .5,1.5 .5,.1 .5-1.1 .5,2.4 .5-1.2 .5,1.9 .5-.1 .5-.7 .5,1.6 .5-2 .5,1.8 .5-1.4 .5-1.1 .5,1.3 .5-1.7 .5,.9 .5-1.3 .5-.9 .5,1.3 .5-1.8 .5,1.1 .5-.9 .7-.1 .6,2.4 .6-.4 .7-1.2 .6,1 .6-1.1 .5-1.4 .5,1.5 .5-2.3 .5,1.8 .5-.8 .5-.4 .5,2.2 .5-1.2 .5,1.6 .5-.4 .5-.8 .5,2 .5-.9 .6,1.8 .5-.8 .5-.5 .5,1.9 .5-1.8 .5,1.5 .5-.5 .5-.9 .5,1.4 .5-2.1 .5,1.8 .5-1.4 .5-.1 .5,1.1 .5-1.6 .5,1.2 .5-.6 .5-.8 .5,2 .5-1.2 .5,1.7 .5,.2 .5-.9 .5,2.6 .5-1.4 .5,2 .5-.5 .5-.5 .5,1.5 .5-1.7 .5,1.5 .6-1.4 .5-.5 .5,1.3 .5-1.9 .5,1.6 .5-1.1 .5-.4 .5,1.8 .5-1.2 .5,1.9 .5-.9 .5-1.1 .5,1.8 .6-.7 .5,1.4 .5-1.1 .5,.4 .7,.3 .6-2.6 .6-.2 .5,.4 .5-2 .5,1 .5-2.5 .5-.1 .5,.2 .5-1.8 .5,1.5 .5-2.2 .5,.4 .5,1.2 .6-1.8 .5,1.1 .5-1.2 .5,.1 .5,1.1 .5-.9 .5,2 .5-1.8 .5,1.5 .5,.7 .5-1.6 .5,2.1 .5-1.5 .5,.9 .5,.8 .5-1.9 .5,1.6 .5-1.6 .5,1.1 .5,.7 .5-1.2 .5,1.5 .5-1.3 .5,.9 .5,.9 .5-1.7 .5,1.7 .5-1.7 .5,.8 .5,1.2 .5-1.6 .5,1.9 .6-1.4 .5,.6 .5,1 .5-1.9 .5,1.5 .5-1.7 .5,1.1 .5,.5 .5-1.5 .5,2.1 .5-1.5 .5,1 .5,.6 .5-1.2 .5,1.4 .5-1 .5,.8 .5,1.3 .5-1.8 .5,2 .5-1.2 .5,1 .5,1.2 .5-.9 .5,2.1 .5-1.7 .5,1.2 .5,.7 .5-1.1 .5,1.5 .5-1 .5,1.1 .6,.8 .5-1.4 .5,2 .5-1.5 .5,1.4 .6,.1 .6-2.1 .7,.1 .6,1.3 .6-1.4 .6,.7 .5,.8 .5-1.2 .5,2.3 .6-1.5 .5,.9 .6,.9 .6-2.6 .6,.4 .7,.9 .6-1.1 .6,.9 .5,.8 .5-2 .5,1.1 .5-1.5 .5,.3 .7,1.3 .6-1.7 .6,1 .5,1.4 .5-1.4 .5,1.6 .5-1.2 .5,.9 .7,1.3 .6-.5 .6,1.7 .7,1.1 .6-.5 1.2-10.4 .5,6.1 .5-4.1 .5,4.4 .4-6.2 .5,4.4 .5-5.2 .5,5.9 .4-5.6 .5,3.3 .5-3.5 .4,6.2 .5-8.7 .5,9.6 .5-9 .4,5.5 .5-10 .5,9.5 .5-5.9 .5,5.7 .5-8.3 .5,15 .5-11.5 .6,6.6 .5-10.4 .5,17 .5-12 .6,7.8 .4-10.4 .5,5.7 .5-5.4 .4,4.5 .5-7.8 .5,7.4 .5-8.6 .4,6.5 .5-7.2 .5,5.9 .4-4.9 .5,6.3 .5-6.3 .5,2.5 .4-3.7 .5,5.9 .5-7.2 .4,5.9 .5-8.7 .5,8.7 .5-6.9 .4,6.3 .5-6.2 .5,7.5 .4-9.6 .5,6.1 .5-3.7 .5,6.4 .5-6.1 .5,10 .5-8.3 .5,9.4 .5-3.2 .5,9 .4-6.7 .5,8.5 .5-1.6 .5,6.1 .5-7.1 .5,10.6 .5-8.5 .5,7.5 1.2-28.7 .7-2.2 .5,5.1 .5-3.7 .5,5.7 .5-4.9 .5,5.5 .5-6.3 .5,6.5 .5-6.3 .5,8.4 .6-8.8 .4,7.3 .4-6 1,26.8 1.3-25.3 .5,7.9 .6-9.6 .5,8.1 .5-7.8 .5,6.2 .6-6.1 .4,6 .5-5.3 .5,4.9 .4-6.4 .5,4.8 .5-3.5 .5,2.2 .4-3.1 .5-.7 .5,1.3 .5-1.6 .5,1 .5-1.3 .5-1.7 .5,.6 .6-2.2 .5,.7 .5-1.1 .6,2 .6,4.3 .6,.6 .7-2.2 .6,.3 .6,.4 .7-2 .6,.3 .5,.8 .5-1.7 .5,1.5 .5-2 .5,.8 .5,.6 .5-1.4 .5,1.4 .5-1.4 .5,.2 .5,1.3 .5-1.5 .5,1.6 .5-.8 .5,.6 .5,1.2 .5-1.6 .5,1.3 .5-.9 .6,.7 .5,.6 .5-1.7 .5,1.3 .5-1.3 .5,.4 .5,.5 .5-1.6 .5,1.1 .5-1.2 .5,.6 .7,2.4 .8,2 1,7.6 1.3,5 1.2-15.1 .9-8.8 1,11.3 1.3,16.4 1.2,6.3 1.3-17.7 1.2-17.6 1.3,1.3 1.2-8.8 1.1-6.3 1.1,7.5 1.2-2.5 1.3,10.1 1.3-5 1.2-2.6 1,3.8 1-8.8 1,10.1 1.3-2.5 .7-2.1 .8-1.7 .8-2.9 .7-4.7 1-1.2 1.3,6.3 .7,3.4 .8,4.1 1.2,8.8 1.3,8.8 .5,1 .5-1.1 .5,1.8 .5-1.1 .5,.7 .5,1.2 .5-1.5 .5,1.7 .5-.9 .5,1.4 .5,.9 .5-1.4 .5,2.1 .5-.9 .6,1.2 .5,1.3 .5-1 .5,2 .5-1.5 .5,1.7 .5,.9 .5-1.6 .5,2 .5-1.1 .5,1 .5,.9 .5-1.7 .5,2.3 .5-1.3 .5,.5 .5,1.5 .5-1.2 .5,1.6 .5-1.1 .5,1 .5,1 .5-1.8 .5,2.4 .5-1.2 .5,.9 .5,1 .5-1.9 .5,1.5 .5-1.5 .5,.3 .5,.9 .6-1.2 .5,1.9 .5-1.7 .5,.7 .5,.7 .5-1.3 .5,2.3 .5-1.8 .5,1.4 .6,.9 .6-1.1 .7,1.4 .6-.2 .6-2.7 .6-.2 .7,1.9 .6-.7 .6,1.3 .7,1 .6-2.7 .6,1.1 .7-.8 .6-2.3 .6,.5 .6-.6 .7-2.8 .6-.3 0-1 .5,2 .5-2.3 .4,3 .5-2.9 .5,3.3 .5-4.8 .5,4.3 .5-4.6 .5,5.1 .4-3.7 .5,2.9 .5-4.3 .5,4.7 .5-5.1 .5,4.4 .5-5.5 .5,4.4 .5-3.3 .5,2.8 .5-4.8 .5,6.3 .5-6.3 .5,5.6 .5-6.3 .5,6.5 .5-5 .5,3.9 .5-6.2 .5,4.4 .4-9.3 .4,6.6 .5-8.3 .5,8.7 .5-9.2 .5,3.8 .8-5.8 .7-6.7 .9,6 .5,10.2 .5-7 .5,5.9 .5-5.7 .4,5.5 .5-4.4 .5,3.5 .5-6.1 .5,8.9 .4-6.1 .5,5 .5-8 .4,7.1 1.1,15.4 .9-25.1 .4,10 .5-8.9 .5,9.7 .5-8.9 .4,6.3 .5-7 .5,6.5 1.1-10.9 .6,4.5 .4,9.7 .4-9 1.1,16.8 .6-18.2 .5,11 .5-9.8 .5,7.1 .5-5.5 .5,7.9 .5-10.3 .4,11 .5-8.8 .7,6.6 .7,7.8 .8-10 .8-11.4 .9,11.3 .7-8.1 .7-7 .9,12.9 .5,2.5 .5-4.6 .5,6.3 .5-6.7 .5,6.3 .5-4.1 .5,4 .5-6.5 .5,7.2 .5-6.4 .5,6.6 .5-5.6 .5,5.1 .4-4.1 .5,4.8 .5-6 .5,3.8 .5-4.2 .5,6 .4-4.2 .5,5 .5-6.1 .5,4.2 .5-3.7 .5,5.7 .5-5.9 .5,6.2 .5-5.2 .5,5.7 .5-6.4 .5,7.1 .5-6.3 .6,1.1 .6-1.9 .6,1.3 .5,1.2 .6-.2 .5,2.2 .5-.2 .6,2.2 .5-.3 .6,1.3 .5,.8 .6-1.7 .5,1.7 .6-1.5 .6,1.7 .5-1.5 .6,1.6 .5-1.8 .6,.7 .6,1 .5-1.5 .6,1.9 .5-1.2 .6,1.2 .5-1.6 .6,2.2 .6-1.6 .5,.9 .6,.5 .5-1.5 .5,1.8 .6-1.3 .5,1.7 .6-1.3 .5,.1 0-.6 .5,1.5 .5-1.9 .5,1.9 .5-1.7 .5,.8 .5,.7 .5-1.5 .5,2.2 .5-1.7 .5,1.6 .5,1.8 .5-1.6 .5,2.5 .5-1.7 .5,1.5 .6,.4 .5-1.3 .5,1.9 .5-1.4 .5,1 .5,1.2 .5-2.1 .5,2.2 .5-2 .5,.7 .5,.6 .5-2 .5,1.6 .5-1.9 .5,1.1 .5,.8 .5-1.4 .5,1.2 .5-1.6 .5,1.6 .5,1.3 .5-1.4 .5,2.5 .5-1.9 .5,1.4 .5,1 .5-1.2 .5,1.6 .5-.9 .5,1.4 .5,1.2 .5-1.6 .6,2 .5-.9 .5,1.2 .5,1.1 .5-2 .5,2.5 .5-1.9 .5,1.5 .5,.7 .5-2.3 .5,2.2 .5-1.1 .5,.5 .5,1.5 .5-2.3 .5,1.4 .5-1.7 .5,.5 .5,1.2 .5-2 .5,1.3 .5-1.1 .5,1.2 .5,.7 .5-2 .5,1.4 .5-1.6 .5,.9 .7,1.8 .6-.4 .6,1.7 .6,2 .5-1.6 .6,.9 .5,.3 .5-2.2 .6,1.1 .5-1.7 .6-1.6 .7,.7 .6-1 .5-1.2 .5,1.1 .5-1.2 .5,1.4 .5-1.4 .5-1.2 .5,1.7 .5-1.9 .5,1.1 .5-.9 .5-.7 .5,1.3 .5-2 .5,1.4 .5-1.3 .5-1.2 .5,1.5 .5-1.7 .5,1.4 .5-1.2 .5-1 .6,1.2 .5-2.3 .5,1.9 .5-1.1 .5-1.2 .5,1.2 .5-2.1 .5,1.7 .5-.9 .5-.6 .5,1.4 .5-1.7 .5,1.5 .5-1.2 .6-.4 .7,1.6 .6-1.2 .6-1.6 .6,.7 .7-2.9 .6-2 .6,.4 .7-2.1 .6-.7 .6,1.1 .6-1.1 .7,.1 .6,1.4 .6-.2 .7-.6 .6,2.9 .6-1 .6-.3 .7,1.8 .6-.3 .6-1.1 .7,2 .6-.3 .6-1 .6,2.1 .7-.4 .6-1.9 .6,.7 .7-2 .6-2.4 .6,.4 .6-2.4 .7-1.8 .6,.5 .6-1.8 .7-.5 .6,1.8 .6-.1 .7-.2 .6,2.8 .6,0 .6-.1 .7,2.3 .6-.4 .6,0 .7,2.3 .6-.4 .6-.6 .6,1.8 .7,.1 .6-1.1 .6,1.8 .7-1.3 .6-.7 .6,1.2 .6-1.2 .6-.5 .5,1.7 .6-.5 .6-13.3 .9,8.4 .5,7.9 .5-10.3 .4,6.3 .5-5.6 .5,5.6 .5-5.5 .5,5.9 .5-3.6 .4,6.5 .5-10.5 .5,7.3 .5-3.3 .5,7.3 .5-8.2 .5,6.6 .5-8.8 .5,6.2 .5-8.1 .5,6.9 .5-4.8 .5,5.4 .5-7.1 1.1-4.5 .7,5.5 .5,7.7 .5-10.1 .5,9.1 .5-7.5 .5,10.4 .5-10 .5,5.5 .5-6.4 .5,6.3 .5-6.4 .5,6.7 .5-9.2 .5,12.2 .5-12.2 .8,12 .7,12.9 .9-23.7 .5,11.8 .5-13 .5,11.5 .6-10.9 .5,11.9 .5-10.6 .5,11.6 .5-10.4 .5,7.6 .5-8.1 .6,8.4 .4-7.2 .5,6.8 .5-6.6 .4,5.8 .5-3.5 .5,4.5 .5-4 .6,1.7 .6-.4 .6,2.9 .6-.5 .5,1.8 .6,1.7 .5-1.3 .5,2.2 .5-1.6 .5,1.5 .6-.3 .6-2.8 .7,0 .6,0 .6-1.8 .6,1.1 .5,.1 .5-1.3 .5,1.5 .6-2.2 .5,.7 .5,1.2 .5-1.8 .5,2.4 .5-1.6 .5,1.7 .5,1.1 .5-1.8 .5,2 .5-1.5 .5,1.4 .6,1.6 .6-1.1 .7,2 .6,1.5 .6-1 .7,1.4 .5,1.8 .5-1.6 .5,1.5 .5-1 .5,.6 .5,1.2 .5-1.5 .5,2.1 .5-1.3 .5,.7 .5,1.5 .5-2.1 .5,2.1 .5-1.3 .5,1.1 .5,1.5 .5-2.1 .5,1.5 .5-2 .5,1.1 .5,1.1 .5-1.9 .5,2.4 .5-1.5 .5,.5 .5,.7 .5-1.9 .5,1.6 .6-1.5 .5,1.1 .5,1.2 .5-1.6 .5,1.7 .5-1.6 .5,.3 .5,1.1 .5-1.7 .5,2 .5-1.5 .5,.7 .5,1.2 .5-1.2 .5,1.6 .5-1.3 .5,1 .5,1.1 .5-1.6 .5,2.3 .5-1.5 .5,1.6 .5,1 .5-1.4 .5,2.5 .5-1.2 .5,1 .5,1.1 .5-1.5 .5,1.9 .5-2.2 .5,1.3 .6,.9 .5-1.9 .5,2.5 .5-1.5 .5,1.3 .6,1.3 .6-1.4 .7,.7 .6,.3 .6-1.9 .6,.3 .5,.8 .5-2 .5,1 .5-2.2 .6,1.2 .5,.8 .5-2.3 .5,1.6 .5-1.5 .5,.1 .5,1.1 .5-1.8 .5,1.8 .5-2.3 .5,.6 .5,1.1 .5-1.5 .5,1.1 .5-1.3 .5,1.2 0-.6 .5,.3 .5-1.2 .5,1.5 .5-1.7 .5,1.1 .5,.8 .5-1.6 .5,1.9 .5-1.2 .5,1.3 .5,1.1 .5-1.4 .5,2 .5-1.1 .5,1.3 .6,1.4 .5-1.7 .5,2.4 .5-2.1 .5,.7 .5,.5 .5-2.2 .5,1.1 .5-2.9 .5,.9 .5,.2 .5-2.7 .5,1.8 .5-2.3 .5-.1 .5,.3 .5-2.7 .5,1.1 .5-3.1 .5,.6 .5,0 .5-2.8 .5,1.6 .5-2 .5,.1 .5,.7 .5-2.8 .5,1.1 .5-1.9 .5-.3 .5,.9 .5-2 .6,.8 .5-1.8 .5,.3 .6,1.2 .6-1.2 .6,1.2 .7,1.6 .6-1 .6,1.3 .5,1.2 .5-1.4 .5,2.1 .5-1.3 .5,1.3 .5,1.1 .6-1.5 .5,1.8 .5-2.1 .5,1.3 .5,.5 .5-1.8 .5,1.5 .5-2.7 .5,.6 .5-.1 .5-2.1 .5,.9 .5-2.9 .5,.5 .6,.1 .7-3 .6-.3 .6,1.1 .6-1.5 .7,1.7 .6,1 .6-1.1 .7,1.3 .6-1.1 .6-3.4 .6-.5 .7,2.4 .6-.6 .6,2 .7,1.8 .6-.6 .6,1.9 .5,1.8 .5-1.2 .5,2.1 .5-1 .5,1.5 .5,.9 .5-1.8 .5,1.6 .5-2.1 .5,.7 .5,.3 .6-1.6 .5,1.5 .5-2.1 .5,1.3 .6-1.5 .6-3.7 .6-1.1 .7-.4 .6-3.4 .6-1.2 .7-.3 .6-2.7 .6,.5 .7,1.4 .6-.9 .6,2 .5,1.2 .5-.4 .5,2.4 .5-.8 .5,1.4 .5,1.7 .5-.9 .5,2.1 .5-.9 .5,2.4 .5,1 .5-2.1 .5,2.2 .6-1.8 .5,1.3 .5,.5 .5-1.2 .5,1.9 .5-1.2 .5,1.2 .6,.1 .6-3.4 .7-.4 .6,.9 .6-2.1 .6,.5 .5,1 .6-2.2 .5,1.4 .5-2.1 .5,.1 .5,1.1 .5-1.1 .5,2.2 .5-2 .5,1 .5,1.5 .5-2.1 .5,1.8 .5-1 .5,1.1 .5,.8 .5-1.5 .5,2.4 .5-1.1 .5,1.3 .5,1.1 .5-1.1 .5,1.6 .5-.9 .5,1.8 .5,1.6 .5-1.3 .5,1.6 .5-1.5 .5,.8 .5,.9 .5-1.2 .5,1.7 .6-1.4 .5,.7 .5,1 .5-2.1 .5,1.8 .5-1.7 .5,1 .5,1.1 .5-2 .5,1.4 .5-2.3 .5,1.1 .6,.6 .6-1.4 .7,.8 .6,1.6 .6-1.5 .7,1.8 .5,1.3 .5-.8 .5,2.3 .5-.5 .5,1.5 .5,1.7 .5-.6 .5,2.5 .5-1.4 .5,1.6 .5,1.6 .5-1.5 .5,2.5 .5-.8 .5,1.9 .5,1.6 .5-1.9 .5,1.9 .5-1.9 .5,1.6 .5,1 .5-2.1 .5,2.3 .5-1.7 .5,1.1 .5,.8 .5-2.2 .5,1.3 .6-2.4 .5,.6 .5,.7 .5-2.1 .5,1.3 .5-2.4 .5,1.3 .5,.2 .5-1.6 .5,1.9 .5-2.3 .5,1.1 .5,.8 .5-1.6 .5,1.3 .5-1.8 .5,.7 .6,1.3 .7-2.3 .6,.4 .6,1.5 .6-1 .7,1.4 .6,1.5 .6-1.5 .7,1.9 .5,.8 .5-1.9 .5,1.9 .5-1.2 .5,1 .6,.1 .6-3.1 .7,.5 .6-.3 .6-2 .7-.2 .6-.1 .6-3 .6-.7 .5,.3 .5-2.2 .5,1.3 .6-2.7 .5,.1 .5,.5 .5-2.2 .5,1.3 .5-2.1 .5,0 .5,1.8 .5-1.4 .5,2.4 .5-1.5 .5,1.2 .5,1.4 .5-1.6 .5,1.6 .5-1.3 .5,1.2 .5,.8 .5-1.4 .5,2 .5-1.9 .5,.5 .5,.5 .5-2 .5,1.2 .5-2.3 .5,.1 .5,.3 .5-2.1 .5,1.1 .5-2.1 .5-.4 .7,0 .6-3.6 .6-.1 .7,.5 .6-2.7 .6,.9 .5,0 .5-2 .5,1.1 .5-1.8 .5,.2 .5,1 .5-.8 .5,2 .6-1.6 .5,.7 .5,1.9 .5-1.4 .5,2.1 .5-1.1 .5,1.6 .5,.9 .5-1 .5,1.8 .5-1.4 .5,1.6 .5,.6 .5-2.4 .5,.6 .5-2.4 .5-.2 .5,.3 .5-2.4 .5,.6 .5-2 .5-.3 .5,.4 .5-2.6 .5,1 .5-2.6 .5,.1 .5,1.1 .5-2 .5,2 .5-1.8 .5,1.3 .6,1.2 .5-.1 .5,2.6 .5-.8 .5,1.5 .5,2.2 .5-1 .5,2.2 .5-.3 .5,1.3 .5,1 .5-2.2 .5,1.7 .5-2.2 .5,.4 .5,1.3 .5-2.3 .5,1.7 .5-1.9 .5,.6 .5,.6 .5-1.9 .5,1.7 .5-1.9 .5,.3 .7-.1 .6-2.4 .6-.1 .6,1.2 .7-2.3 .6,1.1 0-.6 .6,1.2 .7-.7 .6,1.4 .6,1.3 .6-1 .7,2.2 .6,1.4 .6-.4 .7,1.5 .6,1.6 .6-.6 .6,1.5 .6,1.2 .5-1.2 .5,2.1 .5-1.4 .5,1.9 .5,.7 .5-1.7 .5,2.2 .5-1.8 .5,1.2 .5,.5 .5-2.1 .5,1.5 .5-1.3 .5,.1 .5,.6 .5-1.6 .5,1.6 .5-2.1 .5,.3 .5,.6 .5-1.7 .5,1.9 .5-1.5 .5,1.3 .5,1.5 .5-1.1 .5,2.4 .5-1.6 .5,1.3 .5,1.8 .5-.8 .6,2.6 .5-1.2 .5,1.4 .5,1.7 .5-1.1 .5,2 .5-1 .5,.9 .5,1.4 .5-1.3 .5,2.4 .5-1.1 .5,1.1 .6,2.2 .6-.5 .7,2.1 .6,1.7 .6-.4 .7-1.1 .6,1.5 .6-1.7 .5-.7 .5,1.2 .5-2 .5,1.7 .5-.8 .5-.9 .5,1.2 .5-2.2 .5,1.3 .6-1.3 .5-1.1 .5,1.2 .5-1.8 .5,1.4 .5-1 .6-1.1 .6,1.4 .7-.9 .6-.4 .6,1.6 .6-.6 .7-1 .6,1.6 .6-1.2 .7-.5 .6,1.8 .6-.1 .6,.1 .7,2.5 .6,0 .5-.7 .5,2 .5-1 .5,1.6 .5,0 .6-.3 .7,2 .6-1.1 .5-.9 .5,1.7 .5-2.5 .5,1.6 .5-1.2 .6-1.8 .7,.6 .6-1.9 .6-2.3 .7,.3 .6-3.1 .6-1.9 .7,.9 .6-2.7 .6-1.7 .6,1.1 .7-.7 .6-.8 .6,1.1 .7-.9 .6-1.6 .6,1.3 .6-1 .7-1.3 .6,1.4 .6-.7 .7-2.4 .6,1.2 .6-1.9 .6-2.3 .7,.8 .6-1.7 .6-1.4 .7,1.4 .6-1.2 .6-.7 .6,2.2 .7-.3 .6-.6 .6,1.1 .7-1.7 .6-.3 .6,2.5 .6,.3 .7-.7 .6,2.1 .6-.2 .5-.7 .5,1.7 .5-2.6 .5,1.8 .6-1.4 .5-1.5 .5,1.9 .5-2.2 .5,1.9 .5-1.4 .5-.9 .5,1 .5-2 .5,1.4 .5-.7 .5-.7 .5,1.5 .5-1.8 .5,1.8 .5-1.5 .5-1 .5,1.9 .5-1.7 .5,1.5 .5-1.3 .5-1.5 .5,1.1 .5-1.9 .5,1.1 .5-1.3 .7-1 .6,1 .6-1.3 .6-.1 .7,1.9 .6-.5 .5-.6 .5,1.9 .5-1.4 .5,1.9 .5-.6 .5-1 .5,2 .5-1.6 .5,1.8 .5-1.2 .7-.6 .6,2.1 .6-.8 .6,0 .7,2.7 .6,.4 .6-1.1 .7,2.2 .6-.5 .6-2.2 .7,.7 .6-1.6 .6-1.6 .6,1.4 .7-1.7 .6-.7 .6,2.2 .7-.9 .6-1.4 .6,1.4 .6-1.2 .7-.3 .6,1.6 .6-.7 .7-.1 .6,2 .6-.6 .6-.8 .7,2 .6-.6 .5-1.1 .5,2 .5-1.3 .5,1.8 .5-.1 .6-.3 .7,2.8 .6,0 .6-1.4 .7,1 .6-.9 .6-2.3 .6-.1 .7-2.6 .6-1.3 .6-.6 .7,2.7 .6,.4 .6,1.3 .7,3.5 .6,.3 .6,.7 .6,2.1 .7-.3 .6-.8 .6,1.5 .7-1.3 .6-1 .6,.9 .6-.6 .7-1.8 .6,.8 .6-1.5 .7-1.8 .6,.7 .6-1.4 .6-1.3 .7,1.3 .6-1.3 .6-.8 .7,1.6 .6-1.4 .6-.5 .6,1.6 .7-.5 .6-.5 .6,2.5 .7-.1 .6,.3 .6,2.5 .6-.9 .6-.5 .5,2.3 .5-1.8 .5,2 .5-.7 .5-.5 .5,1.5 .5-1.9 .5,1.5 .5-.6 .6-1.8 .6,1 .7-1.7 .6-1.8 .6,.6 .7-2 .6-1.1 .6,1.3 .6-.8 .7-.9 .6,1.6 .6-1.4 .7,.8 .6,3.5 .6,.2 .6-.3 .7,2.8 .6,0 .6-.6 .7,1.8 .6,0 .6-1.9 .6,1.2 .7-1.2 .6-1.9 .6,1.2 .7-1.1 .6-2 .6,1.4 .6-1.3 .7-2.1 .6,1.3 .6-1.1 .7-1.6 .6,1.5 .6-1.2 .7-1.2 .6,.6 .6,.9 .6-.7 .7,1.7 .6,1.3 .6-.8 .7,2 .5,.7 .5-.7 .5,1.6 .5-1.4 .5,1.7 .5,.4 .5-1.5 .5,1.7 .5-1.5 .5,.9 .5,.3 .5-1.7 .5,1.1 .5-1.6 .5,1.3 0,.5 .5,.5 .5-1.4 .5,1.5 .5-1.5 .5,.9 .5,.9 .5-2.4 .5,1.8 .5-1.9 .5,1 .5,1.4 .5-1.2 .5,1.8 .5-1.4 .5,.6 .6,1.1 .5-1.8 .5,2.2 .5-1.8 .5,1 .5,.2 .5-1.5 .5,1.5 .5-1.9 .5,1 .6,1.3 .6-.3 .7,2.2 .5,1.8 .5-1.4 .5,3.2 .5-.9 .5,1.1 .6,.6 .6-2.4 .7-.1 .5,.8 .5-2.5 .5,1 .5-2 .5,.8 .6-.2 .6-1.7 .7,0 .6-1.1 .6-3.5 .7-.4 .6,.9 .6-1.5 .6,1.2 .7,1 .6-2.5 .6,.2 .7,2.1 .6-1 .6,1.5 .6,.2 .7-2.7 .6,.6 .6,1.9 .7-1.4 .6,2 .6,1.8 .6-.5 .7,2.5 .6,1.4 .6,0 .7,2.3 .6,1.6 .6,.3 .7-1.6 .6,1 .6-1.3 .6-1.7 .7,1.9 .6-.8 .6-.8 .7,1.1 .6-.9 .6-1.3 .6,1.7 .7-1.1 .6-2.5 .6,.6 .7-2.5 .6-1.6 .6,.5 .6-2.6 .7-1.2 .6,.8 .6-1.5 .7-.4 .6,3.4 .6,.1 .6-.3 .7,2.4 .6-.8 .5-.1 .5,1.5 .5-1.5 .5,2 .5-1.3 .5-.4 .5,1.8 .5-1.6 .5,1.6 .5-1.4 .5-.4 .5,1.6 .5-1.7 .5,1.2 .6-1.3 .5-1.1 .5,1.2 .5-1.8 .5,1.3 .5-.9 .5-.8 .5,.9 .5-1.9 .5,1.7 .5-.5 .5-1.3 .5,1.5 .5-1.7 .5,1.4 .5-.5 .5-.4 .5,2.7 .5-1.8 .5,1.8 .5-.4 .5-1.4 .5,2.4 .5-2 .5,2.2 .5-.6 .5-1.1 .5,2.2 .5-1.6 .5,1.8 .5-.7 .5-.6 .6,2.2 .5-1.9 .5,1.7 .5-.8 .5-.5 .5,2.4 .5-1.7 .5,2.5 .5-.8 .5-.7 .5,2.2 .5-1.3 .5,1.8 .5-.1 .6-.6 .7,1.3 .6-1.3 .6-2.1 .6,.9 .7-2 .6-1.6 .6,1.1 .7-2 .6-.2 .6,2 .6-.5 .7-2.3 .6,.4 .6-1.9 .5-1.7 .4,.5 .5,3.1 .5,1.9 .6-.6 .7,2.3 .6,.2 .6-.1 .7,2.2 .6-.2 .6-1.1 .6,1.7 .7,0 .6-2.4 .6,.8 .7-1.6 .6-1.4 .6,1.6 .6-1.4 .7,0 .6,1.8 .6,.1 .7-.4 .6,2.3 .6,1.3 .6-1.3 .7,1.2 .6,.2 .6-2.7 .7,0 .6,1.5 .6-1.7 .7,.8 .6,1.7 .6-1.5 .6,1.1 .7,1 .6-1.8 .6,.8 .7-.4 .6-2.1 .6-.7 .6,.5 .7-2.4 .6-.6 .6,1.2 .7-1.9 .6,.1 .5,1.2 .5-2.4 .5,1.4 .5-1.9 .5,1.1 .5,.8 .5-1 .5,2.2 .5-1.9 .5,1.8 .5,.4 .5-1.3 .5,2.5 .5-1.4 .5,1 .7,.5 .6-1.5 .6,.4 .6,1.9 .7-1.1 .6,1.7 .6,1.7 .7-1.1 .6,2.5 .6,1.1 .7-.9 .6,1.1 .5,1.1 .5-1.7 .5,1.8 .5-1.2 .5,.6 .6,.4 .7-2.3 .6,0 .6,.5 .6-2.2 .7-.1 .6,.2 .6-1.8 .7,.3 .6,.3 .6-2 .6,.4 .5,.5 .5-1.7 .6,1.6 .5-2.3 .5,1.3 .5,1.2 .5-1.3 .5,1.7 .5-1.4 .5,1.1 .5,1.4 .5-1.1 .5,1.7 .5-1.3 .5,.5 .5,1.4 .5-1.3 .5,1.6 .5-1.7 .5,1.3 .5,.1 .5-1.9 .5,2.1 .5-1.8 .5,.9 .5,1.5 .5-2.2 .5,1.4 .5-1.8 .5,.4 .5,1.2 .5-1.7 .5,2 .6-1.9 .5,1.1 .5,1.1 .5-1.5 .5,1.8 .5-2.2 .5,.8 .5,.7 .5-1.6 .5,1.8 .5-2 .5,1.3 .5,.4 .5-1.3 .5,2 .5-2.1 .5,1 .5,.7 .5-2 .5,2 .5-1.2 .5,.9 .5,.9 .5-1.7 .5,1.5 .5-1.9 .5,.8 .5,.6 .5-1.7 .5,2.1 .5-1.8 .5,1.2 .6,.9 .5-2.1 .5,1.9 .5-1.8 .5,.5 .5,1 .5-2.3 .5,1.7 .5-2.2 .5,1.1 .5,.8 .5-1.7 .5,2.5 .5-2 .5,1.1 .5,.6 .5-1.6 .5,1.6 .5-1.4 .5,1.4 .5,.4 .5-1.3 .5,2 .5-1.1 .5,1.2 .7,1.3 .6-1.6 .6,1.6 .6,.6 .7-1.6 .6,1 .3-.6 .5,1.2 .6-1.3 .5,1.4 .6-1.4 .5,1.2 .5-1.7 .6,1.2 .5,.7 .6-1.5 .5,1.7 .5-1.8 .6,1.6 .5-1.5 .5,.2 .6,1.1 .5-1.8 .6,1.6 .5-1.7 .5,1.3 .6-1.7 .5,1.2 .6,.6 .5-1 .5,1.9 .6-1.8 .5,1.7 .6-1.7 .5,.9 .5,.7 .6-1.2 .5,1.2 .6-1.5 .5,1.8 .5-1.7 .6,1.3 .5,.1 .5-1.3 .6,1.7 .5-1.4 .6,1.1 .5-1.2 .5,1 .6,.2 .5-1.6 .6,1.4 .5-1 .5,1.5 .6-1.5 .5,.4 .6,1.3 .5-1.7 .5,1.7 .6-1.3 .5,1 .6-1 .5,.6 .5,.5 .6-1.3 .5,1.9 .5-1.4 .6,1.5 .5-1.4 .6,.9 .5,1 .5-2 .6,1.8 .5-2.1 .6,1.4 .5-1.7 .5,.9 .6,.5 .5-1.3 .6,1.7 .5-1.2 .5,1.8 .6-1.7 .5,.9 .6,.7 .5-1 .5,1.6 .6-1.2 .5,1.5 .5-1.8 .6,.8 .5,.8 .6-1.9 .5,1.5 .6-1.5 .6,1.1"/>
</g>
<rect class="sp" x="132.95" y="311.2" width="1435.10" height="258.4"/>
<line class="tk" x1="132.9" y1="569.6" x2="132.9" y2="573.6"/>
<line class="tk" x1="298.2" y1="569.6" x2="298.2" y2="573.6"/>
<line class="tk" x1="463.5" y1="569.6" x2="463.5" y2="573.6"/>
<line class="tk" x1="628.7" y1="569.6" x2="628.7" y2="573.6"/>
<line class="tk" x1="794.0" y1="569.6" x2="794.0" y2="573.6"/>
<line class="tk" x1="959.3" y1="569.6" x2="959.3" y2="573.6"/>
<line class="tk" x1="1124.5" y1="569.6" x2="1124.5" y2="573.6"/>
<line class="tk" x1="1289.8" y1="569.6" x2="1289.8" y2="573.6"/>
<line class="tk" x1="1455.0" y1="569.6" x2="1455.0" y2="573.6"/>
<line class="tk" x1="128.95" y1="311.2" x2="132.95" y2="311.2"/>
<text class="t" style="font-size:30.7px" text-anchor="end" transform="translate(122.6,322.7) scale(1,1.0)">10.0</text>
<line class="tk" x1="128.95" y1="343.5" x2="132.95" y2="343.5"/>
<text class="t" style="font-size:30.7px" text-anchor="end" transform="translate(122.6,353.7) scale(1,1.0)">7.5</text>
<line class="tk" x1="128.95" y1="375.8" x2="132.95" y2="375.8"/>
<text class="t" style="font-size:30.7px" text-anchor="end" transform="translate(122.6,386.0) scale(1,1.0)">5.0</text>
<line class="tk" x1="128.95" y1="408.1" x2="132.95" y2="408.1"/>
<text class="t" style="font-size:30.7px" text-anchor="end" transform="translate(122.6,418.3) scale(1,1.0)">2.5</text>
<line class="tk" x1="128.95" y1="440.4" x2="132.95" y2="440.4"/>
<text class="t" style="font-size:30.7px" text-anchor="end" transform="translate(122.6,450.6) scale(1,1.0)">0.0</text>
<line class="tk" x1="128.95" y1="472.7" x2="132.95" y2="472.7"/>
<text class="t" style="font-size:30.7px" text-anchor="end" transform="translate(122.6,482.9) scale(1,1.0)">−2.5</text>
<line class="tk" x1="128.95" y1="505.0" x2="132.95" y2="505.0"/>
<text class="t" style="font-size:30.7px" text-anchor="end" transform="translate(122.6,515.2) scale(1,1.0)">−5.0</text>
<line class="tk" x1="128.95" y1="537.3" x2="132.95" y2="537.3"/>
<text class="t" style="font-size:30.7px" text-anchor="end" transform="translate(122.6,547.5) scale(1,1.0)">−7.5</text>
<line class="tk" x1="128.95" y1="569.6" x2="132.95" y2="569.6"/>
<text class="t" style="font-size:30.7px" text-anchor="end" transform="translate(122.6,579.8) scale(1,1.0)">−10.0</text>
<text class="t" text-anchor="middle" transform="translate(56.6,433.4) rotate(-90) scale(1,1.0)">Pitch (deg)</text>
<rect x="1342.7" y="318.5" width="219.3" height="95.4" rx="5" ry="5" fill="#fff" stroke="#cccccc" stroke-width="1.3"/>
<line x1="1355.3" y1="334.1" x2="1412.9" y2="334.1" stroke="#ffa500" stroke-width="2.7"/>
<text class="t" text-anchor="start" transform="translate(1426.5,344.3) scale(1,0.95)">ECF</text>
<line x1="1355.3" y1="364.6" x2="1412.9" y2="364.6" stroke="#ff0000" stroke-width="2.7"/>
<text class="t" dx="0 0 0 0 -0.5 -3 0.4" text-anchor="start" transform="translate(1426.5,374.8) scale(1,0.95)">Raw IMU</text>
<line x1="1355.3" y1="395.0" x2="1412.9" y2="395.0" stroke="#0000ff" stroke-width="2.7"/>
<text class="t" text-anchor="start" transform="translate(1426.5,405.2) scale(1,0.95)">Proposed</text>
</g>
<g id="ax2">
<line class="g gv" x1="298.21" y1="595.7" x2="298.21" y2="854.4"/>
<line class="g gv" x1="463.47" y1="595.7" x2="463.47" y2="854.4"/>
<line class="g gv" x1="628.74" y1="595.7" x2="628.74" y2="854.4"/>
<line class="g gv" x1="794.00" y1="595.7" x2="794.00" y2="854.4"/>
<line class="g gv" x1="959.26" y1="595.7" x2="959.26" y2="854.4"/>
<line class="g gv" x1="1124.52" y1="595.7" x2="1124.52" y2="854.4"/>
<line class="g gv" x1="1289.79" y1="595.7" x2="1289.79" y2="854.4"/>
<line class="g gv" x1="1455.05" y1="595.7" x2="1455.05" y2="854.4"/>
<line class="g" x1="132.95" y1="628.0" x2="1568.05" y2="628.0"/>
<line class="g" x1="132.95" y1="660.4" x2="1568.05" y2="660.4"/>
<line class="g" x1="132.95" y1="692.7" x2="1568.05" y2="692.7"/>
<line class="g" x1="132.95" y1="725.0" x2="1568.05" y2="725.0"/>
<line class="g" x1="132.95" y1="757.4" x2="1568.05" y2="757.4"/>
<line class="g" x1="132.95" y1="789.7" x2="1568.05" y2="789.7"/>
<line class="g" x1="132.95" y1="822.1" x2="1568.05" y2="822.1"/>
<clipPath id="cp2"><rect x="132.95" y="595.7" width="1435.1" height="258.7"/></clipPath>
<g clip-path="url(#cp2)">
<path class="c" stroke="#ff0000" d="M133.1,725l1-.9 .9,1 1-1 .9,1.5 1-1 .9,.8 .9-.8 1,1 .9-1.3 1,.7 .9,.6 .9-1.2 .9,1.2 .9-1.2 .9,1 .9-1.1 .9,1.3 .9-1.2 .9,1.3 .9-1 .9,1.2 .9-1.2 .9,1.2 .9-.6 .9-.5 .9,1.2 .9-1.1 .9,1.4 .8-1.2 .9,1 .9-1.2 .9,1.2 .9-1.1 .9,1.2 .9-1.1 .9,1.2 .9-1.3 .9,1 .9,.8 .9-1.4 .9,.9 .9-1.1 .9,.9 .9-1 .9,.7 .9-1.2 .9,1 .9-1.4 .9,1.1 .9-1.2 .9,1.1 .9-.5 .9-.5 .9,1.4 .9-1 .9,1 .9-.6 .9,1.6 .9-.6 .9-.4 .9,.8 .9-.9 .9,1.5 .9-1.2 .9,1.8 .9-1 .9-.3 .9,1.3 .9-1.4 .9,1.3 .9-1.1 .9,1.3 .9-.5 .9-.3 .9,1.3 .9-1.4 .9,1.2 .9-1.6 .9,1.6 .9-.8 .9-.6 .9,1.2 .9-1.5 .9,1 .9-1.2 .9,1 .9-1.1 .9-.4 .9,1.1 .9-1.6 .9,1 .9-1.1 .9,1 .9-.7 .8-.3 .9,.6 .9-1.2 .9,1.1 .9-1.2 .9,1.3 .9-1 .9,.8 .9-1.5 .9,1.1 .9-1.5 .9,1.4 .9-1.4 .9,.6 .9-.1 .9-1.7 .9,.3 .9-1.6 .9,.7 .9-2.1 .9,.1 .9,.6 .9-1.1 .9,1.5 .9-.8 .9,1.7 .9-.9 .9,.9 .9,1.3 .9-.4 .9,2 .9-.6 .9,2.2 .9-.5 .9,1 .9,.2 .9-1 .9,1.1 .9-1.6 .9,1.3 .9-1.4 .9,.1 .9,1.2 .9-.9 .9,1.2 .9-1.3 .9,1 .9-1.1 .9,1.2 .9,.7 .9-1.3 .9,1.5 .9-.8 .9,1.7 .9-1.4 .9,.9 .9,.4 .9-1.4 .9,1 .9-1.4 .9,1.4 .9-1.3 .9,.6 .9,.9 .9-1.4 .8,1 .9-1.7 .9,.7 .9-1.3 .9,.6 .9,.9 .9-.9 .9,1.5 .9-1.1 .9,1.7 .9-.7 .9,.5 .9,.7 .8-1.3 .8,.9 .9-1.2 .8,1.2 .9-1 .8-1.2 .8,.4 .9-1.1 .8-1.3 .9,.8 .8-1.3 .8-.5 .9,1.6 .8-.5 1-.8 .9,.7 .9-1.3 1,.8 .8-.3 .9-1.5 .8-.1 .8,.5 .9-1.4 .8,.9 .9,.7 .8-.6 .8,1.1 .9,1.1 .8-.4 .8,1.2 .9,1.2 .8-.1 .9,.8 .8,1.2 .8-1.1 .9,1.2 .9,.6 1-1.3 .9,1.1 1-.4 .8-1.4 .8,.6 .9-1.8 .8-1 .8,.5 .9-1.3 .8-.9 .9,1.1 .8-.2 0,.3 .5-1 .5,1.7 .5-1.1 .5,1.6 .5-.5 .5-.4 .5,.9 .5-1.4 .5,1.6 .5-.7 .5-.9 .5,1.6 .5-1.1 .5,2.3 .5-.7 .6,0 .5,1.8 .5-1.2 .5,1.9 .5-.6 .5,.1 .5,1.8 .5-1.7 .5,1.7 .5-.6 .5-.7 .5,1.7 .5-1.4 .5,1.2 .5-.2 .5,0 .5,2 .5-1.4 .5,1.5 .5-.2 .5-1.4 .5,.8 .5-2.3 .5,.5 .5-.8 .5-1.4 .5,1.3 .5-1.3 .5,1 .5-.8 .5-1.1 .5,1.2 .6-1.4 .5,.9 .5-1.5 .5-.8 .5,.9 .5-2 .5,.8 .5-.8 .5-.7 .5,.9 .5-1.2 .5,1.2 .5-.8 .5-.4 .5,1.6 .5-1.8 .5,1.4 .5-.8 .5-.6 .5,1.5 .5-1.2 .5,1.7 .5-.8 .5-.4 .5,1.4 .5-1.6 .5,2.1 .5-.2 .5-.5 .5,1.7 .5-1.2 .5,1.4 .6-.2 .5-.6 .5,1.9 .5-1 .5,1.5 .5,.1 .5-.8 .5,1.9 .5-.8 .5,1.6 .5,0 .6-.5 .6,2.4 .7,0 .6-2.3 .6,1 .7-1.9 .5-1.4 .5,1.6 .5-2.1 .5,.9 .5-.9 .5-.9 .5,.8 .5-1.8 .5,1.2 .5-1.1 .6-1.6 .6,1 .7-1.3 .6-1.1 .6,1.3 .7-1.5 .6-.1 .6,2.1 .6-.7 .7-.1 .6,1.3 .6,0 .7,.1 .6,2.2 .6-.4 .7,.3 .6,2.3 .6-.7 .5-.5 .5,1.5 .5-.8 .5,1.8 .5-.1 .5-1.3 .5,1.2 .5-2 .5,.7 .5-1.1 .5-1.5 .5,1.1 .5-1.8 .6,.8 .5-1.1 .5-1.1 .5,1.4 .5-1.5 .5,.5 .5-1.2 .6-1.4 .6,.6 .7-.5 .6-1.6 .6,.4 .6,1 .7-1 .6,1.8 .6,1.5 .7-.4 .6,2.1 .6,1.4 .6-.6 .7,1.7 .6,1.5 .6-1.2 .7,1 .6,.1 .6-2.2 .7-.5 .5,1 .5-1.8 .5,1.4 .5-1.5 .5,.3 .5,.5 .5-1.9 .5,1.2 .5-1.6 .5,.6 .6,.4 .6-2.3 .7,.6 .6,.9 .6-.9 .7,1.3 .5,.7 .5-1.1 .5,1.6 .5-1.6 .5,1.6 .5,.2 .5-1.7 .5,1.5 .5-1.8 .5,1.2 .6,.5 .6-1.6 .7,.5 .6,1.1 .6-.3 .7,1.7 .5,.2 .5-.9 .5,1.4 .5-1.3 .5,1.2 .5,.8 .5-1.6 .5,1.6 .5-1.8 .5,1 .5,1 .5-1.6 .5,1.6 .5-1.5 .5,.5 .5,.7 .5-1.4 .5,1.3 .5-1.4 .5,.2 .5,.9 .5-1.9 .5,2 .5-1.4 .5,.4 .5,1 .5-1.8 .5,.9 .6-1.3 .5,.5 .5,1 .5-1.4 .5,2 .5-1.4 .5,1.1 .5,.8 .5-1.4 .5,1.3 .5-1.5 .5,.8 .5,.4 .5-1.7 .5,1.6 .5-1.2 .5,.3 .5,1.2 .5-1.4 .5,1.5 .5-1.3 .5,.6 .5,.8 .5-1.4 .5,1.5 .5-1.2 .5,1.6 .5,.5 .5-1 .5,1.4 .5-1.1 .5,.8 .6,1 .5-1.5 .5,1.9 .5-1.8 .5,1 .5,.6 .5-2 .5,1.4 .5-1.4 .5,.2 .5,1 .5-2 .5,1.5 .5-2 .5,.8 .5,.1 .5-1.7 .5,1.4 .5-1.9 .5,.2 .5,.2 .5-1.6 .5,1 .5-1.7 .5,.3 .5,.6 .5-1.4 .5,1.2 .5-2 .5,.9 .7,1.1 .6-1.3 .6,1.5 .7,1.1 .6-.9 .6,1 .6,1.3 .7-1.1 .6,1.7 .5,.5 .6-2.6 .5,1.6 .5-2.5 .5,1.9 .5-.5 .6-2.8 .6,.9 .5-3.3 .6-.5 .5,3.4 .5,0 .5,3.6 .6,.5 .5-2.2 .6,2.6 .5-2.3 .6,1.3 .5-2.3 .6,1.8 .5-.7 .6-6.2 .5-2.8 .6-5.5 .5,3.1 .5,6.6 .5,3.5 .5-1.3 .6,2.5 .5-1.8 .6,2.2 .6-1.9 .5,2.3 .6-1.5 .5,2.6 .6-1.8 .6-.8 .5,1.7 .6-2 .5,1.8 .6-2.2 .6,1.9 .5-2.4 .6,1.9 .5-1.2 .6-1.8 .6,2 .5-1.9 .6,2.7 .5-2.4 .6,2.4 .5-1.7 .6,1.6 .6-.9 .5-3.6 .6,.5 .5-1.9 .4-4.8 .5-2.1 .5,4.3 .5,2.6 .5-.1 .5,3.3 .5,.6 .6-.7 .7,3.7 .6-.5 .6-1.1 .6,2 .7-2.2 .5-1.2 .5,1 .5-3.2 .5,1.5 .5-1.8 .5-.1 .5,1.7 .5-1.8 .5,2.2 .5-1.4 .7-1.9 .5-.8 .5,1 .6-1.6 .5,1.1 .5-1.9 .5,1 .5,.1 .5-2.5 .5,1.6 .5-1.9 .6,.1 .5,.8 .5-2.8 .5,1.5 .5-2.9 .5,.3 .5,.3 .5-1.7 .5,1.8 .5-2.2 .5,1.2 .5,.8 .6-2.1 .5,1.7 .5-1.5 .6,1.9 .5-2.3 .6,1.5 .5,1.1 .5-1.5 .6,2.2 .5-1.4 .6,1.6 .5-1.4 .5,.6 .6,1 .5-2.2 .5,2.2 .6-1.8 .5,1.7 .6-1.8 .5,.9 .5,.8 .6-1.3 .5,2 .6-1.8 .5,1.8 .5-1.5 .6,1.3 .5,.5 .6-1 .5,1.9 .5-1.7 .6,2.1 .5-2 .6,.8 .5,1.2 .5-2.2 .6,2.3 .5-2 .5,1.8 .6-1.6 .5,1.1 .5,1.1 .5-1.4 .5,1 .7-22 .5-37.8 1-37.7 .7-12.4 .8-12.8 .9-3.2 .9-2.8 .9-3.5 .9-3.1 .9,.3 .9-.5 .9,.4 .9-.4 .8,.5 .9-.5 .9,.5 .9-.6 .9,.5 .8-.4 .9,.3 .9-.3 .9,.5 .9-.3 .8,.2 .9-.4 .9,.5 .9-.4 .9,.4 .8-.3 1.2,13.8 .9,15.8 .8,16.2 .7,6.5 .7,6.1 1.3,15.1 1.2,14.6 1.3,18.9 1.2,18.8 .8,5.7 .5-.6 .5,1.5 .5-1.6 .5,1.2 .5-1.1 .6-.3 .5,1.3 .6-1.6 .6,1.1 .5-1.8 .6,.9 .5-1.1 .6,1.2 .6-.4 .5-1.1 .6,1.5 .6-1.4 .5,1.7 .6-1.8 .6,1.8 .6-1.8 .5,1.4 .6-1.5 .6,1.3 .5-.7 .6-.9 .6,1.2 .6-1.4 .5,1 .6-1.7 .6,1.4 .5-1.3 .6,1.8 .6-1.7 .6,1.4 .5-1 .6-.5 .6,1.2 .5-1.7 .6,1.2 .6-1.2 .6,1.2 .5-1.4 .6,1.5 .6-1.6 .5,1.6 .6-1 .6-.5 .5,1.3 .5-.8 .6,1.3 .5-1.3 .6,1.4 .5-.7 .6-1.1 .5,1.5 .6-1 .5,1.3 .6-1.7 .5,1 .6-1.4 .6,1.3 .5-1.2 .6-1.1 .5,1.1 .6-1.5 .6,1.3 .5-1.8 .6,.9 .5-1.7 .6,.9 .6-.6 .5-1.4 .6,1.4 .5-1.5 .6,1.7 .5-1.2 .6,1.2 .6-1.3 .5,1.3 .6-.9 .5-.9 .6,1.9 .6-1.3 .5,1.1 .6-1.8 .5,1.1 .6-1.7 .6,1.7 .5-.7 .6-.6 .5,1.8 .6-1 .6,1.5 .5-1.5 .6,1.8 .5-1.7 .6,1.6 .5-.6 .6,1.7 .6,3.4 .6,.1 .6,3.1 .5,1.1 .6-1.5 .6,.1 .5-2.2 .6,.7 .6-2.7 .5,0 .5-.6 .5-2.8 .5,.4 .6-2.7 .5-.6 .5,.9 .5-1.7 .6,.9 .5-1.7 .5,1.4 .6-1.7 .5,.6 .6,.8 .5-2.2 .5,1.5 .6-2 .5,1.3 .6-1.4 .5,.7 .5,.1 .5-1.6 .5,.6 .5-1.8 .5,.2 .5-.1 .5-2.6 .5,.4 .5-2.9 .5-.4 .7,1.4 .6-.4 .6,.9 .6,2.9 .7,.5 .6,2.8 .6,3.5 .7,.9 .6,3.2 .6,2.7 .7,1.1 .6-3.7 .6-.8 .6-3.1 .7-1.8 .6,.8 .6-1.5 .7-1.7 .6,1.3 .6-.9 .5-.9 .5,1.3 .5-1.6 .5,1.3 .5-1.3 .5-1.1 .5,.7 .5-2.6 .5,1 .5-1.8 .5-1.3 .5,.7 .6-2.3 .5,.6 .5-1.5 .6-1.3 .6,1.4 .6-1.3 .7-.2 .6,1.9 .6-.5 .5,.1 .5,1.3 .5-.9 .5,1.8 .5,.3 .6-.1 .5,2.1 .5-1.3 .5,2.2 .5-.4 .5-.3 .5,1.4 .5-1.8 .5,1.1 .5-1.1 .5-1.3 .5,1.2 .5-2.2 .5,.9 .5-.4 .5-1.6 .5,1.3 .5-1.9 .5,1.2 .5-.9 .5-.6 .5,1.2 .5-1.9 .5,1.1 .5-.5 .5-.7 .5,1.3 .5-1.3 .5,1.4 .5,0 .7-.6 .6,.6 0,.8 .5,1.2 .5-1.8 .5,2 .5-1.7 .5,.9 .5,.6 .5-1.5 .5,2.1 .5-1.8 .5,1.2 .5,.5 .5-1.4 .5,1.6 .5-1.6 .5,.9 .6,1.1 .5-2.1 .5,1.1 .5-1.7 .5,.4 .5,.7 .5-1.7 .5,1.6 .5-2.6 .5,.7 .5,1.1 .5-2.1 .5,1 .5-1.6 .5,.4 .5,.7 .5-2.2 .5,1.3 .5-1.4 .5,.9 .5,.5 .5-1.3 .5,1.5 .5-1.1 .5,1.1 .5,1.3 .5-1.7 .5,2.5 .5-1.9 .5,1 .5,1.2 .5-2.3 .6,1.4 .5-2.3 .5,.1 .5,.8 .5-2.1 .5,1.4 .5-2 .5,.7 .5,.9 .5-1.8 .5,1.7 .5-1.9 .5,.5 .5,1 .5-1.5 .5,1.2 .5-2.1 .5,.7 .5,1.2 .5-1.7 .5,1.4 .5-1.7 .5,1.5 .5,.8 .5-1.6 .5,2.4 .5-1 .5,.6 .5,1.3 .5-2.3 .5,1.3 .5-1.7 .6,.2 .5,.7 .5-1.7 .5,1.8 .5-1.9 .5,.4 .5,1 .5-2.2 .5,2.4 .5-1.5 .5,1 .5,.8 .5-1.2 .5,2.1 .5-1.6 .5,.5 .5,.7 .5-1.7 .5,1.3 .5-2.4 .5,.8 .5,.8 .5-1.8 .5,1 .5-2.2 .5,1 .5,.7 .5-2.3 .5,1.7 .5-2 .5,1.2 .5,.9 .6-2 .5,1.7 .5-1.9 .5,.7 .5,.9 .5-1.7 .5,1.5 .5-1.5 .5,1.4 .5,1.5 .5-1.4 .5,2.7 .5-1 .5,1.4 .6,1.2 .7-1 .6,1.7 .6,.2 .6-2.7 .7,0 .6-.8 .6-2.7 .7-.3 .6,.1 .6-2.3 .6-.3 .5,.8 .5-2.9 .5,1 .6-2.1 .5,.7 .5,.5 .5-1.1 .5,1.7 .5-1.7 .5,1.8 .6,1.5 .6-.5 .7,1.5 .6,2.7 .6-.3 .6,1.4 .7,1.6 .6-1.1 .6,1.4 .7,1 .6-1.8 .6,1.4 .6-.1 .7-2.4 .6,0 .6-1.1 .7-4.2 .6-1 .6-.9 .7-2.7 .6-.2 .6,2 .6-1.2 .7,1.1 .5,1.1 .5-1.5 .5,2.2 .5-1.7 .5,1.2 .5,.6 .5-1.4 .5,1.8 .5-1.3 .5,1.5 .6,2 .7-1.4 .6,1.3 .6,1.8 .6-1.3 .7,2 .6,2.2 .6-.7 .7,1.7 .6,0 .6-2.5 .6-.7 .7,0 .6-2.5 .6,0 .7-.1 .6-1.8 .6-.6 .6,.2 .7-3.3 .6,.6 .6,0 .7-2.1 .6,.2 .6,2 .6-.2 .7,1.4 .9,7.3 1,6.5 1.2-12.6 .7-2.8 .6,7.6 .6-6.1 .6,7.7 .7-10.2 .6,10.6 .6-10.6 .7,11.8 .5-9 .5,9.3 1.2,8.1 .9-16.6 .6,6.1 .7-4 .6,3.8 .6-6.8 .6,6.9 .7-6.6 .5-.4 .5,2.1 .5-1.4 .6,2.6 .5-1.9 .5,1.1 .5,1.5 .5-2.5 .5,2.9 .5-2 .5,1.3 .5,.7 .5-1.9 .5,2.1 .5-2.7 .5,.6 .6,2.1 .5-1 .5,2.8 .5-1.9 .5,1.7 .6-.1 .6-3.9 .7,.3 .6,1.7 .6-1.5 .6,1.7 .7-.2 .6-3.1 .6,.1 .7-.4 .6-3.4 .6,0 .6-.4 .7-4 .6-.6 .6,3.3 .7,.8 .6,3.5 .6,.2 .6-3.1 .7,.3 .6,.3 .6-1.4 .7,.5 .5,.6 .5-1.3 .5,1 .5-1.4 .5,.5 .5,.7 .5-1.6 .5,1.4 .5-1.5 .5,.3 .5,1.2 .5-1.5 .5,1.3 .5-1.6 .5,.6 .5,.6 .5-1.7 .5,1.1 .5-1.6 .5,1 .5,.4 .5-1.2 .5,1.2 .5-1.7 .5,.7 .5,.4 .5-1.1 .5,1.2 .6-1.7 .5,.6 .5,.4 .5-1.4 .5,.9 .5-1.3 .5,.7 .5,.2 .5-1.6 .5,1.8 .5-1.9 .5,.9 .5,.7 .5-1.8 .5,1.6 .5-1.5 .5,.4 .5,.6 .5-1.3 .5,1 .5-1.3 .5,.3 .5,.8 .5-1.3 .5,.8 .5-1.1 .5,.2 .5,1 .5-1.8 .5,1.5 .5-1.6 .5,.3 .6,.5 .5-1.4 .5,1.1 .5-1.4 .5,1.2 .5,.6 .5-1.2 .5,1.8 .5-.8 .5,.8 .5,1 .5-.7 .5,1.4 .5-1.1 .5,.7 .5,.6 .5-1.7 .5,1.1 .5-1.4 .5,.8 .5,.2 .5-1.4 .5,1.9 .5-1.6 .5,.2 .6,1.1 .5-1.6 .5,1.8 .6-1.5 .5,1 .6-1.3 .5,.5 0-.5 .5,.7 .5-2.5 .5,1.6 .5-1.8 .5,.8 .5,1 .5-1.8 .5,1.6 .5-1.7 .5,.3 .7,1.8 .6-1.7 .6,1.7 .6,1.3 .7-1 .6,1.6 .5,1.4 .5-1.8 .5,1.5 .5-2.5 .5,1.4 .5,1.7 .5-1.3 .5,2.6 .5-1.5 .5,1 .5,1.6 .5-1.9 .5,1.7 .5-2.5 .6,1.1 .6-.5 .6-3.7 .6,.5 .7-.8 .6-2.8 .6-.2 .7,.2 .6-2.4 .6,.3 .6,.1 .7-2 .6,1.3 .6,.5 .7-2.3 .6,1.2 .6-.2 .6-2.5 .7,.8 .6,.3 .6-1.3 .7,1.6 .6,1.7 .6-.5 .6,1.9 .7,2.2 .6-.9 .6,1.3 .7,2.1 .6-1 .6,1.4 .6,2.1 .7-1.7 .6,2.1 .6,1.1 .7-.2 .6,1.6 .6-.2 .7-2.8 .6-.8 .6-1.1 .6-3.5 .7-.4 .6-.1 .6-3 .7,.6 .6-.1 .6-2 .6,1.5 .7,1 .6-.9 .6,1.7 .7,2 .6-1.3 .6,2.5 .6,0 .7-2.3 .6,.4 .6,2.2 .7-.4 .6,2 .6,2.8 .6-.3 .7,2.5 .6,2.3 .6,.2 .7-2.1 .6,.2 .6-3.1 .6-1.6 .7,1.2 .6-2.1 .6-2.5 .7,.4 .6-1.7 .6-2.1 .7,1.1 .6-1.5 .6-1.3 .6,.9 .7-1.5 .6,1.5 .6,4.1 .7,1.3 .6-.1 .6,2 .6,.6 .7-.5 .6,3.3 .6-.9 .7-.7 .6,2.5 .6-1.2 .6-2.3 .7-.4 .6-2.3 .6-2.9 .7-.3 .6-3.1 .6-1.1 .6,1.8 .7-1.9 .6-2.9 .6,0 .7-2.2 .6,1.5 .6,3.6 .6,.2 .7-2.6 .6-.1 .6,1.5 .7-2.6 .6,.4 .6,1.4 .7-1.4 .6,1.3 .6,1.3 .6-.7 .7,1.3 .5,1.4 .5-1.6 .5,2 .5-1.8 .5,1.2 .5,.9 .5-1.2 .5,2 .5-1.8 .5,.8 .5,.9 .5-2.2 .5,1.4 .5-2.1 .5,.7 .5,.5 .5-1.8 .5,1.3 .5-2.1 .5,.8 .5,.5 .5-2.1 .5,1.7 .5-2.1 .5,.2 .5,.5 .6-2.7 .5,1.5 .5-2.2 .5,.3 .5,1.1 .5-2.3 .5,1.4 .5-1.5 .5,.7 .5,.8 .5-2.1 .5,1.4 .5-1.7 .5,1 .5,1 .5-1.1 .5,1.8 .5-1.9 .5,.8 .5,1.3 .5-1.5 .5,1.8 .5-1.6 .5,1.3 .5,.9 .5-1.3 .5,2 .5-1.6 .5,1.2 .5,.7 .5-1.4 .5,2.2 .6-2 .5,1.2 .6,.4 .6-2.1 .6,.4 .7-.2 .6-2.8 .6,.5 .5,.5 .5-2.2 .5,.6 .5-2.9 .5,.8 .5,.5 .6-2.4 .5,2 .5-2.4 .5,1.1 .5,.6 .5-2.5 .5,1.8 .5-1.8 .5,1.2 .5,1.2 .5-1.8 .5,1.6 .5-1.7 .5,1.4 .5,1.3 .5-1.6 .5,2.4 .5-1.1 .5,.9 .5,1.4 .5-1.9 .5,2.7 .5-2.3 .5,1.9 .7,1.1 .6-2.1 .6,1.7 .6,.6 .7-2.4 .6,.5 .6-.3 .7-2.9 .6,.7 .6-.4 .6-3 .7,.3 .6,.9 .6-2.8 .7,.6 .6,.2 .6-2.1 .6,1.3 .7,1.8 .6,.7 .6,.4 .7,3.1 .6,1.5 .6,.2 .6,3.3 .7,.3 .6-.9 .6,2.3 .7-.1 .6-.9 .6,3 .6,.4 .7-2.3 .6,1 .6-1.8 .7-3.2 .6-4.3 .6-3.3 .7-1 .6-3.4 .6-.4 .6,3 .7-.7 .6-.3 .6,2.3 .7-.1 .6-.3 .6,3 .6-.2 .7,.7 .6,2.3 .6-.5 .7,.7 .6,2.5 .6,0 .6-3 .7,1.1 .6,.1 .6-1.7 .7,1 .6,.8 .6-2.3 .6,.2 .7,.3 .6-3.7 .6-.4 .7-.5 .6-2.9 .6-.3 .6-.1 .7-2.2 .6,.4 .6,2.4 .7-1.5 .6,1.6 .6,2 .7-.7 .6,1.8 .6,1.8 .6-1.6 .7,1.7 .6,1.2 .6-1.5 .7,.9 .6,1.4 .6-2.4 .6,.4 .7,.6 .6-1.6 .6,1.6 .7,.2 .6-2.1 .6,.7 .6-1.2 .7-3.3 .6-.5 0-1.1 .6,.5 .7-2.1 .6,.3 .6-.1 .6-1.9 .7,.8 .6,1.2 .6-1.5 .7,.9 .6,1.8 .6-1.2 .6,1.3 .7,1.5 .6-1.4 .6,1.8 .5,.9 .5-1.6 .5,2.1 .5-1.9 .5,1.7 .7,.3 .6-2 .6,.5 .7,0 .6-2.4 .6,.5 .7,.2 .6-2.9 .6,.2 .6,1 .7-2.3 .6,0 .6,2.2 .7-1.4 .6,1.7 .6-.1 .6-2.6 .7,.2 .6,0 .6-3.4 .7,.9 .6,.1 .6-1.1 .6,1 .7,2 .6-1.9 .6,1.8 .7,.8 .6-2.1 .6,.7 .6,1.1 .7-1.9 .6,1.4 .6,.3 .7-2.1 .6,1.2 .6,.4 .6-1.9 .7,.8 .6,2.1 .6-1.3 .7,1.1 .6,1.7 .6-1.2 .7,2 .6-.5 .6-2.8 .6,.2 .7,.3 .6-2 .6,1.1 .7,1.6 .6-1.5 .6,1.1 .6-.8 .7-2.7 .6-.3 .6,.3 .7-2.2 .6,.1 .6,.1 .6-1.7 .7,.9 .6,1.1 .6-1.7 .7,1.3 .6,2.3 .6-1.1 .6,1.9 .7,1.8 .6-1.1 .6,1.8 .7,.4 .6-1.7 .6,1.3 .6,.5 .7-2 .6,.9 .6,0 .7-1.7 .6,.4 .6,.6 .7-2.5 .6,1.3 .6,1.2 .6-1.9 .7,1.3 .6,1 .6-3 .7,.1 .6,.5 .6-2.9 .6,.6 .7,1.6 .6-1.7 .6,1.3 .7,.2 .6-3.1 .6-.2 .6-.3 .7-2.9 .6,.7 .6,1.8 .7-1.4 .6,1.4 .6-.5 .6-3.5 .7-.4 .6,1.7 .6-1.7 .7,1.3 .6,2.1 .6-1.2 .6,1 .7,1.4 .6-1.8 .6,1 .7,.8 .6-1.5 .6,1.3 .7,.6 .6-2.4 .6,.6 .6,.4 .7-1.8 .6,.1 .6,.7 .7-1.4 .6,.7 .6,.2 .6-1.9 .7,.5 .6,1.1 .6-2.1 .7,.3 .6,.6 .6-2.3 .6,.5 .7,1.3 .6-2.4 .6,.4 .7,.7 .6-2.7 .6,.8 .6,0 .7-2.8 .6,.3 .6,.1 .7-2.2 .6,.2 .6,1 .6-1.5 .7,1.7 .6,1.7 .6-1.2 .7,2.1 .6,1.2 .6-1.7 .6,1.7 .7,2.1 .6-.8 .6,2.5 .7,1.6 .6-1.4 .6,1.7 .7-.2 .6-2.8 .6,1.1 .6-.2 .7-2.5 .6,.8 .6,.1 .7-2.5 .6,1.1 .6,.1 .6-2.6 .7,0 .6-1 .6-2.9 .7,.2 .6,.9 .6-.3 .6,.8 .7,3.2 .6,1 .6-1 .7,1.8 .6-1.4 .6,.1 .6,2.6 .7,.4 .6,.2 .6,4.2 .7,.7 .6,1.1 .6,3.8 .6,.7 .7-1.7 .6,.5 .6-1.9 .7-.4 .6,2.4 .6-.8 .7-4.2 .6-.9 .6-3.7 .6-1.1 .7,1.3 .6-1.4 .6,.9 .7,4 .6,.1 .6,2.8 .6,4.8 .7,4 .6,2.2 .5,.6 .5,2.6 .5-.8 .5-4.2 .5-.7 .6-2.1 .7-4.4 .6-2.3 .6-1.1 .7-3.9 .6-1.4 .6,1.8 .6-1.7 .7-.7 .6,2.4 .6-1 .7-.8 .6,2.6 .6-1.2 .6-1.1 .7,1.4 .6-1.6 .6-.2 .7,1.5 .6,3.4 .6,1.6 .7,2.4 .6,3.9 .6,1.7 .6-1.7 .7,1.3 .6-1.6 .6-4.7 .7-2.6 .6,.8 .6-3.2 .6-1.3 .7,.7 .6-2 .6-.3 .7,2.2 .6-.6 .6-.5 .6,2.7 .7-.9 .6-1.7 .6,.1 .7-2.2 .6-.4 .6,2.5 .6-.9 .7,1.4 .6,4.4 .6,1.8 .7,.8 .6,4.3 .6,1.2 .6,.4 .7,2.1 .6-.4 .6-3.6 .7,.2 .6-2.1 .6-4.5 .7-2.2 .6-1 .6-3.5 .6-1.8 .7,.2 .6-2.6 .6-.1 .7,1.7 .6-1.5 .6,.4 .6,1.4 .7-2.1 .6,1.4 .6,2.7 .7-.5 .6,1.5 .5,3 .5-.9 .5,3.7 .5,.4 .5,2.6 0,1.2 .6,2.7 .7,.4 .6,3.2 .6,2.2 .6-.1 .7,2.3 .6-1.1 .6-2.7 .7-.6 .6-.7 .6-3.1 .6-1.2 .7-.3 .6-2.9 .6-.6 .7,0 .6-2.6 .6,.1 .6,.2 .7-1.3 .6,.5 .6,1.3 .7-.9 .6,1.5 .6-.8 .7-3.1 .6-1.2 .6-.1 .6-2.3 .7-.1 .6,2.5 .6-.2 .7,1.5 .6,4.4 .6,1.9 .6,3.8 .9,.2 .9-.6 .9,.7 .9-.8 .9,.7 .9-.8 .9,.8 .9-.5 .9,.6 .9-1 .9,.8 .9-.8 .9,.8 .9-.5 .9,.5 .9-.5 .9,.5 .9-.5 1,.4 .9-.9 .9,.8 .9-.7 .9,1 .9-.7 .9,.6 .9-.9 .9,.6 .9-.5 .9,.7 .9-.6 .9,.7 .9-.6 .9,.7 .9-.9 .9,.7 .9-.6 .9,.6 .9-.6 .9,.6 .9-.8 .9,.8 .9-.8 .9,.5 .9-.8 .9,.8 .9-.6 .9,.8 .9-.9 .9,.8 .9-.5 .9,.5 .9-.6 .9,.4 .9-.6 .9,.8 .9-.8 .9,.6 .9-.7 .9,.6 .9-.6 .9,.7 .9-.5 .9,.6 .9-.9 .9,.7 .9-.5 .9,.5 .9-.7 .9,.8 .9-.6 .9,.6 .9-.7 .9,.7 .9-.8 .9,.8 .9-.8 .9,.8 .9-.9 .9,.7 .9-.7 .9,.6 .9-.4 .9,.7 .9-.9 .9,.8 .9-.8 .9,.4 .9-.6 .9,1.1 .9-.9 .9,.6 .9-.6 .9,.6 .9-.6 .9,.6 .9-.9 .9,.8 .9-.6 .9,.7 .9-.8 .9,.8 .9-.9 .9,.8 .9-.6 .9,.5 .9-.7 .9,.9 .9-.9 .9,.7 .9-.5 .9,.6 .9-1 .9,.8 .9-.6 .9,.8 .9-.7 .9,.8 .9-.8 .9,.8 .9-.9 .9,.4 .9-.4 .9,.7 .9-.7 .9,.7 .9-.8 .9,.8 .9-.8 .9,.5 .9-.7 .9,.7 .9-.6 .9,.7 .9-.7 .9,.7 .9-.5 .9,.5 .9-1 .9,.8 .9-.4 .9,.6 .9-.8 .9,.6 .9-.6 .9,.6 .9-.5 .9,.7 .9-.6 .9,.6 .9-.6 .9,.6 .9-.9 .9,.7 .9-.9 .9,.7 .9-.5 .9,.6 .9-.6 .9,.7 .9-1 .9,.7 .9-.5 .9,.8 .9-.7 .9,.5 .9-.6 .9,.9 .9-.6 .9,.5 .9-.7 .9,.7 .9-.7 .9,.6 .9-.7 .9,.6 .9-.5 .9,.6 .9-.7 .9,.8 .9-.9 .9,.6 .9-.5 .9,.6 .9-.9 .9,.9 .9-.7 .9,.7 .9-.7 .9,.6 .9-.6 .9,.5 .9-.9 .9,.7 .9-.7 .9,.9 .9-.8 .9,.7 .9-.7 .9,.7 .9-.7 .9,.8 .9-.7 .9,.4 .9-.7 .9,1 .9-.8 .9,.9 .9-1 .9,.7 .9-.8 .9,.8 .9-.7 .9,.9 .9-.7 .9,.5 .9-.8 .9,.9 .9-.7 .9,.7 .9-.7 .9,.6 .9-.7 .9,.9 .9-1 .9,.7 .9-.7 .9,.7 .9-.9 .9,.8 .9-.6 .9,.7 .9-.6 .9,.7 .9-.9 1,.6 .9-.6 .9,.8 .9-.9 .9,.7 .9-.9 .9,.8 .9-.3 .8-.4 .9,.5 .9-.9 .8,.7 .9-.7 .9,.7 .8-1 .9,.8 .9-.7"/>
<path class="c" stroke="#ffa500" d="M133.1,724.1l.6-1.3 .5,2.4 .6-2 .5,2.1 .6-2.8 .5,2.8 .6-2.7 .5,.9 .6,1.7 .6-2.7 .5,2.3 .6-1.5 .5,1.7 .6-1.8 .6,2 .5-2.5 .6,.8 .5,1.3 .5-3.7 .6,1.6 .5-2.6 .5,1.2 .5-1 .7-1 .6,3.2 .6,.3 .5-1.7 .6,2 .5-2.7 .6,2.7 .5-2.9 .5,2.2 .6-1.5 .5-.1 .6,2.3 .5-2.1 .5,1.7 .6-1.5 .5,2.6 .6-1 .5-.8 .6,2.1 .5-2.8 .6,2.3 .6-2 .5,2 .6-2 .5,2.4 .6-1.2 .5-1.7 .5,1.5 .6-2.9 .5,2.1 .5-2.4 .5,.9 .6,1.1 .5-2.3 .5,3 .5-2.6 .6,2.1 .5-1.3 .5-1.1 .6,1.7 .5-2.7 .5,1.9 .6-2.6 .5,2.4 .6-1.5 .5-1.6 .5,2.8 .6-2.3 .5,2.5 .5-2.4 .6,1.5 .5-1.1 .6-1.7 .5,2.1 .5-1.6 .6,2.5 .5-2.4 .6,3.1 .5-1.4 .5-.5 .6,2.1 .5-2.8 .6,2.4 .5-2.7 .5,2.2 .6-.7 .5-.8 .5,2.8 .5-1.9 .5,3.1 .5-1.3 .5-.2 .5,2.5 .5-2.2 .5,3 .5-.6 .5-.5 .6,2.8 .5-2 .5,3 .5-2 .5,1.9 .6,.4 .5-1.8 .5,1.5 .5-2.5 .6,2.1 .5-1.6 .5-.7 .6,1.8 .5-2.9 .5,1.7 .6-2.9 .5,2 .6-.9 .5-.7 .5,2.1 .6-2.6 .5,1.7 .6-1.5 .5,1.9 .5-1.5 .6-.4 .5,2.4 .6-2.2 .5,2.6 .5-2.1 .6,2.2 .5-1.3 .6-1 .5,2.3 .5-2 .6,2 .5-1.6 .5,2.6 .6-1 .5-1.2 .6,2.3 .5-2.3 .5,2.3 .6-1.9 .5,2.4 .6-1 .5-1.4 .5,1.2 .6-2 .5,1.9 .6-3 .5,2.3 .5-.9 .6-1.3 .5,1.8 .6-2.6 .5,1.4 .5-2.3 .6,1.6 .5-1.7 .5-1.2 .5,2.1 .5-1.7 .5,3.1 .5-1.1 .5-.4 .5,3 .5-2.3 .5,2.8 .5-1.2 .5-1.3 .5,.8 .5-2.6 .6,1.5 .5-2.8 .5-.2 .5,2.1 .5-1.9 .5,2.1 .5-1.4 .5-1.3 .5,1.4 .5-2.8 .5,1.7 .5-1.6 .6-1 .6,1.5 .7-2.3 .6-.5 .6,3.3 .7-1 .5-1.4 .5,1.9 .5-2.5 .5,2.4 .5-1 .5-.7 .5,2.6 .5-1.2 .5,2.5 .5-.7 .5-.2 .5,2.2 .5-1.6 .5,2.8 .5-1.3 .5-.6 .6,2.5 .5-2.2 .5,2 .5-1.5 .6,1.7 .6,1.5 .6-1.1 .6,1.5 .5,1.2 .5-2.5 .5,1.1 .6-2.5 .5,.8 .6,1.6 .6-.6 .6,2.1 .7,.7 .6-3.4 .6,.2 .5,1.1 .5-2.6 .5,1.7 .5-3.1 .5,.4 .6,1.4 .5-2.7 .6,2.6 .5-2 .5,2 .6-1.9 .5,1.2 .5,.5 .5-2.1 .5,2.4 .5-2.6 .5,1.2 .5,1.1 .5-2.8 .5,2.2 .5-2.5 .5,1.4 .6,1.3 .5-1.4 .5,3.3 .5-1.4 .5,2.6 .5,1.3 .5-.9 .5,2.4 .5-1.6 .5,1.3 .5,1 .5-3.6 .5,2.1 .5-3.3 .5,0 .6,1 .7-3 .6,.8 .6,1.6 .6-1.5 .7,2.4 .5,1.5 .5-1.4 .5,2.1 .5-1.8 .5,2.1 .5,1.6 .5-2.2 .5,2.6 .5-2 .5,1.3 .5,1.5 .5-1.3 .5,2.5 .5-1.9 .5,1.7 .6,1.2 .7-2 .6,2 .5,.6 .6-2.4 .5,2.7 .5-2.5 .5,2.2 .5-1.2 .6-1.1 .5,1.5 .6-1.7 .5,2 .5-2.5 .6,2 .5-.8 .5-1.6 .5,1.9 .5-2.4 .5,1.8 .5-2.2 .5-1.6 .5,2.3 .5-3.5 .6,2.2 .5-2 .5-1.7 .5,1.4 .5-3.1 .5,1.5 .5-1.8 .6-1.6 .6,1.4 .7-2.3 .6-.2 .6,2.8 .6-.1 .7-.4 .6,3.8 .6,.3 .7-.4 .6,3.2 .6-.2 .5-.9 .5,2.8 .5-1.7 .5,3.3 .5-.4 .5-1.5 .5,1.6 .5-2 .5,2 .5-2 .6-.4 .5,1.9 .5-2.7 .5,2.2 .5-.4 .5-1.7 .5,2.5 .5-1.6 .5,2.2 .5-.7 .5-.6 .5,2.1 .5-2.3 .5,2 .5-.6 .9-4.1 1-2.8 .9-4.3 1-5.8 .9-3.8 1-3.1 .9,.5 .9-1.1 1.3,1.2 .9,1.1 1,2.7 .9,2.4 1,1.4 .9,1.5 1,2.3 .9,3.4 .9,2.8 1,2.7 .9,3.6 1,2.1 .9,.5 1-1.4 .9,.1 1-.8 .9-3 .9-2 1-1.8 .9,.4 1-1 .9-1 1,.4 .9-1.4 .9-2.4 1-2.7 .9-2.3 1-3 .9-3.3 1-3 .9-2.7 1.3-2.5 .8,2.1 .8,1.1 .7,2.6 .8,3.7 .9,3.8 1,2.4 .9,1.8 1,3.3 .9,2.5 1,1.2 .9,.6 1,2 .9,.9 .9,.3 1-2.4 .9-1.4 1,.7 .9-1.3 1,.5 .9,1.4 .9,.6 1-.6 .9-1.4 1,.1 .9-1.7 1-3.3 .9-4.3 .9-3.2 .8-2.2 .8-3.5 .8-.5 .8,1.1 .8,3.8 .8,2.5 .8,3.3 .7,4.3 1,2.2 .9,1.5 1,.8 .9,1.8 1,1.9 .9,.6 .9,.1 1,.5 .9-1.8 1-2.6 .9-2.3 1-1.5 .9-.8 .9-2.9 1-2.5 .9-1.3 1-.6 .9-1.9 .8,1.2 .9,2.5 .7,3.7 .8,2.6 .9,2.6 .9,3.7 1,1.8 .9,.7 1-2.1 .9-.4 1,.2 .9-.8 .8-1.1 .9,1.4 .8-.9 .9-.9 .8,.8 .8-1.2 .9-.7 .8,.9 .9-.8 .8-.4 .8,1.5 .9,.1 .8-.1 .8,1.7 .9,.3 .5-1.2 .5,2.8 .5-1.5 .5,2.5 .5-.7 .5-1 .5,2.6 .5-2.1 .5,2.3 .5-.5 .5-1.3 .5,2.1 .5-2.2 .5,1.8 .5-1.1 .5-.6 .5,2.4 .5-1.9 .5,1.9 .5-1.1 .6-1.2 .5,1.9 .5-2 .5,3.1 .5-1.2 .5-1.1 .5,3 .5-1.5 .6,2 .5-1.5 .5,1 .5,1 .5-1.9 .5,1.9 .5-3 .5,.7 .5,1 .5-1.7 .5,1.9 .5-3.1 .5,.7 .6,1.2 .5-2.2 .5,1.8 .5-1.8 .6,1.7 .5-1.4 .5-.5 .6,2 .5-1.7 .5,1.8 .6-2.3 .5,1.9 .6-1.2 .5-.7 .5,2.1 .6-2.6 .5,2.2 .6-1.9 .5,2.3 .5-1.4 .5-.8 .5,2.3 .5-1.5 .5,2.6 .5-1.3 .6-.6 .5,2.1 .5-1.7 .5,1.9 .5-1.1 .5-.9 .5,1.6 .5-2.7 .5,1.7 .5-1.6 .5-.7 .5,2.2 .5-2.4 .5,1.5 .5-1.2 .6-.4 .7,2.3 .6-.7 .6-3.6 .6,.5 .7-.4 .6-3.6 .6,.2 .5,0 .5-2.6 .5,1.8 .5-2.6 .5,.9 .5,1.3 .5-1.6 .6,2.1 .5-1.8 .5,1.3 .5,1.4 .5-2.4 .5,2.9 .5-2.2 .5,1.5 .5,1.7 .5-1.9 .5,2.3 .5-2.3 .5,1.5 .5,1.5 .5-1.3 .5,2.2 .5-1.6 .5,.5 .5,1.5 .5-1.8 .5,2.3 .5-2.2 .5,1.4 .5-.2 .5-2.6 .5,2.4 .5-3 .5,.9 .7-.4 .6-4.7 .6-1.2 .7-2.5 .6-5 .6-.8 .6,2 .7,5.2 .6,2.4 1.3-.8 .6,4.5 .6-3.6 .6,3.7 .7-3.8 .6,4.2 .6-6.3 .7,5.1 .6-4.6 .6,5.9 .6-4.4 .7,4.9 .6-6.3 .6,4 .7-5.8 .6,6.7 .6-5.1 .6,5.3 .7-6.5 .6,5.1 .6-4.8 .7,6 .6-6.3 .6,3.8 1.3-8.5 .6,4.9 .6,5.1 .7-5.2 .6,6 .6-6.2 .7,5.5 .6-5.4 .6,9.3 .6-3.9 .7,3.4 .6-5.1 .6,7.1 .7-6 .6,6.8 .6-6.6 .6,6.1 .7-7.9 1.3-2 .6,6.7 .6-5.8 .9-6.5 .8-5.3 .9,9.7 .6,4.8 .6-5.2 .7,3.5 .6-3.8 .6,4.4 .6-6.4 .7,4 .6-4.6 .6,6.3 .7-6.7 .6,5 .6-4 .6,2.9 .7-3.6 .6,3 .6-3.6 .7,3.4 .6-3.3 .6,5.1 .6-3.3 .7,1.7 .6-2.2 .6,2.5 .7-3.3 .6,3.5 .6-3.5 .6,4.5 .7-3.7 .6,3.1 .6-2.2 .7,1.8 .6-1.3 .6,2.6 .6-3.1 .7,2.1 .6-1.2 .6,1.2 .6-1.4 .6,1.6 .6-2.1 .5,2.3 .6-1.9 .6,2.7 .6-2.5 .5,1.5 .6-2 .6,2.7 .6-2.1 .7,.1 .7-.2 .5-22.6 .5-37.8 1-37.7 .8-12.8 .8-12.4 .9-3 .9-3.5 1-2.5 .9-3.6 .9-.3 .9,.6 .9-.4 .9,.4 .8-.4 .9,.4 .9-.5 .9,.4 .9-.4 .8,.5 .9-.4 .9,.5 .9-.6 .9,.3 .8-.3 .9,.5 .9-.4 .9,.4 .9-.6 .8,.3 1.3,13.8 .9,16.2 1,15.8 1.2,12.6 1.3,15.1 1.3,14.6 1.2,18.9 1.3,18.8 1.2,6.3 .7-2.9 .6,3 .6-2.8 .6,3.9 .7-5.4 .6,4.5 .6-5.5 .7,6 .6-5.1 .6,3 .7-2.4 .6,3.7 .6-3.8 .6,3.4 .7-3.6 .6,3.9 .6-3.7 .7,2.5 .6-2.1 .6,2.5 .6-4.1 .7,3.1 .6-2.5 .6,4 .7-4.5 .6,2.6 .6-2.9 .6,2.1 .7-3.2 .6,3.1 .6-3.7 .7,4.3 .6-4.4 .6,4.2 .6-3.1 .7,2.1 .6-3.1 .6,3 .7-3.2 .6,3.4 .6-2.9 .6,2.8 .7-4.9 .6,5 .6-5 .7,3.4 .6-3.2 .6,2.5 .6-2.1 .7,2.7 .6-2 .6,1.7 .7-2.8 .6,2.2 .6-2.7 .7,1.5 .6-3.5 .6,3.7 .6-5 .7,4.1 .6-3.7 .6,2.6 .7-1.9 .6,2.1 .6-1.4 .6,1.8 .7-2.3 .6,2.2 .6-1.9 .7,2.4 .6-2.1 .6,1.8 .6-2.2 .7,3 .6-3 .6,2.2 .7-2.5 .6,3.3 .6-2.3 .6,1.5 .7-1.9 .6,2 .6-3.5 .7,2.8 .6-2.8 .6,4.3 .6-4.9 .6,5.2 .6-3.7 .5,3.3 1.2,9.1 .9-11.5 .7,1.4 .6-3.9 .6,2.4 .6-3.5 .7,3 .6-4.9 .6,3 .7-5.1 .6,6.4 .6-6.1 .6,5 .7-6.6 .6,4.2 .6-5 .7,7 .9-6.7 .9-5.5 1-8.8 .9,12.5 .7,2.5 .6,12.5 .6-9.5 .6,17.8 .7-17.1 .6,9.3 .6-10.3 .7,7.3 .6-7.1 .6,9.3 .6-5.8 .7,12.9 .6-7.6 .6,10.9 .7-4.5 .6,7.5 .6-3.6 .7,5.1 .6-3 .6-4.7 .6-3 .7-.3 .6-3.3 .6-.2 .7-.4 .6-2.9 .6-.4 .6-1.2 .7-3.1 .6-.8 .5-3 .6-4.8 .5-2.2 .5,3.1 .4,1.9 .6-2.3 .7-1.5 .6-.9 .6-2.8 .7-1.6 .6,.3 .6,1 .6-1.1 .7,1.4 .6,.9 .6-.5 .7,2.1 .6,2 .6-.2 .6,1.9 .7,2.5 .6-.1 .6,1.4 .7,2 .6-1.3 .6,1.8 .7-.1 .6-1.7 .6-.1 .6-.1 .7-2.8 .6-.2 .5,0 .5-1.9 .5,1 .5-1.6 .5,0 .5,.3 .5-1.9 .5,1 .5-2.2 .5,.3 .5,.7 .5-1.5 .5,1.3 .5-1.4 .5,.9 .7,1.5 .6-.9 0,.2 .6-.5 .7,2.6 .6-.2 .6-.2 .6,3.9 .7,0 .6,.1 .6,4.4 .7-.7 .6-.2 .6,.8 .6-1.2 .7-4.1 .6-.3 .6-.2 .7-2.6 .6,.3 .6,1.2 .6-2.2 .7,.3 .5,.8 .5-2 .5,1.7 .5-1.8 .5,.7 .5,.9 .5-2.4 .5,2.9 .5-2.4 .5,.4 .5,1.8 .5-1.9 .5,2.3 .5-2.4 .5,.8 .5,.7 .5-2.1 .5,2.9 .5-1.3 .5,1.1 .5,.8 .5-3.2 .6,1.5 .5-2.6 .5,1 .5,.1 .5-2.4 .5,1.7 .5-1.8 .5,1.1 .5,1 .5-2.8 .5,2.3 .5-2.6 .5,.8 .5,1 .5-1.5 .5,2.4 .5-2 .5,.8 .5,2 .5-2.4 .5,2 .5-1.6 .5,.6 .5,1.6 .5-1.7 .5,2.6 .5-1.6 .5,1.6 .5,.6 .5-2.1 .5,1.2 .5-2.2 .6,.6 .5,.9 .5-2.8 .5,1.4 .5-2.5 .5,1.1 .5,1.3 .5-1.2 .5,1.8 .5-1.8 .5,1.2 .5,.6 .5-1.2 .5,2.1 .5-1.9 .5,1.7 .5,.3 .5-2.2 .5,1.8 .5-3.2 .5,.7 .5,.6 .5-2.3 .5,1.6 .5-2.7 .5,1 .5,1 .5-2.4 .5,1.9 .5-2.3 .5,1.1 .5,.8 .6-2.5 .5,1.5 .5-2.5 .5,.2 .5,1.4 .5-2.8 .5,2.6 .5-2.4 .5,1.8 .5,1.4 .5-2.2 .5,1.7 .5-1.6 .5,1.4 .5,.4 .5-2.5 .5,2.7 .5-2.3 .5,1 .5,.9 .5-2 .5,1.6 .5-1.9 .5,.2 .7,1.7 .6-3.2 .6,.9 .6,1.6 .7-.5 .6,2.6 .5,1.1 .5-2.9 .5,1.7 .5-2.8 .5,.4 .5,.1 .5-1.8 .5,1.8 .5-2 .5,.7 .5,1.3 .5-2.4 .5,1.7 .5-2.4 .5,.5 .5,1 .6-2.9 .5,2.2 .5-1.9 .5,.3 .5,1 .5-2.5 .5,1.3 .5-2.4 .5,.7 .5,.4 .5-1.7 .5,1.9 .5-2.8 .5,1 .5,1.7 .5-2 .5,2.5 .5-2 .5,1.7 .5,1.4 .5-1.7 .5,2.9 .5-2.2 .5,2.1 .5,1.4 .5-1.8 .5,2.6 .5-2.1 .5,.5 .5,1.4 .5-1.9 .5,2.1 .6-2.6 .5,1.7 .5,.3 .5-1.9 .5,2.7 .5-1.5 .5,1 .6-1.8 .6-3.9 .7-2.3 .6,1.2 .6-1.4 .6-1.8 .7,2 .6-1.5 .6-2.5 .7,1.1 .6-3 .6,.2 .6,2.8 .7,.2 .6,2.5 .6,5 .7,3.5 .6,.3 .6-1.8 .6,2 .7-1.4 .6-5.9 .6-3 .7,20.2 1-23.9 .2,2.5 .7,6.5 .6-12.4 .6,14.9 .6-17.2 .7,13.8 .6-13.3 .6,11.6 1.3-17.7 .6,2.6 .6,15.6 .7-13.7 .6,16.7 .6-16 .7,14.7 .6-8.5 .6,11.7 .6-9.7 .7,8.7 .5,.9 .5-2.1 .5,2.8 .5-2 .5,.9 .6,1.8 .6-1.5 .7,1 .6,0 .6-3.1 .7,.5 .6,.6 .6-3.6 .6,.5 .7,0 .6-3.1 .6-.7 .7,.8 .6-3.3 .6,0 .7,.7 .6-2.4 .6,.5 .6,0 .7-2.2 .6,.9 .6-.2 .7-2.8 .6,.5 .5-.4 .6-2.8 .5,1.6 .5-1.5 .6,.7 .5,4.5 .6,1.7 .6,1.1 .6,3.9 .6,0 .7,.2 .6,3.3 .6-1 .7-1 .6,1.7 .6-1.9 .6-2.4 .7,.9 .6-2.3 .6-2.3 .7,.6 .6-2.1 .6-2.3 .6,1.8 .7-1.4 .6-2.2 .6,1 .7,.9 .6-1.6 .6,2.6 .5,1.3 .5-2.2 .5,3.2 .5-1.6 .5,1.1 .5,1.8 .5-2.3 .5,2.2 .6-2.6 .5,.9 .5,1.2 .5-2.5 .5,2.3 .5-2.4 .5,.8 .5,2.5 .5-2 .5,2.5 .5-1.9 .5,1.4 .5,1.1 .5-2.1 .5,2.6 .5-1.9 .5,1.6 .5,1.5 .5-2.6 .5,1.3 .5-3 .5,.9 .5,1.3 .5-2.3 .5,1.8 .5-2.5 .5,.4 .5,.7 .5-2.7 .5,2.3 .5-2.3 .5,.2 .7,1.3 .6-2.8 .6,.2 .7,1.1 .6-2.5 .6,.8 .7,2.2 .6-1.3 .6,2.2 .6,1.8 .7-.5 .6,2.5 .5,.9 .5-2.2 .5,2.4 .5-2.5 .5,.8 .5,1.2 .5-2.4 .5,2.3 .5-3 .5,.6 .7,.9 .6-1.8 .6,.3 .6,1.7 .7-2.1 .6,1 0,.1 .5,.4 .5-1.8 .5,1.9 .5-2.1 .5,.4 .5,1.6 .5-2.1 .5,1.6 .5-2.2 .5,1.1 .7,2.2 .6-1.6 .6,2.5 .6,2.2 .7-1.6 .6,1.9 .5,.9 .5-2.9 .5,2.3 .5-2.7 .5,1.2 .5,1.2 .5-1.3 .5,2.8 .5-1.5 .5,1.9 .7,.3 .6-1.8 .6,2.1 .7-2.5 .6-5 .6-3.6 .6-2.7 .7,.6 .6-2.1 .6,.3 .7,1 .6-1.9 .6,1.5 .6,2.2 .7-1.2 .6,1.5 .6,1 .7-1.5 .6,1.1 .6,.7 .6-3 .7-.2 .6,.6 .6-2.8 .7,1 .6,2.6 .6,1.1 .6-.9 .7,3.1 .6-1.5 .6-1 .7,2.3 .6-2 .6-.9 .6,2.1 .7-1.8 .6,.2 .6,3.8 .7,.4 .6-1.9 .6,1.9 .7-1.3 .6-2.7 .6,1.3 .6-3.6 .7-1.6 .6,1.6 .6-1.2 .7-1 .6,2.4 .6-1.4 .6-.7 .7,2.7 .6,.5 .6-.2 .7,3.5 .6,.4 .6-.5 .6,3.1 .7-1.8 .6-4 .6-1.8 .7,.6 .6-1.8 .6-.3 .6,3.5 .7,.5 .6-1.7 .6,1.8 .7-2.6 .6-2.1 .6,.7 .6-2.4 .7,.4 .6,2.4 .6-.2 .7-1.5 .6,2.5 .6-.4 .7-1.1 .6,1.9 .6-2.1 .5-1.4 .5,.8 .5-2.5 .5,1.1 .5-1.1 .7,.6 .6,4.8 .6,.9 .6-.2 .7,2.3 .6-.2 .6-1.8 .7,2.3 .6-1.2 .6-3.4 .6,.8 .7-3.7 .6-3.6 .6-.5 .7-3.4 .6-2.8 .6,1.5 .6-2.5 .7-1.2 .6,0 .6-2.4 .7-3.3 .6,1.8 .6,3.9 .6,3.3 .7,1.7 .6-.6 .6,3.5 .7-.4 .6-.6 .6,2.3 .7-.4 .6-1.4 .6,2.1 .6-1.4 .7-1.9 .6,1.5 .6-1.5 .5-1.6 .5,2.4 .5-1.9 .5,2.4 .5-1.9 .5-.6 .5,2 .5-3 .6,1.7 .5-.7 .6-2.3 .6,1.9 .6-2.1 .7-1.5 .6,2.7 .6-2.5 .7,0 .6,2.4 .6-.5 .6-.2 .7,3.1 .6-.4 .5-1 .5,1.4 .5-2.2 .5,2 .5-.8 .5-1.4 .5,2.2 .5-1.8 .5,2.3 .5-.7 .5-.6 .5,2.6 .5-2.6 .5,2.8 .5-1.6 .6-1.5 .5,2.4 .5-2.5 .5,1.7 .5-.7 .5-.7 .5,3 .5-2.1 .5,2.9 .5-1.2 .6-.1 .6,3.6 .7-1 .6,.1 .6,2.6 .7-.2 .6-2.3 .6,1.5 .6-1.7 .7-1.8 .6,2.1 .6-2.2 .5-1.2 .5,1.9 .5-2.2 .5,2 .5-1.1 .5-1 .6,1.9 .5-1.9 .5,2 .5-1.6 .5-.9 .5,2.6 .5-3.2 .5,2.1 .5-1.3 .6-1.3 .6,1.7 .7-1.6 .6,.3 .6,2.7 .6,.1 .7,0 .6,2.3 .6-.4 .7-1.5 .6,1.9 .6-1.6 .7-1.8 .6,2.2 .6-1.7 .6-.3 .7,2.4 .6-.8 .6-1.9 .7,1.3 .6-2 .6-2.2 .6,.6 .7-2.1 .6-1.8 .6,1.2 .7-1.9 .6-1.9 .6,1.2 .6,2.5 .7,.7 .6,.3 .6,3.4 .7,2.7 .6-1 .6,2.1 .6,.3 .7-2.1 .6,.6 .6,.4 .7-2.8 .6,1.1 .6,1.5 .6-1.3 .7,2.3 .6,.9 .6-2.1 .7-4.6 .6-3 .6-2.7 .7-6.1 .6-.9 .6,2.6 .6-1.1 .7,.1 .6,2.5 .6-.7 .7-.9 .6,3.5 .6-.1 .6,.9 .7,3.5 .6,.7 .6-1.9 .7,1.3 .6-1.9 .6-2 .6,1.8 .7-.5 .6-2 .6,1.1 .7-1 .6-2.3 .6,1.1 .6-1.3 .7-1.8 .6,1.1 .6-3 .7-1.4 .6,1.7 .6-1.6 .6-.8 .7,2.5 .6-1.1 .6-2.6 .7,.1 .6,1.4 .6-1.8 .7,2.3 .6,0 .6-3.5 .6,1 .7,.5 .6-3.4 .6,1.6 .7,1.1 .6-2.3 .6,.6 .6,.3 .7-2.5 .6,.9 .6,.3 .7-2.1 .6,.6 .5,.7 .5-2.2 .5,1.3 .5-2.4 .5,1.3 0,.2 .6,1.4 .7-1.6 .6,2.1 .6,.9 .6-1.2 .7,2.2 .6,1.3 .6-.9 .7,2.1 .6,.3 .6-1.9 .6,1 .7,.1 .6-2.6 .6-.7 .7,1.7 .6-1.8 .6,2 .6,1.6 .7-2.1 .6,1.1 .6,.5 .7-2.6 .6,.9 .6,.3 .7-2.4 .6,.8 .6,.8 .6-1.8 .7,.4 .6,1.3 .6-1.4 .7,2 .6,2.6 .6,.5 .6-1.8 .7,1 .6-1.7 .6-1.8 .7,1.9 .6-2 .6-.7 .6,1.2 .7-1.1 .6-.9 .6,2.5 .7,.3 .6-.8 .6,3.3 .6-.6 .7-.4 .6,2 .6-1 .7-1.4 .6,.7 .6-1.2 .6,.2 .7,3.4 .6,.2 .6,1 .7,4.4 .6,.9 .6,.3 .7,2.8 .6,.7 .6-2.2 .6,.9 .7,1.4 .6-1.8 .6,.4 .7,.4 .6-2.8 .6-.1 .6-.8 .7-4.4 .6-1.1 .6-.3 .7-3.3 .6-.2 .6-.1 .6-1.9 .7,1.4 .6,1 .6-1.1 .7,1.3 .6,2.8 .6-1 .6,1.4 .7,2 .6-1.2 .6,1.7 .7-.2 .6-2.8 .6,.5 .6-.7 .7-2.7 .6,.9 .6-.4 .7-3.4 .6,0 .6-1 .7-2.5 .6-.3 .6,.2 .6-2.2 .7,.1 .6,1 .6-2 .7,.4 .6,1 .6-.9 .6,1.2 .7,1.3 .6-1.1 .6,1.6 .7-.9 .6-3.3 .6-.2 .6,1.3 .7-1.8 .6,1.8 .6,2.2 .7-1.3 .6,1.6 .6-.4 .6-3.4 .7-1.2 .6,1.7 .6-2 .7,.9 .6,1.7 .6-.4 .6,1.9 .7,3.4 .6-.1 .6,3 .7,1 .6-2.1 .6,1.1 .7,0 .6-2.8 .6,.9 .6-.2 .7-2.5 .6,.8 .6,.7 .7-2.2 .6,.8 .6,.9 .6-1.6 .7,.1 .6,1.3 .6-2.5 .7,.6 .6,0 .6-2.6 .6,.7 .7,.6 .6-2.2 .6,1 .7,.9 .6-1.8 .6,.2 .6-.1 .7-2.9 .6,.5 .6,.4 .7-3.3 .6,.4 .6,1.1 .6-2.5 .7,1.4 .6,1.3 .6-1.6 .7,2.2 .6,1.4 .6-1.7 .6,2.2 .7,1.7 .6-.4 .6,1.8 .7,1.2 .6-1.1 .6,1.8 .7,.6 .6-2.1 .6,.3 .6,.7 .7-2.4 .6,.4 .6,1.1 .7-2.7 .6,.3 .6,.4 .6-3 .7-.5 .6,.2 .6-3.5 .7,.2 .6,1.6 .6-1 .6-.6 .7,3.1 .6,0 .6-.7 .7,2.3 .6,.3 .6-1.6 .6,1 .7,2.2 .6-.3 .6,2.5 .7,3 .6-.1 .6,2.1 .6,2.6 .7-.5 .6,1.7 .6,.1 .7-2.2 .6-.4 .6-.5 .7-3.3 .6-1.3 .6,.2 .6-2.2 .7,.8 .6,1.2 .6-.6 .7,2.5 .6,1.6 .6-1.7 .6,2 .7,2.2 .6-1.1 .6,2 .7-1.2 .6-2.9 .6-.3 .6-1.6 .7-3.4 .6-1.9 .6,.6 .7,1.9 .6-.6 .6,2.5 .6,1.3 .7-1.3 .6,1.9 .6,.1 .7-2.5 .6,.5 .6,.2 .6-2.4 .7,.3 .6,1.5 .6-1.8 .7,1 .6,2.3 .6-1 .7,1.8 .6,.4 .6-2.7 .6,1 .7-.4 .6-2.6 .6-.1 .7,1.1 .6-1.3 .6,.8 .6,1.6 .7-1.6 .6,1.3 .6,2 .7-1.2 .6,2.3 .6,2.8 .6,1 .7-3.2 .6-1.8 .6-.2 .7-3.4 .6-.2 .6,1.4 .6-1.3 .7,1.8 .6,3.3 .6,.4 .7,3.2 .6,4 .6,.9 .6,3.3 .7,2.1 .6-.9 .6-3.1 .7-1 .6-2.8 .6-4.4 .7-1.8 .6-3.8 .6-3.3 .6,.3 .7-3.3 .6-1.2 .6,1.4 .7-2.1 .6,.1 .6,1.7 .6-.6 .7,.5 .6,2.4 .6,.3 .7,.4 .6,4 .6,.6 .6,3.7 .7,5.7 .6,3.2 0-6.4 .6,.6 .7,3.7 .6,.8 .6,1 .6,3.2 .7,1.4 .6-2.6 .6,.1 .7-1.9 .6-1.3 .6,.7 .6-1.9 .6-1.7 .5,.8 .5-2.5 .5,.6 .5-2.2 .6-2.1 .6-.2 .6-2.7 .7-1.7 .6,.3 .6-1.8 .7-1.3 .6,.3 .6-.9 .7-1.6 .6,.4 .6,1.9 .6-1.5 .7,1.5 .6,2 .6-.1 .7,2.5 .6,3.9 .6,1.7 .6,4.4 .9,.3 .9-.5 .9,.4 .9-.6 .9,.7 .9-.8 .9,.9 .9-.9 .9,.5 .9-.7 .9,.8 .9-.7 .9,.5 .9-.9 .9,1 .9-.8 .9,.7 .9-.7 1,.6 .9-.6 .9,.7 .9-.6 .9,.6 .9-.7 .9,.7 .9-.9 .9,.7 .9-.8 .9,.8 .9-1 .9,.7 .9-.7 .9,1 .9-.9 .9,.9 .9-.7 .9,.7 .9-.9 .9,.7 .9-.5 .9,.7 .9-1 .9,.7 .9-.6 .9,.7 .9-.8 .9,.5 .9-.8 .9,.7 .9-.7 .9,1 .9-.9 .9,.5 .9-.6 .9,.6 .9-.9 .9,.7 .9-.7 .9,.9 .9-.7 .9,.6 .9-.8 .9,.8 .9-.6 .9,.4 .9-.7 .9,.7 .9-.8 .9,.8 .9-.8 .9,.7 .9-.6 .9,.6 .9-.8 .9,.7 .9-.7 .9,.6 .9-.6 .9,.7 .9-.7 .9,.5 .9-.7 .9,.8 .9-.8 .9,.6 .9-.5 .9,.6 .9-.7 .9,.5 .9-.8 .9,.8 .9-.7 .9,.8 .9-.7 .9,.8 .9-.6 .9,.3 .9-.8 .9,.7 .9-.6 .9,.6 .9-.7 .9,.7 .9-.8 .9,.9 .9-.6 .9,.5 .9-.8 .9,.6 .9-.4 .9,.8 .9-1.1 .9,.8 .9-.9 .9,.7 .9-.9 .9,.8 .9-.7 .9,.8 .9-.8 .9,.9 .9-.7 .9,.5 .9-.7 .9,.7 .9-.8 .9,1 .9-.9 .9,.7 .9-1 .9,.8 .9-.7 .9,.6 .9-.6 .9,.5 .9-.6 .9,.8 .9-.6 .9,.6 .9-.9 .9,.6 .9-.8 .9,.9 .9-.7 .9,.7 .9-.6 .9,.5 .9-1 .9,.9 .9-.7 .9,.7 .9-.7 .9,.6 .9-.9 .9,.6 .9-.6 .9,.7 .9-.9 .9,.8 .9-.6 .9,.6 .9-.5 .9,.7 .9-.8 .9,.6 .9-.7 .9,.6 .9-.7 .9,.6 .9-.7 .9,.8 .9-.8 .9,.9 .9-.8 .9,.5 .9-.6 .9,.6 .9-.7 .9,.8 .9-.9 .9,.7 .9-.7 .9,.8 .9-.6 .9,.7 .9-.8 .9,.5 .9-.7 .9,.9 .9-1 .9,.6 .9-.6 .9,.9 .9-1 .9,.8 .9-.7 .9,.9 .9-.8 .9,.6 .9-.9 .9,.7 .9-.6 .9,.4 .9-.7 .9,.6 .9-.6 .9,.8 .9-.7 .9,.8 .9-1 .9,.6 .9-.6 .9,.8 .9-.8 .9,.7 .9-.5 .9,.4 .9-.8 .9,.7 .9-.5 .9,.6 .9-.6 .9,.7 .9-.9 .9,.7 .9-.5 .9,.6 .9-1 .9,.9 .9-.9 .9,.7 .9-.8 .9,.7 .9-.9 1,.9 .9-.7 .9,.8 .9-.8 .9,.8 .9-.8 .9,.4 .9-.2 .8-.5 .9,.6 .9-.9 .8,.8 .9-.7 .9,.8 .8-.8 .9,.6 .9-.3"/>
<path class="c" stroke="#0000ff" d="M133.1,724.7l.6-1.7 .5,2.7 .5-2.9 .5,2.9 .6-2.4 .5,1.4 .5,1.7 .6-2.7 .5,2.3 .5-3.5 .6,2.8 .5-2.4 .6,1.4 .5,.9 .5-2.1 .6,2.5 .5-2.4 .6,3.2 .5-2.7 .5,1 .7-.1 .6-2.5 .6,.7 .7,2.1 .6-1.8 .6,1.6 .5,1.1 .5-2.5 .5,2.3 .5-1.7 .5,.2 .7,1.3 .6-2.6 .6-.6 .6,2.9 .7-1.9 .6,1.5 .5,2 .6-3.3 .5,2.3 .6-2.8 .5,2.9 .5-2.1 .6,1.6 .5,1.8 .6-3.2 .5,3.5 .5-2.7 .6,1.9 .5-2 .5,1.4 .5-.3 .6-2.6 .5,2.4 .5-3.1 .5,.4 .6,.9 .6-2.3 .6,2.1 .7,1.1 .6-.9 .6,2.3 .5,1 .5-2.2 .5,2.6 .5-2.2 .6,.1 .5,1.8 .5-2.9 .6,2.9 .5-3 .5,2.9 .6-2.9 .5,1.2 .6,1.9 .5-3 .5,2.2 .6-1.8 .5,2.3 .6-2.6 .5,.4 .5,1.5 .6-3 .5,2.8 .6-3.1 .5,2.6 .5-2.5 .6,1.1 .5,.5 .6-2.5 .5,3.1 .5-2.5 .6,2.7 .5-3 .5,1.4 .6,.7 .5-2.7 .6,2.5 .5-1.9 .5,2.6 .6-2.6 .5,1.1 .6,.5 .5-2.1 .5,2.3 .6-2 .5,2.4 .6-2.7 .5,1.6 .5,1.3 .6-2.3 .5,2.5 .5-1.9 .6,2.6 .5-2.2 .6,1.2 .5,1 .5-2.7 .6,1.9 .5-1.6 .6,2.5 .5-3.2 .5,1.5 .6,.8 .5-2.4 .6,3 .5-2.4 .5,1.9 .6-1.9 .5,1.6 .6,1.4 .5-1.8 .5,2 .6-1.7 .5,1.9 .5-2 .6,.8 .5,.9 .6-2.2 .5,2.3 .5-2.7 .6,2.8 .5-2.8 .6,1.1 .5,.9 .5-2.6 .6,2.8 .5-2.2 .6,3.6 .5-2.7 .5,.8 .6,1.4 .5-2.6 .6,2.8 .5-3.4 .5,2.3 .6-2.8 .5,1.1 .5,2.4 .5-2.1 .5,2.2 .5-1.2 .5,1.2 .5,1.2 .5-2 .5,2.6 .5-2.7 .5,1.5 .5,.2 .5-2.3 .5,2.1 .6-3.6 .5,1.7 .5,.8 .5-1.4 .5,2 .5-2.1 .5,1.4 .5,.6 .5-3.2 .5,2.4 .5-3.1 .5,1.4 .5-.1 .5-2.5 .5,1.1 .5-2.8 .5-.1 .5,1.4 .5-3.2 .5,2.4 .5-2.2 .5,1 .5,.2 .5-2.2 .5,.7 .6,2 .5-1 .6,.9 .6,2.2 .6-2.7 .6,1.1 .7,1.5 .6-2.8 .6,2.6 .7,3.6 .6,.1 .6,1.6 .7,3.5 .6,0 .6-4.2 .6-.9 .7,2.4 .6-2.2 .6,1.1 .7,3.6 .6,.8 .6-2.6 .6,.6 .7-2.4 .5-1.6 .5,1.8 .5-2.6 .5,1.4 .5-1.5 .5-.8 .5,3.4 .5-2.1 .5,2.4 .5-1.7 .6,2.1 .7,3 .6-1.6 .6-4.2 .6-.5 .7,2.5 .6-1.8 .6,3.1 .7,1.3 .6-2.2 .6,2.7 .6,.5 .7-2.4 .6,.7 .5,.2 .5-1.9 .5,1.9 .5-2 .5,1.2 .5,1.1 .5-2.2 .5,3.2 .5-2.3 .5,.8 .5,1.7 .5-2.8 .5,1.3 .6-2.7 .5,1.2 .5,.7 .5-3 .5,3.1 .5-2.7 .5,1.3 .5,1.9 .5-2.7 .5,2.4 .5-2.7 .5,.5 .5,1.8 .5-2.5 .5,2 .5-2.3 .5,.3 .5,2.3 .5-2 .5,2.7 .5-2.5 .5,1.4 .5,1.5 .5-2.5 .5,2.2 .5-2 .5,1.5 .5,1.2 .5-3 .5,2.8 .5-1.9 .5,.9 .6,1.9 .5-2.8 .5,2.2 .5-2.3 .5,.3 .5,2 .5-2.6 .5,3 .5-3.1 .5,1.4 .5,1.2 .5-2.5 .5,2.2 .5-3.2 .5,1 .5,1.2 .5-3.6 .5,2.5 .5-1.6 .5,.9 .5,.9 .5-2.3 .5,2.2 .5-2.9 .5,.8 .5,.9 .5-2.5 .5,2.1 .5-2.5 .5,1.4 .5,.9 .5-2 .6,2.3 .5-2 .5,1.4 .5,1.6 .5-2.4 .5,3.2 .5-2.7 .5,.9 .5,1.9 .5-2.7 .5,2.9 .5-3 .5,2.2 .5,1 .5-3.1 .5,3.3 .5-2.3 .5,1.7 .5,.8 .5-2 .5,2.5 .5-2.6 .5,2 .5,.7 .5-2 .5,2.6 .5-1.7 .5,1 .5,1.5 .5-2.1 .5,1.6 .5-2.2 .6,.6 .5,.7 .5-2.5 .5,2 .5-2.6 .5-.2 .6,1 .6-4.1 .7,.6 .6,.7 .6-2.2 .6,.9 .7,2 .6-1.4 .5-1.4 .5,2.9 .5-2.4 .5,1.9 .5-.3 .5-1.7 .5,2.4 .5-2.6 .5,2.2 .5-.3 .5-1.2 .5,2.2 .5-1.7 .5,2.4 .5-.5 .6-.8 .5,2.5 .5-1.9 .5,3 .5-.9 .5-1.1 .5,2.8 .5-1.9 .5,2.4 .5-.9 .5-1.3 .5,2.2 .5-2.4 .5,2.7 .5-.6 .5-1.4 .5,3.2 .5-2 .5,2.8 .5-.7 .5-2.2 .5,2.3 .5-3.1 .5,1.3 .5-1.5 .5-1.9 .5,2 .5-2.8 .5,2.9 .5-1.4 .5-1.2 .5,2.3 .6-3.1 .5,1.3 .5-1.2 .5-2 .5,2.1 .5-2 .5,2.2 .5-2.2 .5-.7 .5,2 .5-2.2 .5,1.9 .5-1.6 .5-1.5 .5,2.1 .5-2 .5,1.9 .5-.5 .5-1.1 .5,1.8 .5-1.8 .5,2.6 .5-.9 .5-1.3 .5,2.6 .5-2.4 .5,2.9 .5-.5 .5-.5 .5,2.9 .5-2.3 .5,2.2 .6-1.1 .5,.1 .5,1.8 .5-1.5 .5,2.4 .5-.9 .5-.2 .5,2.3 .5-1.3 .5,2.1 .5-1 .6-1 .6,2.8 .7,.1 .6-1.8 .6,1.1 .7-2.5 .5-1.1 .5,1.1 .5-2.3 .5,2.1 .5-1.7 .5-1 .5,1.8 .5-2.8 .5,1.7 .5-1.5 .6-1.5 .6,1.7 .7-2.1 .6-1.4 .6,1.5 .7-1.4 .6-1.2 .6,2.6 .6-.1 .7-.8 .6,2.7 .6-.7 .7,.1 .6,2.8 .6-1 .7,0 .6,2.1 .6-.2 .5-.6 .5,2.3 .5-1.5 .5,2.6 .5-.9 .5-1.8 .5,1.4 .5-2.3 .5,1.5 .5-1.3 .5-1.6 .5,1.2 .5-2.6 .6,1.8 .5-1.3 .5-1.4 .5,1.3 .5-2.4 .5,1.8 .5-1.2 .6-1.6 .6,1.9 .7-1.6 .6-2.2 .6,1 .6,1.6 .7-1.2 .6,1.4 .6,2.1 .7-.8 .6,1.9 .6,2 .6-1.9 .7,2.4 .6,.8 .6-1 .7,1.5 .6,.1 .6-2.9 .7,.2 .5,.9 .5-3 .5,2.2 .5-2.2 .5,1.5 .5,.6 .5-3.1 .5,2.1 .5-2.4 .5,1.6 .6,.6 .6-2.3 .7,.4 .6,2 .6-1.8 .7,1.1 .5,1.7 .5-1.9 .5,1.8 .5-1.9 .5,1.5 .5,1.3 .5-2.2 .5,2.4 .5-2.1 .5,0 .6,.6 .6-2.4 .7,1.2 .6,1.6 .6-.7 .7,1.6 .5,2.1 .5-2.7 .5,2.2 .5-1.7 .5,.7 .5,1.3 .5-1.8 .5,2.1 .5-2.3 .5,.7 .5,.8 .5-1.8 .5,2.1 .5-2 .5,.9 .5,1.4 .5-2.4 .5,2.2 .5-3 .5,1.2 .5,.8 .5-2.1 .5,2.7 .5-2.4 .5,1 .5,1.4 .5-2.3 .5,2.1 .6-2.2 .5,.3 .5,1.1 .5-1.7 .5,2.4 .5-2.2 .5,1.7 .5,1.8 .5-2.8 .5,1.8 .5-2.1 .5,1.3 .5,.4 .5-2.1 .5,2.3 .5-1.7 .5,.5 .5,1.2 .5-2.3 .5,1.9 .5-1.7 .5,1.5 .5,.8 .5-1.6 .5,2.8 .5-1.9 .5,1.2 .5,1.3 .5-2.5 .5,2.6 .5-1.5 .5,.7 .6,1.7 .5-2.4 .5,2.7 .5-2.9 .5,1.5 .5,.9 .5-2.6 .5,2 .5-2.3 .5,.8 .5,.1 .5-2.2 .5,2.4 .5-2.1 .5,1.1 .5,0 .5-2.3 .5,1.6 .5-2 .5,.8 .5,1 .5-2.2 .5,1.8 .5-3 .5,.6 .5,1.7 .5-2.8 .5,1.3 .5-2.3 .5,1.4 .7,1.2 .6-1.9 .6,2 .7,1.9 .6-2 .6,1.3 .6,2.3 .7-2.2 .6,1.8 .6,2.2 .7-1.9 .6,2.2 1.2-3.8 .6,3.4 .5-3.2 1.2-5.8 .9,6.1 .5,4.8 .5-4.3 .5,3.6 .6-3.4 .5,4.4 .5-5.5 .5,5.9 .5-5.5 .5,4.9 .5-5.3 .8-5.6 .8-6.4 .8,1.3 .7,9.4 .5,6.2 .5-4.1 .5,2.7 .5-4.9 1.1,9.6 .6-10.4 .6,6.5 .5-4.7 .5,4.9 .5-5.4 .5,3.4 .5-4.8 .5,5.3 .5-4.2 .5,3.6 .5-3.3 .5,3.2 .5-3 .5,6.3 .6-8.5 .5,6.5 .5-4.8 .5,5.8 .5-6.9 .5,4.7 .5-4.8 .5,7.8 .5-6.4 .5,5.6 .5-6.5 .5,4.5 1.2-8.9 .6,1.5 .5,6.9 .6-5 .5,4.9 .5-4.5 .5,5.5 .7,10.4 .7,11.7 1-18.8 .6,4.6 .5-5.8 .5,3.8 .5-3.5 .5,3.9 .5-3.8 .5,4.5 .6-6.6 .5,5.4 .5-5.5 1.2-3.7 .4,10.7 .8,13.6 .9-1.9 .8-2.5 .9-15.5 .5,3.9 .4-8 .5,8 .5-7.5 .5,5.2 .5-6.6 .5,4.6 .5-2.9 .5-.1 .5-1.7 .5,2 .5-1.6 .5,1.4 .5-1.4 .5-1.1 .5,1.9 .5-2.1 .5,1.3 .5-.6 .5-.7 .5,2.4 .5-1.2 .5,2.2 .5-1.4 .5-.6 .5,1.3 .5-2.3 .5,2 .5-1.1 .5-1.8 .5,2.7 .5-1.6 .5,1.8 .5-1.7 .5-.3 .6,1.8 .5-1.8 .5,2.2 .5-.6 .5-1.3 .5,2.5 .5-2.1 .5,2.2 .5-.7 .5-1.3 .5,2.1 .5-1.4 .5,2 .5-.8 .5-.6 .5,1.5 .5-1.8 .5,2.3 .5-.7 .5-.8 .5,2.2 .5-2.3 .5,1.7 .5-1.1 .5-.8 .5,2.1 .5-1.7 .8-6.9 .5-25.1 .7-37.8 .9-31.4 1.3-26.4 .6-5.1 .9-4.3 .8-3.9 .8-4.4 1,0 .9,.3 1-.5 .9,.3 .9-.2 1,.2 .9-.2 1,.1 1.2,12.6 1.3,11.3 1.3-11.3 1.2-12.6 .8,.2 .9-.3 .8,.4 .9-.5 .8,.4 .8-.2 .8,13.8 .7,32 .9,7.5 .8,7.6 .9,6.4 1,6.2 .7,11.2 .8,11.5 .8,12.7 .8,12.4 .9,17.1 1,7.6 .5-.9 .5,2.1 .5-1.8 .5,2.1 .5-.9 .5-1.5 .5,2.5 .5-2.3 .5,3.4 .5-1.5 .7-2.4 .6,1.4 .6-2.8 .7,.2 .6,3.2 .6-.8 .6,.1 .7,2.5 .6-.8 .6-.8 .7,2.5 .6-.4 .5-1.4 .5,2.1 .5-3.4 .5,1.8 .5-1 .5-1.9 .5,2.9 .5-2.5 .5,1.8 .5-.9 .5-1.8 .5,3 .5-3.1 .5,3 .5-.5 .5-1.2 .5,2.1 .5-3.1 .5,2.3 .5-1.3 .5-1.2 .6,2.9 .5-2.6 .5,3.1 .5-1 .5-1.1 .5,1.9 .5-2.5 .5,2.4 .5-1.3 .6-.1 .6,3.4 .7-.2 .6-3 .6,1.8 .6-2.5 .7-1.2 .6,3.3 .6-.9 .7-.7 .6,3 .6-.4 .5-2.2 .5,1.4 .5-2.5 .5,1.5 .5-2.6 .7-1.3 .6,1.3 .6-1.3 .7-.9 .6,3.1 .6-.3 .6-.7 .7,2.8 .6-.8 .6-1.2 .7,2.2 .6-.4 .5-1.7 .5,2.8 .5-2.2 .5,3.2 .5-1.5 .5-.6 .5,1.9 .5-1.7 .5,2.2 .5-1.1 .6,.1 .7,2.4 .6,0 .6-3.1 .7-.7 .6,2.2 .6-2 .6,1.1 .7,3.3 .6-.6 .6,2.3 .5,4.2 .5,2.7 .5-6.7 .4-2.7 .7,.5 .6-3.8 .6,.8 .6,4.7 .7,1.6 .6-4.3 .6-3.3 .7,.5 .6-3.9 .6,.9 .6-.1 .7-2.1 .6,.9 .6,1.3 .7-3.6 .6-.2 .6,.1 .6-2.6 .5-4.5 .5-2.4 .5,5.7 .4,3.7 .7,2.2 .6,4.1 .6,4.7 .6,1.6 .7,12.6 .4-9.3 .5-8.3 .5-.9 .5-4.2 .6,1 .6,1.6 .6,3.9 .7,1.1 .6,.6 .6,3.2 .7,3.4 .6,.3 .6-.7 .7,3.7 .6,.2 .6-4.7 .6-3.5 .7,1.3 .6-3.7 .6-.1 .7,1.8 .6-1.5 .6,1 .6,1.7 .7-1.9 .6,.8 .5,.3 .6-4.1 .5,.6 .5-1.9 .4-3.1 .6-.4 .7,2.9 .6-.2 .6-3.8 .7,.2 .6,.4 .6-2.8 .6,1.2 .7,.8 .6-2.7 .6,1.3 .5,0 .5-2.5 .5,1.2 .6,1.9 .5-.9 .6,3.4 .6,1.5 .6-1.8 .7,2.8 .5,1.8 .5-2.9 .5,2.3 .5-1.8 .5,1.2 .5,1.2 .5-2.7 .5,2.1 .5-2.2 .5,1 .5,1.2 .5-2 .5,2.1 .5-2.3 .5,.4 .5,1.8 .5-3.4 .5,2.3 .5-1.8 .5-.2 .7,2 .6-2.9 .6,.3 .6,2.2 .7-2.3 .6,.7 0,.9 .5,1.5 .5-1.5 .5,2.2 .5-1.3 .5,.9 .5,1.7 .5-1.5 .5,1.9 .5-1.5 .5,1.3 .7,1.5 .6-1.6 .6,.8 .6,.2 .7-2.2 .6,.1 .5,.6 .5-2.1 .5,1 .5-2.2 .5,.8 .5,.9 .5-1.9 .5,1.8 .5-2 .5-.1 .5,1.1 .5-2.4 .5,1.8 .5-2 .6,.9 .5,1.2 .5-2 .5,1.6 .5-1.7 .5,.9 .6,2.3 .6-1.5 .7,1.7 .6,.5 .6-1.2 .6,1.3 .5,.1 .5-2.1 .6,1.6 .5-2.3 .5,.9 .5,.8 .5-2.1 .5,1.7 .5-2.7 .5,.4 .5,1.2 .5-2.3 .5,1.7 .5-2.5 .5,1.2 .5,1.6 .5-2.3 .5,2.9 .5-2.4 .5,1.5 .5,1.4 .5-1.7 .5,2.4 .5-1.8 .5,1 .5,1.2 .5-2.3 .5,2.8 .5-1.4 .5,.9 .5,1.4 .5-2.4 .5,1.4 .5-2 .6,.4 .5,.5 .5-1.8 .5,1.2 .5-1.6 .5,1 .5,.9 .5-1.7 .5,2.5 .5-2.2 .5,1.2 .5,1.7 .5-2.1 .5,2.3 .5-2.2 .5,1.5 .6,1.1 .7-1.1 .6,1.9 .6-.1 .6-2.9 .7,.5 .5,.5 .5-2.6 .5,2 .5-1.8 .5,.6 .5,.9 .5-2.5 .5,1.9 .5-2 .5,1.1 .5,1.4 .5-1.6 .5,2 .5-2.1 .5,.9 .5,2.4 .5-1.8 .5,2.9 .5-1.4 .5,1.1 .7,1.3 .6-1.2 .6,3 .7,.7 .6-1.3 .6,1.9 .5-.1 .5-2.2 .5,1.3 .5-2.7 .5,.5 .5,.3 .5-2.5 .5,.9 .5-2.4 .5,0 .5,0 .5-2.1 .5,1.3 .6-2.6 .5,.8 .6,1.2 .6-2 .6,.8 .7,2.2 .6-.5 .6,1.5 .7,2.4 .6-1.3 .6,2 .6,2.7 .7-1.4 .6,1.9 .5,1.2 .5-1.3 .5,1.9 .5-1.3 .5,.7 .6-.5 .7-3.5 .6-.4 .6-1.1 .7-2.8 .6-1.1 .6,.5 .7-3.1 .6-.6 .6,2.1 .6-1.7 .7,.9 .5,2.2 .5-1.8 .5,2.5 .5-1.8 .5,1.4 .5,1.6 .5-2 .5,2.7 .5-1.9 .5,.9 .5,1.4 .5-1.3 .5,1.9 .5-1.4 .5,1.3 .6,2 .7-1 .6,2.1 .6,2.6 .7-.7 .6-2 .6,.8 .6-3.8 .7-1 .6,4.1 .6-.6 .7-5.7 .6-1.9 .6,.3 .6-5.5 .7,.2 .6,4.5 .6,3.1 .7-1.2 .6,4.9 .6-1.2 .6-2.1 .7,2.2 .6-2.6 1,16.3 .9-22.6 .6-1.7 .5,8.9 .5-6.2 .4,8.3 .5-10.9 .5,13.7 .5-13.3 .4,9.7 .5-5.8 .5,10.8 .5-14.2 .6,15.1 .5-15.2 .5,17.7 1.2,8.2 .6-18.5 .5,6.3 .5-9.8 .6,13.5 .5-7.8 .5,4.8 .6,2.1 .6,5.3 .6,.3 .6-6.4 .7-3.6 .6,3.1 .6-2.1 .6,1.5 .7,2.7 .6-1.3 .6,2.4 .7-1 .6-4.4 .6,.3 .6,3 .7-2.5 .6,2.7 .6,.6 .7-4 .6-.4 .6,2.7 .7-3.2 .6,2.4 .6-.1 .6-4 .7,.3 .6,2 .6-2.2 .7,1.5 .6,.6 .6-4.5 .6,.1 .7-.8 .6-3 .6,2.8 .7,5.6 .6,3 .6-3.3 .6,1.6 .7-2.1 .6-1 .6,4.2 .7-1.3 .6-1.7 .6,.6 .6-2.1 .7-2.3 .6,2.1 .6-1 .5-1.4 .5,2.4 .5-2.6 .5,2 .5-1.7 .6-.5 .5,1.8 .5-2.3 .5,2.4 .5-2 .5-.7 .5,1 .5-1.6 .5,1.7 .5-1 .5-1.2 .5,1.7 .5-2.1 .5,2.3 .5-1.4 .5-1.1 .5,2.1 .5-1.9 .5,2.4 .5-.8 .5-.9 .5,2.1 .5-1.9 .5,2.8 .5-.9 .5-.5 .5,2.3 .5-1.1 .5,2.3 .5-.5 .5-.9 .5,2.6 .6-2.1 .5,2 .5-.9 .5-1.4 .5,1.9 .5-2.5 .5,1.6 .5-1.5 .5-2 .5,1.7 .5-2.6 .5,2.1 .5-1.7 .5-.9 .5,1.3 .5-1.8 .5,1 .5-.9 .5-.9 .5,1.5 .5-2 .5,2.2 .5-1.4 .5-1.7 .5,2.6 .5-1.9 .5,1.7 .5-.1 .5-1.3 .5,2.1 .5-1.7 .5,2.7 .6-1.2 .5-.2 .5,2.3 .5-2 .5,3 .5-1.2 .5,0 .5,2.6 .5-1.5 .5,2.5 .5-1.1 .5,0 .5,2 .5-1.7 .5,2.4 .5-.8 0-.2 .5-2.1 .5,2 .5-2.2 .5,1.5 .5-1.1 .5-1.3 .5,1.9 .5-2.6 .5,1 .5-1.5 .5-.5 .5,2.1 .5-2.1 .5,1.9 .5-.8 .6-1.2 .5,2 .5-1.5 .5,1.6 .5-1.5 .5-1.4 .5,2.6 .5-1.4 .5,2.5 .5-.5 .5-1.4 .5,2.5 .5-1.6 .5,2.9 .5-1.1 .6-.1 .7,2.8 .6,.4 .6-2.5 .6,1.8 .7-1.8 .5-1.2 .5,1.9 .5-2 .5,2.6 .5-1.9 .5-1.1 .5,1.5 .5-2.4 .5,2 .5-1.9 .6-1.2 .7,1.4 .6-2.1 .5-1.1 .5,2.4 .5-2.5 .5,2.2 .5-1 .5-.4 .5,3 .5-2.2 .5,2.4 .5-.9 .6-.4 .7,2.8 .6,.1 .5-.9 .5,2.5 .5-1.7 .5,3.6 .5-1 .5-.3 .5,3.2 .5-1.5 .5,2.5 .5-.7 .7-.1 .6,3 .6-.4 .7-1.1 .6,1.3 .6-2.1 .6-2.6 .7,.9 .6-3.3 .6-1.6 .7,1.4 .6-1.7 .6-1.3 .6,1.4 .7-1.4 .6,0 .6,3 .7,.2 .6,.4 .6,3.4 .6-1.9 .7-3.2 .6-1.8 .6,2.2 .7-2.3 .6,.8 .6,3.4 .6,.2 .7,1.2 .6,3.7 .6,.8 .7-2.9 .6-.2 .6-3.8 .6,2.4 .7,3.9 .6,2.1 .6-2 .7,.5 .6,1 .6-3.2 .7,.3 .6,.6 .6-2.5 .6,0 .7,.9 .6-4.1 .6-.5 .7,6.1 .6,3.3 .6-1.7 .6,2.1 .7-1.7 .6-.9 .6,2 .7-1.7 .6-1 .6,1.7 .6-1.3 .7-4.3 .6-3.3 .6,.1 .7-3.4 .6,.2 .6,.4 .6-2.4 .7,.1 .5-.3 .6-3.5 .5,0 .4,3.5 .5,2.8 .6-.4 .6,3.9 .7,.3 .6-.1 .6,3 .7-1.7 .6-1.4 .6,2 .7-1.2 .5-.8 .5,2.2 .5-2.2 .5,2.4 .5-1 .5-1.8 .5,2.3 .5-3 .5,2.3 .5-1 .5-1.2 .5,1.5 .5-2 .5,2.2 .5-1.8 .5-1.7 .5,2.3 .5-2.6 .5,2.3 .5-1.5 .5-1.5 .5,2.1 .5-2.8 .5,2.7 .5-1.2 .7-.3 .6,2.7 .6-1.1 .6,.6 .7,2.9 .6-1 .5-.6 .5,2 .5-1.9 .5,2.9 .5-.5 .5-.8 .5,1.7 .5-2.4 .5,1.2 .5-1 .7-2.4 .6,1.4 .6-1.5 .6-1.4 .7,1.1 .6-2.2 .6-1.8 .7,1.3 .6-1.4 .5-1.5 .5,2.3 .5-2 .5,2.7 .5-.8 .5-1.9 .5,2.4 .5-2.2 .5,1.9 .5-.2 .5-1.3 .5,2.5 .5-1.5 .5,2.1 .5-1.8 .7,.1 .6,3.2 .6-.2 .7-1 .6,3.7 .6-.2 .6,0 .7,2.3 .6-1 .5-2.1 .5,2.7 .5-2.3 .5,2.3 .5-1.9 .5-.9 .5,1.4 .5-3.2 .5,1.9 .5-1.1 .7-1.7 .6,1.6 .6-1.1 .6-1.5 .7,3 .6-.3 .5-1 .5,2.2 .5-1.8 .5,2.9 .5-.4 .5-.4 .5,2.2 .5-1.6 .5,1.9 .5-.2 .7-.1 .6,2.9 .6-.3 .7-.6 .6,1.7 .6-1.7 .6-1.7 .7,1.5 .6-3 .6-1.1 .7,1.2 .6-1.9 .5-.8 .5,2.7 .5-2.5 .5,2.9 .5-1.7 .6,.5 .7,2.9 .6-.9 .6-.5 .6,2.8 .7,.2 .6-.5 .6,2.7 .7,.3 .6-.4 .6,4.2 .6,0 .7-1.3 .6,1.3 .6-1.2 .7-2.9 .6,.3 .6-2.5 .7-2.8 .6-1 .6,2.7 .6-1.7 .7,.9 .6,2.5 .6-2.5 .7,1.9 .6,.9 .6-2.7 .6,1.2 .7,1.8 .6-2 .6,1.4 .7,1.7 .6-1.4 .6,1.6 .6,1 .7-1.4 .6,2.3 .6,1.8 .7-1.7 .6,1.2 .6,.5 .6-3.1 .7,.7 .6,.5 .6-3.2 .7,.2 .6,1.3 .6-3.2 .6,.6 .6,.7 .5-2.5 .5,3 .5-3 .5,1.2 .5,1 .5-2.3 .5,2.2 .5-2.9 .5,.7 .5,1.3 .5-2.5 .5,2.5 .5-2.8 .5,.9 .5,.5 .5-2.3 .5,2.2 .5-2.4 .5,.7 .5,1.4 .5-2 .5,1.7 .5-2 .5,.3 .7,2.2 .6-2.6 .6,1.7 .6,.9 .7-3.1 .6,.9 .5,1.8 .5-1.7 .5,2.8 .5-1.4 .5,1 .5,1.8 .5-1.4 .5,2 .5-1.4 .5,.9 .7,1.3 .6-2.1 .6,1.4 .6,.4 .7-1.7 .6,.1 .5,.6 .5-1.9 .5,1.4 .5-2.6 .5,.6 .5,.2 .5-2.2 .5,1.9 .5-1.8 .5,.6 .5,1.3 .5-1.9 .5,1.8 .5-2.1 .6,.9 .5,1.3 .5-1.8 .5,2.7 .5-1.8 .5,.9 .6,1 .6-1.6 .7,2.5 .6,1.6 .6,.3 .6-2.5 .7,1.6 .6-1.6 .5-1.7 .5,1.4 .5-2.2 .5,1.4 .5-.8 .5-1.8 .5,1.5 .5-1.8 .5,2 .5-1.8 .7-1.4 .6,1.5 .6-2 .5-1.6 .5,2 .5-2.1 .5,1.8 .5-.7 .5-1.4 .5,1.9 .5-2.2 .5,1.7 .5-.7 .7-.6 .6,2.6 .6-1.3 .5-.8 .5,2.5 .5-1.6 .5,1.8 .6,0 .5-1.1 .5,2.3 .5-.9 .5,2.1 .5,.1 .6-.5 .6,3 .7,.6 .6-.3 .6,3 .6-.8 .5-.2 .5,1.6 .6-1.5 .5,2 .5-1.3 .5-.5 .5,1.5 .5-2.4 .5,2.1 .5-1.9 .6-1.4 .6,1.3 .7-2.4 .6-2.1 .6,1.5 .6-2 .7-1.3 .6,2 .6-.7 .7-.1 .6,2.8 .6-.8 .6-.1 .7,2.7 .6-.1 .6-.3 .7,1.9 .6-.3 .6-1.2 .7,2.1 .6-1.5 .6-.2 .6,2.6 .7-.5 .5-.6 .5,1.6 .5-2.2 .5,1.7 .5-1.2 .5-.9 .5,1.6 .5-1.2 .5,1.7 .5-.5 .6,.3 .7,3.6 .6-.8 .6-2.6 .6,1.1 .7-2.3 .6,.2 .6,3.4 .7,.2 .6-2.5 .6,.2 .6-3.4 .7-.5 .6,2.5 .6-.7 .7,0 .6,3.2 .6,0 .6-1.5 .7,1.1 .6-.9 .6-.8 .7,2.6 .6,.1 .5-.8 .5,1.3 .5-1.8 .5,1.7 .5-1 .5-1.2 .5,1.1 .5-2 .5,1.4 .5-.6 .5-1.7 .5,2.2 .5-2.2 .5,1.9 .5-.8 .5-1.3 .5,2 .5-1.7 .6,2 .5-1 .5-1 .5,2 .5-2.2 .5,1.6 .5-1.1 .5-1.1 .5,2.2 .5-2 .5,1.4 .5-.5 .6-1.7 .6,1.9 .7-2.1 .6-1.8 .6,1.2 .7-3.1 .5-.7 .5,2.2 .5-2.7 .5,1.6 .5-1.1 .5-.9 .5,1.6 .5-1.9 .5,2.4 .5-1.2 .6-.4 .6,1.7 .7-.6 .6,.4 .6,2.7 .7,2.5 .6-.1 .6,2.7 .7,.1 .6-2.6 .6,.6 .6,.6 .7-1.7 .6,1.1 .6,.8 .7-2.1 .6,.6 .6,0 .6-2.9 .7,.4 .6-.2 .6-2.7 .7-.9 .6,1.1 .6-2.1 .6,.4 .7,2.3 .6-1.1 .6,2 .7,.2 .6-3.4 .6,.6 .6,2.6 .7-.6 .6,1.8 .6,3.3 .7-.7 .6,2.5 .6,2.5 .6-.6 .7,2.5 .6,1.4 .6-1.2 .7,1 .6-1 .6-3.4 .7-2.4 .6,0 .6-3.3 .6-1.4 .7,1.8 .6-1 .6,.8 .7,3 .6-.6 .6-.9 .6,1.4 .7-1.2 .6-.1 .6,3.1 .7,.2 .6-.7 .6,1.9 .6-.6 .7-1.9 .6,.9 .6-1.5 .7-1.6 .6,1.8 .6-1.5 .6-2.4 .7,1.8 .6-1.9 .6-1.3 .7,2.5 .6-1.2 .6-.1 .6,2.1 .7-.7 .6,.1 .6,2.3 .7-.5 .6-.3 .6,2.6 .7-.4 .6,3.7 .6-3.3 .6-1.1 .7,1.7 .6-2 .6,1.6 .7,1.2 .6-1.9 .6,.1 .6,.5 .7-2.4 .6,0 .6-.2 .7-2 .6,.3 .6,.2 .6-2.1 .7,.6 .6,1.9 .6-.9 .7,.9 .6,2.4 .6-1.3 .6,1.4 .7,1 .6-1.5 .6,2.4 .7,1.3 .6-1.2 .6,1.8 .6,1.5 .7-2.1 .6,1.2 .6,.9 .7-2.9 .6,.8 .6-1 .7-2.8 .6,0 .6-.6 .6-2.4 .7-.8 .6,.6 .6-3.5 .7,.4 .6,.7 .6-2.3 .6,1 .7,1.4 .6-2 .6,1.8 .7,.9 .6-.5 .6,1.5 .6,2.4 .7-.5 .6,1.3 0-.7 .6,2.2 .7-1 .6,1.3 .6,1.5 .6-1.4 .7,1.8 .6,.4 .6-1.9 .7,.8 .6,1.3 .6-1.7 .6,1.1 .7,.5 .6-2.7 .6,.3 .7-.5 .6-3.3 .6,.6 .6-.7 .7-2.3 .6-.1 .6,.6 .7-2.7 .6,.2 .6,.3 .7-1.4 .6,.5 .6,2.1 .6-1.7 .7,1.5 .6,2 .6-1.4 .7,1.9 .6,.9 .6-1 .6,2 .7,1.6 .6-3 .6,.7 .7,2.7 .6-.9 .6,2.6 .6,2.1 .7-.8 .6,.8 .6,3 .7-1.5 .6-3.6 .6-1.7 .6,.3 .7-2.3 .6-2.4 .6,.9 .7-2.3 .6-2.2 .6,1.7 .6-1.4 .7-1.6 .6,1.6 .6-1.9 .7-1 .6,3.1 .6,.4 .7,2.1 .6,3 .6,2.4 .6-1 .7,2.3 .6,.2 .6-2 .7,1.2 .6,0 .6-2.4 .6,1.2 .5,.5 .5-1.8 .6,2.2 .5-2.7 .5,1.1 .5,.6 .5-2.1 .5,2.5 .5-1.9 .5,.9 .5,.3 .5-1.8 .5,1.5 .5-1.9 .5,0 .6,2 .6-2.1 .7,2 .6,.9 .6-.9 .7,1.9 .5,1.3 .5-1.4 .5,1.9 .5-1.2 .5,.7 .5,1.2 .5-2.4 .5,2 .5-2.3 .5,.8 .5,.2 .5-1.4 .5,2 .5-2.4 .5,.4 .5,1.1 .5-2.6 .5,1.7 .5-1.9 .5,.4 .5,.9 .5-1.9 .5,2.2 .5-2.6 .5,.8 .5,1.4 .5-2.5 .5,1.7 .6-2.5 .5,1.3 .5,.8 .5-1.9 .5,2.2 .5-1.3 .5,.8 .5,1.3 .5-1.4 .5,1.5 .5-2.5 .5,1.1 .5,.7 .5-2 .5,1.4 .5-1.6 .5,.9 .6,1.4 .7-1.6 .6,2.1 .6,.9 .6-.6 .7,.9 .5,1.4 .5-2 .5,2.3 .5-2.1 .5,1.7 .5,.7 .5-1 .5,2.3 .5-1.9 .5,1.1 .6,.2 .7-3.2 .6-.1 .6,.6 .7-2.3 .6-.2 .6,.8 .6-1.2 .7,1 .6,2.1 .6-.8 .7,2.5 .6,1.7 .6,.8 .6-2.1 .7,.8 .6-2.5 .6-1.5 .7,.7 .6-2.3 .6-.6 .6,2.1 .7,.4 .6,.1 .6,3.6 .7-.6 .6-.9 .6,2.3 .6-.7 .7-1.3 .6,1 .6-1.6 .7,5.6 .6-4.5 .6-3 .6,1 .7-1.7 .6,1.9 .5,.8 .5-1.3 .5,1.6 .5-1.5 .5,1.1 .5,1 .5-1.5 .5,1.9 .5-.9 .5,.7 .5,1.5 .5-2.3 .5,2.1 .6-2.8 .5,.9 .5,1.2 .5-2.2 .5,1.6 .5-1.9 .5,.7 .5,1 .5-1.9 .5,1.6 .5-1.9 .5,1.2 .5,.7 .5-2.1 .5,2.1 .5-2 .5,0 .5,.7 .5-2.4 .5,1.7 .5-2 .5,.8 .5,.8 .5-1.5 .5,2.4 .5-2.1 .5,1 .5,1.3 .5-1.7 .5,1.8 .5-2.3 .5,1.5 .6,.9 .5-1.9 .5,2 .5-1.7 .5,.7 .5,1.5 .5-2.5 .5,2 .5-2.7 .5,1.1 .5,.5 .5-1.8 .5,1.8 .5-1.6 .5,.5 .5,1.2 .5-1.9 .5,2.5 .5-2 .5,1.4 .5,1.1 .5-1.6 .5,2.1 .5-2.7 .5,1.7 .5,.7 .5-1.5 .5,2.1 .5-1.8 .5,1.2 .5,.9 .5-1.9 .6,2.2 .5-1.5 .5,.3 .5,1.1 .5-2 .5,2 .5-2.1 .5,.3 .5,1.4 .5-2 .5,1.6 .5-2 .5,1 .5,1.5 .5-.8 .5,2.2 .5-1.2 .5,1.5 .6-.8 .7-3 .5-1.2 .5,1.7 .5-2 .5,2.1 .5-1.2 .5-1.4 .5,2 .5-1.4 .5,2.3 .5-.9 .5-.1 .5,1.4 .5-1.7 .5,2.1 .5-1.1 .5-.5 .5,1.6 .5-2.1 .5,2 .5-.3 .5-1.2 .5,2.1 .5-1.2 .5,2.3 .5-.8 .5-.6 .5,1.8 .6-2 .5,1.1 .5-.9 .5-1 .5,2.2 .5-1.9 .5,2.4 .5-1.1 .5-1.3 .5,1.7 .5-1.7 .5,1.5 .5-1.4 .5-.9 .5,1.5 .5-1.2 .5,1.7 .5-.5 .5-1.1 .5,2.4 .5-1.9 .5,1.9 .5-.7 .5-1.1 .5,2.2 .5-2.1 .5,1.7 .5-1.3 .5-.3 .5,1.4 .5-1.7 .5,1.7 .6-1.1 .5-1.3 .5,1.9 .5-1.8 .5,1.6 .5-1 .5-.8 .5,2.5 .5-2 .5,1.6 .5-.7 .5-1.5 .5,2.3 .5-1.9 .5,1.9 .5-.8 .3-1.3 .5-.6 .5,3.1 .5-1.5 .5,3.1 .5-.9 .5-.8 .5,1.5 .5-1.9 .5,1.9 .5-1.3 .5-.8 .5,2.4 .5-2.3 .5,1.8 .5-1.1 .6-1.1 .5,2 .5-2.7 .5,2.2 .5-1.1 .5-.8 .5,2 .5-2.1 .5,2.5 .5-1.6 .5-.8 .5,2.1 .5-2.5 .5,1.9 .5-1.3 .5-1.1 .5,2.5 .5-2.1 .5,2.1 .5-1.4 .5-.8 .5,2 .5-1.6 .5,1.7 .5-.7 .5-1.2 .5,2.2 .5-1.6 .5,2.6 .5-1.3 .5-.8 .5,1.8 .6-2.1 .5,2.5 .5-1.2 .5-.9 .5,2.1 .5-2.6 .5,1.8 .5-1.3 .5-.9 .5,1.6 .5-2 .5,1.2 .5-.5 .5-1.8 .5,2.6 .5-2.7 .5,2.5 .5-.6 .5-.6 .5,2.4 .5-2.5 .5,2 .5-.7 .5-1 .5,2.1 .5-1.8 .5,2.2 .5-1.1 .5-.9 .5,1.5 .5-2 .6,1.9 .5,0 .5-1.5 .5,2.6 .5-2 .5,2 .5-.7 .5-1.3 .5,1.4 .5-1.8 .5,2 .5-.7 .5-.6 .6,1.8 .5-2 .6,2 .6-1.2"/>
</g>
<rect class="sp" x="132.95" y="595.7" width="1435.10" height="258.7"/>
<line class="tk" x1="132.9" y1="854.4" x2="132.9" y2="858.4"/>
<line class="tk" x1="298.2" y1="854.4" x2="298.2" y2="858.4"/>
<line class="tk" x1="463.5" y1="854.4" x2="463.5" y2="858.4"/>
<line class="tk" x1="628.7" y1="854.4" x2="628.7" y2="858.4"/>
<line class="tk" x1="794.0" y1="854.4" x2="794.0" y2="858.4"/>
<line class="tk" x1="959.3" y1="854.4" x2="959.3" y2="858.4"/>
<line class="tk" x1="1124.5" y1="854.4" x2="1124.5" y2="858.4"/>
<line class="tk" x1="1289.8" y1="854.4" x2="1289.8" y2="858.4"/>
<line class="tk" x1="1455.0" y1="854.4" x2="1455.0" y2="858.4"/>
<line class="tk" x1="128.95" y1="595.7" x2="132.95" y2="595.7"/>
<text class="t" style="font-size:30.7px" text-anchor="end" transform="translate(122.6,607.5) scale(1,1.0)">10.0</text>
<line class="tk" x1="128.95" y1="628.0" x2="132.95" y2="628.0"/>
<text class="t" style="font-size:30.7px" text-anchor="end" transform="translate(122.6,638.9) scale(1,1.0)">7.5</text>
<line class="tk" x1="128.95" y1="660.4" x2="132.95" y2="660.4"/>
<text class="t" style="font-size:30.7px" text-anchor="end" transform="translate(122.6,671.3) scale(1,1.0)">5.0</text>
<line class="tk" x1="128.95" y1="692.7" x2="132.95" y2="692.7"/>
<text class="t" style="font-size:30.7px" text-anchor="end" transform="translate(122.6,703.6) scale(1,1.0)">2.5</text>
<line class="tk" x1="128.95" y1="725.0" x2="132.95" y2="725.0"/>
<text class="t" style="font-size:30.7px" text-anchor="end" transform="translate(122.6,735.9) scale(1,1.0)">0.0</text>
<line class="tk" x1="128.95" y1="757.4" x2="132.95" y2="757.4"/>
<text class="t" style="font-size:30.7px" text-anchor="end" transform="translate(122.6,768.3) scale(1,1.0)">−2.5</text>
<line class="tk" x1="128.95" y1="789.7" x2="132.95" y2="789.7"/>
<text class="t" style="font-size:30.7px" text-anchor="end" transform="translate(122.6,800.6) scale(1,1.0)">−5.0</text>
<line class="tk" x1="128.95" y1="822.1" x2="132.95" y2="822.1"/>
<text class="t" style="font-size:30.7px" text-anchor="end" transform="translate(122.6,833.0) scale(1,1.0)">−7.5</text>
<line x1="123.4" y1="851.2" x2="123.4" y2="856.4" stroke="#cccccc" stroke-width="1.2"/>
<line class="tk" x1="128.95" y1="854.4" x2="132.95" y2="854.4"/>
<text class="t" text-anchor="middle" transform="translate(56.6,715.0) rotate(-90) scale(1,1.0)">Yaw (deg)</text>
<rect x="1342.7" y="601.6" width="219.3" height="95.4" rx="5" ry="5" fill="#fff" stroke="#cccccc" stroke-width="1.3"/>
<line x1="1355.3" y1="617.2" x2="1412.9" y2="617.2" stroke="#ffa500" stroke-width="2.7"/>
<text class="t" text-anchor="start" transform="translate(1426.5,627.4) scale(1,0.95)">ECF</text>
<line x1="1355.3" y1="647.7" x2="1412.9" y2="647.7" stroke="#ff0000" stroke-width="2.7"/>
<text class="t" dx="0 0 0 0 -0.5 -3 0.4" text-anchor="start" transform="translate(1426.5,657.9) scale(1,0.95)">Raw IMU</text>
<line x1="1355.3" y1="678.1" x2="1412.9" y2="678.1" stroke="#0000ff" stroke-width="2.7"/>
<text class="t" text-anchor="start" transform="translate(1426.5,688.3) scale(1,0.95)">Proposed</text>
</g>
<text class="t" style="font-size:30.7px" text-anchor="middle" transform="translate(132.6,887.6) scale(1,1.0)">0.00</text>
<text class="t" style="font-size:30.7px" text-anchor="middle" transform="translate(297.9,887.6) scale(1,1.0)">0.25</text>
<text class="t" style="font-size:30.7px" text-anchor="middle" transform="translate(463.2,887.6) scale(1,1.0)">0.50</text>
<text class="t" style="font-size:30.7px" text-anchor="middle" transform="translate(628.4,887.6) scale(1,1.0)">0.75</text>
<text class="t" style="font-size:30.7px" text-anchor="middle" transform="translate(793.7,887.6) scale(1,1.0)">1.00</text>
<text class="t" style="font-size:30.7px" text-anchor="middle" transform="translate(959.0,887.6) scale(1,1.0)">1.25</text>
<text class="t" style="font-size:30.7px" text-anchor="middle" transform="translate(1124.2,887.6) scale(1,1.0)">1.50</text>
<text class="t" style="font-size:30.7px" text-anchor="middle" transform="translate(1289.5,887.6) scale(1,1.0)">1.75</text>
<text class="t" style="font-size:30.7px" text-anchor="middle" transform="translate(1454.8,887.6) scale(1,1.0)">2.00</text>
<text class="t" text-anchor="middle" transform="translate(851.7,920.0) scale(1,1.0)">time (min)</text>
<circle cx="787.9" cy="22" r="1" fill="#808080"/><circle cx="801.6" cy="22" r="1" fill="#808080"/>
</svg></body></html>
